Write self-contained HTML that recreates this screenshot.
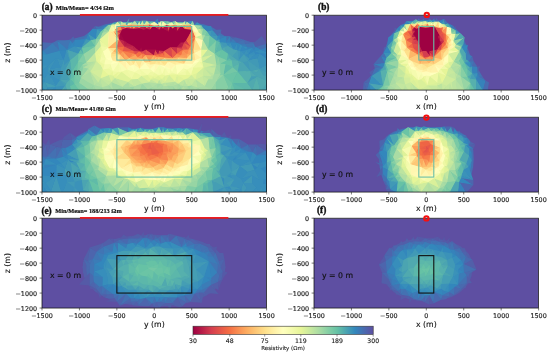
<!DOCTYPE html>
<html><head><meta charset="utf-8"><title>Resistivity sections</title><style>html,body{margin:0;padding:0;background:#fff;overflow:hidden}
svg{display:block}
.tk{font-family:'DejaVu Sans','Liberation Sans',sans-serif;font-size:6.4px;fill:#1a1a1a;stroke:#1a1a1a;stroke-width:0.15px}
.al{font-family:'DejaVu Sans','Liberation Sans',sans-serif;font-size:7.8px;fill:#111;stroke:#111;stroke-width:0.12px}
.an{font-family:'DejaVu Sans','Liberation Sans',sans-serif;font-size:7.8px;fill:#111;stroke:#111;stroke-width:0.15px}
.ct{font-family:'DejaVu Sans','Liberation Sans',sans-serif;font-size:6.2px;fill:#1a1a1a;stroke:#1a1a1a;stroke-width:0.12px}
.cl{font-family:'DejaVu Sans','Liberation Sans',sans-serif;font-size:5.5px;fill:#222;stroke:#222;stroke-width:0.1px}
.ti{font-family:'Liberation Serif',serif;font-weight:bold;fill:#111}
.tb{font-size:9.3px;stroke:#111;stroke-width:0.4px}
.ts{font-size:6.5px;stroke:#111;stroke-width:0.2px}
</style></head>
<body><svg width="550" height="355" viewBox="0 0 550 355">
<defs><clipPath id="cpa"><rect x="42" y="15.2" width="224.6" height="74.87"/></clipPath><clipPath id="cpb"><rect x="314" y="15.2" width="224.6" height="74.87"/></clipPath><clipPath id="cpc"><rect x="42" y="117.2" width="224.6" height="74.87"/></clipPath><clipPath id="cpd"><rect x="314" y="117.2" width="224.6" height="74.87"/></clipPath><clipPath id="cpe"><rect x="42" y="218.2" width="224.6" height="89.84"/></clipPath><clipPath id="cpf"><rect x="314" y="218.2" width="224.6" height="89.84"/></clipPath><linearGradient id="cbg" x1="0" x2="1" y1="0" y2="0"><stop offset="0.00" stop-color="#9e0142"/><stop offset="0.05" stop-color="#b81e48"/><stop offset="0.10" stop-color="#d43d4f"/><stop offset="0.15" stop-color="#e45549"/><stop offset="0.20" stop-color="#f46d43"/><stop offset="0.25" stop-color="#f98e52"/><stop offset="0.30" stop-color="#fdad60"/><stop offset="0.35" stop-color="#fdc776"/><stop offset="0.40" stop-color="#fee08b"/><stop offset="0.45" stop-color="#fff0a6"/><stop offset="0.50" stop-color="#ffffbe"/><stop offset="0.55" stop-color="#f3faac"/><stop offset="0.60" stop-color="#e6f598"/><stop offset="0.65" stop-color="#c8e99e"/><stop offset="0.70" stop-color="#aadca4"/><stop offset="0.75" stop-color="#86cfa5"/><stop offset="0.80" stop-color="#66c2a5"/><stop offset="0.85" stop-color="#4ba4b1"/><stop offset="0.90" stop-color="#3387bc"/><stop offset="0.95" stop-color="#496aaf"/><stop offset="1.00" stop-color="#5e4fa2"/></linearGradient></defs>
<rect width="550" height="355" fill="#fff"/>
<g clip-path="url(#cpa)">
<rect x="42" y="15.2" width="224.6" height="74.87" fill="#5e4fa2"/>
<path fill="#4471b2" fill-rule="evenodd" d="M142.0 21.7L154.5 21.4 192.0 22.0 198.0 23.5 203.0 24.0 213.5 28.1 224.5 36.0 244.0 40.9 267.5 44.3 267.5 90.7 41.0 90.7 41.0 44.3 64.5 40.9 84.0 36.0 95.0 28.1 106.0 24.0 110.5 23.5 117.0 21.9Z"/>
<path fill="#3387bc" fill-rule="evenodd" d="M151.0 21.7L191.5 22.1 198.0 23.9 205.9 26.7 214.5 31.4 225.0 38.8 244.5 45.3 267.5 49.9 267.5 90.7 41.0 90.7 41.0 49.9 64.0 45.3 83.5 38.8 94.0 31.4 102.7 26.7 109.5 24.2 117.0 22.1Z"/>
<path fill="#459eb4" fill-rule="evenodd" d="M130.5 22.2L154.5 21.8 191.5 22.4 199.0 24.6 207.1 29.2 215.2 36.2 225.5 43.9 243.0 53.1 253.5 58.0 267.5 63.5 267.5 90.7 49.5 90.7 51.2 75.2 57.4 64.7 69.5 52.2 85.5 42.3 101.5 29.2 109.0 24.9 117.0 22.4Z"/>
<path fill="#5cb7aa" fill-rule="evenodd" d="M147.5 22.2L191.5 22.6 199.5 25.2 207.0 30.4 213.1 38.7 222.5 48.1 229.3 53.7 238.8 63.2 246.5 71.7 262.0 87.8 262.3 90.7 66.2 90.7 68.7 69.2 70.0 65.7 74.5 56.7 76.3 54.7 94.0 38.8 102.0 30.0 109.5 25.0 117.0 22.6Z"/>
<path fill="#74c7a5" fill-rule="evenodd" d="M127.0 22.7L154.5 22.3 191.5 22.8 199.0 25.3 206.5 30.9 210.7 40.2 224.0 57.2 229.3 67.7 236.7 90.7 73.4 90.7 73.5 78.7 74.9 67.7 79.5 57.1 95.0 40.1 102.0 31.0 107.6 26.7 109.8 25.2 117.0 22.8Z"/>
<path fill="#8fd2a4" fill-rule="evenodd" d="M142.5 22.7L154.5 22.5 191.5 23.1 197.1 25.2 198.8 26.2 204.8 32.2 207.9 41.2 213.4 49.2 220.0 60.1 223.9 72.2 225.6 84.2 225.7 90.7 81.4 90.7 79.6 83.7 79.4 72.7 79.9 68.7 82.5 60.2 89.5 49.7 96.5 41.1 103.0 32.1 110.0 26.0 117.0 23.1Z"/>
<path fill="#aadca4" fill-rule="evenodd" d="M124.5 23.2L154.5 22.7 191.5 23.3 197.0 25.8 202.4 32.2 204.5 41.1 210.5 50.7 215.2 61.2 217.4 72.2 216.9 82.2 216.0 84.3 211.3 90.7 92.7 90.7 86.5 83.7 85.5 81.7 84.4 72.2 86.7 60.7 91.8 50.7 105.4 31.7 111.5 25.8 116.0 23.7 117.0 23.3Z"/>
<path fill="#c3e79f" fill-rule="evenodd" d="M141.0 23.2L154.5 23.0 191.5 23.6 196.6 26.2 198.9 28.7 201.1 32.7 202.4 41.7 207.8 51.7 211.0 61.7 211.6 72.2 209.6 79.7 205.0 83.6 198.0 84.2 108.0 84.3 97.0 83.5 92.0 79.6 91.5 79.2 89.7 72.2 90.5 61.7 94.0 51.7 105.9 32.7 109.3 28.7 111.9 26.2 117.0 23.6Z"/>
<path fill="#daf09a" fill-rule="evenodd" d="M128.5 23.7L154.5 23.3 191.5 23.9 196.5 26.7 198.7 28.7 200.1 33.2 201.5 42.8 205.6 53.2 207.3 62.7 206.5 70.7 205.5 73.3 203.5 76.1 202.5 76.9 195.5 79.5 174.0 80.7 132.0 80.7 109.0 79.7 107.0 79.3 99.0 76.4 97.0 74.5 95.4 71.7 94.4 61.7 96.5 52.2 104.9 35.7 110.0 28.4 116.5 24.1Z"/>
<path fill="#ebf7a0" fill-rule="evenodd" d="M147.5 23.7L191.5 24.2 198.3 28.7 199.8 37.7 200.0 41.2 200.4 41.7 200.5 43.7 200.9 44.2 201.0 46.7 203.2 53.7 203.7 61.7 201.6 69.2 193.5 75.1 174.0 77.3 154.5 77.7 132.0 77.3 109.5 75.1 100.5 69.2 98.2 61.7 98.9 52.7 105.5 36.6 110.3 28.7 117.0 24.2Z"/>
<path fill="#f5fbaf" fill-rule="evenodd" d="M133.0 24.2L154.5 23.9 190.0 24.4 191.5 24.8 197.4 29.2 197.6 29.7 199.7 38.7 199.8 41.2 200.3 41.7 200.3 43.7 200.8 44.2 200.8 46.7 202.1 52.7 201.5 60.7 201.0 62.2 198.2 66.7 192.1 70.7 177.0 72.8 154.5 73.4 132.0 73.0 115.0 70.8 111.0 69.7 105.0 65.7 103.0 60.7 102.5 53.2 104.5 44.7 107.2 36.7 111.0 29.4 117.0 24.8 118.5 24.4Z"/>
<path fill="#fffebe" fill-rule="evenodd" d="M153.5 24.2L190.0 24.7 191.5 25.5 196.5 29.8 199.6 39.2 200.1 43.7 200.6 44.2 201.2 52.7 199.2 60.2 194.5 64.4 192.5 65.8 190.5 66.4 177.0 68.6 154.5 69.0 131.5 68.6 116.5 66.2 113.0 64.5 108.4 61.2 107.9 60.2 106.2 53.2 106.8 44.7 108.5 37.7 111.8 30.2 116.9 25.7 118.5 24.7Z"/>
<path fill="#fff2aa" fill-rule="evenodd" d="M136.5 24.7L154.5 24.5 189.5 24.9 190.4 25.2 195.8 30.7 198.6 38.2 199.8 45.2 199.7 52.2 197.5 58.5 194.5 60.9 191.0 62.9 176.5 65.4 154.5 65.8 132.0 65.4 123.5 64.2 117.0 62.7 111.2 58.7 108.9 52.2 108.8 45.2 110.0 38.2 112.8 30.7 118.5 25.0Z"/>
<path fill="#fee695" fill-rule="evenodd" d="M119.0 25.2L154.5 24.8 189.6 25.2 194.2 30.2 196.8 37.2 198.0 45.2 197.4 53.2 195.5 57.2 193.0 59.7 190.5 60.8 184.5 62.5 176.5 63.3 154.5 63.8 132.5 63.4 124.0 62.5 118.0 60.8 114.8 59.2 112.8 56.7 111.1 52.7 110.6 45.2 111.7 37.7 113.9 31.2 114.7 29.7Z"/>
<path fill="#fed683" fill-rule="evenodd" d="M143.5 25.2L189.5 25.6 193.3 30.2 195.4 37.2 196.3 44.7 195.5 52.7 192.6 57.7 184.0 60.9 169.5 61.6 154.5 61.8 139.0 61.6 124.5 60.9 116.0 57.7 113.1 52.7 112.3 45.2 113.2 37.2 115.1 30.7 118.9 25.7Z"/>
<path fill="#fdc372" fill-rule="evenodd" d="M120.0 25.7L154.5 25.3 189.0 25.7 192.7 30.2 194.9 37.7 195.3 46.2 194.0 52.2 192.5 54.9 191.0 56.5 184.0 59.4 169.5 60.3 154.0 60.4 135.5 60.2 125.0 59.4 123.0 59.0 117.5 56.5 116.3 55.2 114.6 52.2 113.4 46.7 113.7 37.7 115.7 30.7 119.0 26.2Z"/>
<path fill="#fdad60" fill-rule="evenodd" d="M142.0 25.7L189.0 26.1 192.3 30.2 194.3 37.7 194.4 46.7 191.6 53.7 190.0 55.0 185.0 57.8 173.0 58.9 154.5 59.1 135.5 58.9 125.0 58.0 123.0 57.5 117.5 54.2 116.0 51.7 114.2 46.7 114.3 37.7 116.3 30.2 119.5 26.2Z"/>
<path fill="#f99355" fill-rule="evenodd" d="M121.0 26.2L154.5 25.8 188.5 26.3 191.9 30.7 193.5 37.7 193.1 46.7 190.0 52.6 188.5 53.7 184.5 56.0 177.5 57.0 162.0 57.7 146.5 57.7 135.5 57.4 124.0 55.9 118.5 52.5 115.4 46.2 115.1 37.7 116.7 30.7 120.0 26.3Z"/>
<path fill="#f67a49" fill-rule="evenodd" d="M148.0 26.2L188.0 26.5 191.3 31.2 192.4 37.7 191.5 46.2 188.5 50.7 186.5 52.4 183.6 53.7 177.5 55.3 173.0 55.7 162.0 56.3 147.0 56.3 132.0 55.4 125.0 53.7 122.0 52.3 120.5 51.1 116.9 45.7 116.2 37.7 117.4 30.7 120.2 26.7Z"/>
<path fill="#ee6445" fill-rule="evenodd" d="M130.0 26.7L154.5 26.4 188.0 27.0 190.5 30.7 190.7 31.7 191.4 37.7 190.2 45.2 185.5 50.5 176.5 53.8 162.0 54.9 150.5 54.9 131.5 53.6 122.7 50.2 118.4 45.2 117.2 37.7 117.9 31.2 120.5 27.1Z"/>
<path fill="#e1504b" fill-rule="evenodd" d="M122.0 27.2L154.5 26.7 186.6 27.2 187.7 27.7 190.1 31.2 190.8 37.7 188.5 44.8 184.5 48.8 181.5 50.3 176.5 52.1 171.5 52.9 158.0 53.9 147.0 53.8 136.5 52.9 132.0 52.1 125.9 49.7 124.0 48.7 119.7 44.2 117.8 37.7 118.4 31.7 120.9 27.7Z"/>
<path fill="#d43d4f" fill-rule="evenodd" d="M144.5 27.2L154.5 27.0 186.5 27.6 189.7 31.7 190.2 37.7 187.5 43.6 181.0 48.8 171.5 51.7 158.5 52.9 150.5 53.0 136.9 51.7 127.5 48.7 120.8 43.2 118.5 37.2 118.9 31.7 121.8 27.7Z"/>
<path fill="#be254a" fill-rule="evenodd" d="M138.5 27.7L154.5 27.4 186.0 28.0 189.2 31.7 189.4 37.2 186.5 42.4 180.4 47.2 171.5 50.5 154.5 52.4 137.5 50.6 128.5 47.4 123.0 43.2 121.9 42.2 119.3 37.7 119.2 36.2 119.4 31.7 122.5 28.0Z"/>
<path fill="#9e0142" fill-rule="evenodd" d="M136.0 28.2L154.5 27.8 185.5 28.4 186.1 28.7 188.6 31.7 188.7 36.2 185.0 41.5 179.5 45.9 177.0 47.5 171.0 49.4 167.0 50.5 154.5 51.8 141.5 50.4 132.0 47.6 129.6 46.2 123.8 41.7 119.9 36.2 120.0 31.7 122.5 28.7Z"/>
<path fill="#378ebb" d="M56.9 93.0L51.9 93.0 55.7 86.5ZM51.9 93.0L49.0 91.0 55.7 86.5ZM49.0 91.0L45.9 90.8 47.6 87.4ZM40.8 85.9L45.9 90.8 41.3 92.5ZM259.6 53.6L260.9 49.7 268.7 53.4ZM259.6 53.6L254.1 51.0 260.9 49.7ZM56.5 58.2L48.6 65.2 46.7 54.2ZM48.6 65.2L41.5 61.0 46.7 54.2ZM59.5 50.7L56.5 58.2 46.7 54.2ZM59.5 50.7L63.8 60.7 56.5 58.2ZM255.5 54.2L259.6 53.6 257.4 58.2ZM41.5 61.0L40.1 57.9 46.7 54.2ZM40.1 57.9L40.8 54.0 46.7 54.2ZM61.5 67.7L50.3 69.1 56.5 58.2ZM48.6 65.2L38.7 65.3 41.5 61.0ZM100.9 31.4L96.6 29.1 104.8 28.3ZM44.5 78.2L44.7 82.1 40.9 82.1ZM39.8 71.9L48.2 73.1 44.5 78.2ZM48.2 73.1L60.2 80.1 55.7 86.5ZM48.2 73.1L39.8 71.9 48.6 65.2ZM248.1 60.9L249.2 58.8 257.4 58.2ZM249.2 58.8L255.5 54.2 257.4 58.2ZM84.6 39.3L86.1 39.0 81.8 47.5ZM190.5 24.4L186.9 21.7 192.8 20.8ZM230.3 42.4L227.9 46.0 226.2 42.6ZM219.5 39.4L216.1 40.6 217.7 36.1ZM247.1 47.0L246.4 49.7 242.4 46.1ZM248.7 54.2L246.4 49.7 252.2 47.7ZM255.5 54.2L248.7 54.2 254.1 51.0ZM237.6 50.5L240.5 44.2 242.4 46.1ZM237.1 43.1L237.6 50.5 233.6 49.4ZM243.8 54.4L248.7 54.2 249.2 58.8ZM240.3 51.2L237.6 50.5 242.4 46.1ZM243.8 54.4L240.3 51.2 246.4 49.7Z"/>
<path fill="#3b92b9" d="M61.5 90.4L56.9 93.0 55.7 86.5ZM49.0 91.0L47.6 87.4 55.7 86.5ZM65.3 85.6L61.5 90.4 55.7 86.5ZM259.6 53.6L266.7 58.4 257.4 58.2ZM63.8 60.7L66.0 50.6 70.0 60.3ZM63.8 60.7L61.5 67.7 56.5 58.2ZM40.9 82.1L44.7 82.1 40.8 85.9ZM266.7 58.4L267.0 65.2 257.4 58.2ZM267.0 65.2L259.5 69.1 257.4 58.2ZM78.3 53.8L67.4 49.8 74.1 46.2ZM80.5 49.8L78.3 53.8 74.1 46.2ZM50.3 69.1L48.6 65.2 56.5 58.2ZM64.2 65.6L63.8 60.7 70.0 60.3ZM60.2 80.1L50.3 69.1 61.5 67.7ZM39.8 71.9L38.7 65.3 48.6 65.2ZM39.8 71.9L44.5 78.2 39.6 78.3ZM60.2 80.1L48.2 73.1 50.3 69.1ZM44.7 82.1L48.2 73.1 55.7 86.5ZM44.5 78.2L48.2 73.1 44.7 82.1ZM209.9 35.8L212.5 29.9 217.7 36.1ZM194.2 25.3L196.9 22.0 201.8 25.6ZM227.9 46.0L230.3 42.4 233.6 49.4ZM249.2 58.8L248.7 54.2 255.5 54.2ZM248.7 54.2L243.8 54.4 246.4 49.7ZM240.3 51.2L243.8 54.4 238.6 60.7Z"/>
<path fill="#50a9af" d="M259.5 92.7L257.1 76.5 268.9 81.7ZM270.4 86.3L263.2 92.6 268.9 81.7ZM269.4 90.8L263.2 92.6 270.4 86.3ZM61.5 90.4L65.3 85.6 63.5 93.5ZM251.2 76.5L252.7 73.1 257.1 76.5ZM252.7 73.1L251.2 76.5 250.4 71.1ZM259.5 69.1L256.9 72.4 250.4 71.1ZM83.4 53.9L80.5 49.8 81.8 47.5ZM64.6 71.2L71.9 71.5 70.1 79.8ZM150.6 21.4L150.0 24.3 146.8 20.8ZM143.7 25.3L142.8 20.6 146.8 20.8ZM71.9 71.5L65.8 68.6 70.0 60.3ZM252.6 90.9L247.2 83.2 257.1 76.5ZM127.3 25.2L125.3 24.4 129.5 18.0ZM232.4 56.6L231.7 60.6 229.6 58.8ZM227.9 53.7L232.4 56.6 229.6 58.8ZM224.0 46.7L227.9 53.7 221.9 49.8ZM238.6 60.7L231.7 60.6 232.4 56.6ZM238.6 60.7L242.6 62.1 238.7 64.3Z"/>
<path fill="#4ba4b1" d="M257.1 76.5L263.4 75.4 268.9 81.7ZM263.2 92.6L259.5 92.7 268.9 81.7ZM263.4 75.4L267.8 78.7 268.9 81.7ZM65.3 85.6L69.0 93.0 63.5 93.5ZM268.2 75.6L267.8 78.7 263.4 75.4ZM256.9 72.4L263.4 75.4 257.1 76.5ZM256.9 72.4L259.5 69.1 263.4 75.4ZM252.7 73.1L256.9 72.4 257.1 76.5ZM256.9 72.4L252.7 73.1 250.4 71.1ZM67.4 49.8L78.3 53.8 70.0 60.3ZM66.1 83.7L60.2 80.1 70.1 79.8ZM137.5 24.9L134.9 20.8 139.5 21.1ZM142.8 20.6L140.1 24.9 139.5 21.1ZM64.6 71.2L65.8 68.6 71.9 71.5ZM237.7 71.8L242.6 62.1 250.4 71.1ZM238.7 64.3L242.6 62.1 237.7 71.8ZM227.9 53.7L224.0 46.7 227.9 46.0ZM232.4 56.6L227.9 53.7 233.6 49.4ZM227.9 53.7L227.9 46.0 233.6 49.4ZM216.1 40.6L219.5 39.4 219.9 42.2ZM237.6 50.5L232.4 56.6 233.6 49.4Z"/>
<path fill="#56b0ad" d="M70.1 86.1L66.1 83.7 70.1 79.8ZM65.3 85.6L66.1 83.7 70.1 86.1ZM69.0 93.0L65.3 85.6 71.1 90.3ZM65.3 85.6L70.1 86.1 71.1 90.3ZM251.2 76.5L237.7 71.8 250.4 71.1ZM237.7 71.8L251.2 76.5 247.2 83.2ZM252.6 90.9L257.1 76.5 259.5 92.7ZM186.9 21.7L185.0 24.9 184.7 21.1ZM232.7 67.2L231.7 60.6 238.7 64.3ZM227.9 53.7L229.6 58.8 226.8 60.2ZM231.7 60.6L238.6 60.7 238.7 64.3Z"/>
<path fill="#4199b6" d="M45.9 90.8L40.8 85.9 47.6 87.4ZM40.8 85.9L44.7 82.1 47.6 87.4ZM259.5 69.1L267.0 65.2 266.8 72.6ZM66.0 50.6L67.4 49.8 70.0 60.3ZM81.8 47.5L80.5 49.8 74.1 46.2ZM259.5 69.1L248.1 60.9 257.4 58.2ZM63.8 60.7L64.2 65.6 61.5 67.7ZM96.0 39.2L96.6 29.1 100.9 31.4ZM90.7 40.3L88.1 33.4 96.0 39.2ZM60.2 80.1L65.3 85.6 55.7 86.5ZM44.5 78.2L40.9 82.1 39.6 78.3ZM64.6 71.2L60.2 80.1 61.5 67.7ZM50.3 69.1L48.2 73.1 48.6 65.2ZM65.8 68.6L64.2 65.6 70.0 60.3ZM64.2 65.6L65.8 68.6 61.5 67.7ZM65.8 68.6L64.6 71.2 61.5 67.7ZM212.5 29.9L209.9 35.8 207.1 31.7ZM86.1 39.0L90.7 40.3 81.8 47.5ZM242.6 62.1L248.1 60.9 250.4 71.1ZM227.9 46.0L224.0 46.7 226.2 42.6ZM224.0 46.7L219.9 42.2 226.2 42.6ZM216.1 40.6L209.9 35.8 217.7 36.1ZM243.8 54.4L249.2 58.8 248.1 60.9ZM237.6 50.5L240.3 51.2 238.6 60.7Z"/>
<path fill="#3b7cb7" d="M46.7 54.2L42.9 50.9 52.6 43.0ZM42.9 50.9L40.3 51.5 38.7 46.2ZM59.5 50.7L46.7 54.2 52.6 43.0ZM255.4 46.9L252.2 47.7 253.5 43.2ZM252.2 47.7L255.4 46.9 254.1 51.0ZM237.1 43.1L230.3 42.4 232.8 38.7ZM245.2 43.9L247.1 47.0 242.4 46.1ZM219.5 39.4L220.0 35.5 226.4 35.9ZM240.5 44.2L245.2 43.9 242.4 46.1Z"/>
<path fill="#496aaf" d="M42.9 50.9L40.1 42.1 52.6 43.0ZM245.2 43.9L243.4 39.5 253.5 43.2ZM212.5 29.9L221.5 29.4 217.7 36.1ZM237.1 43.1L232.8 38.7 234.9 37.3ZM237.1 43.1L234.9 37.3 243.4 39.5Z"/>
<path fill="#4471b2" d="M40.1 42.1L42.9 50.9 38.7 46.2ZM268.0 46.6L260.9 49.7 266.8 43.7ZM57.2 40.3L59.5 50.7 52.6 43.0ZM260.9 49.7L255.4 46.9 266.8 43.7ZM74.8 40.0L72.4 43.2 69.9 40.3ZM84.8 36.8L84.6 39.3 74.8 40.0ZM111.7 24.5L111.1 23.0 113.0 22.7ZM221.5 29.4L220.0 35.5 217.7 36.1ZM230.3 42.4L229.8 36.1 232.8 38.7ZM226.4 35.9L229.8 36.1 226.2 42.6ZM240.5 44.2L237.1 43.1 243.4 39.5ZM245.2 43.9L240.5 44.2 243.4 39.5Z"/>
<path fill="#97d5a4" d="M94.2 85.3L92.3 91.1 87.5 88.8ZM144.3 93.0L147.8 89.1 148.2 93.8ZM108.9 31.5L102.5 32.4 104.8 28.3ZM216.5 92.7L210.9 89.6 215.5 82.3ZM95.4 46.2L95.0 53.0 83.4 53.9ZM95.0 53.0L86.2 62.4 83.4 53.9ZM88.4 68.6L80.9 78.1 83.0 67.5ZM82.2 65.1L88.1 64.9 83.0 67.5ZM161.5 26.4L160.6 20.9 162.6 21.1ZM219.9 75.3L223.3 75.1 215.5 82.3ZM108.1 25.0L111.7 24.5 108.9 31.5ZM219.8 63.8L215.6 67.2 216.5 64.9ZM220.5 73.1L215.6 67.2 219.8 63.8Z"/>
<path fill="#9cd7a4" d="M96.4 90.4L92.3 91.1 94.2 85.3ZM80.9 78.1L94.2 85.3 87.5 88.8ZM122.3 87.1L127.6 91.0 123.7 90.9ZM79.0 82.7L80.9 78.1 87.5 88.8ZM197.6 87.4L205.3 92.9 199.9 94.4ZM133.1 90.2L129.5 87.1 134.5 86.5ZM144.3 93.0L138.9 92.4 141.9 83.6ZM147.8 89.1L144.3 93.0 141.9 83.6ZM210.9 89.6L209.1 93.1 205.3 92.9ZM165.2 90.0L169.0 88.7 166.5 93.1ZM180.7 93.8L181.3 89.6 183.4 94.5ZM154.9 94.1L156.7 89.0 159.0 92.9ZM147.8 89.1L151.7 94.2 148.2 93.8ZM151.7 94.2L147.8 89.1 152.5 87.2ZM203.6 28.6L201.9 35.0 201.3 28.5ZM197.6 92.8L195.3 90.7 197.6 87.4ZM180.7 93.8L176.6 90.4 181.3 89.6ZM176.6 90.4L173.0 92.8 172.9 86.3ZM181.3 89.6L176.6 90.4 180.9 86.5ZM120.6 90.4L113.1 90.2 122.3 87.1ZM102.2 87.3L99.4 91.0 96.4 90.4ZM102.2 87.3L103.1 90.2 99.4 91.0ZM189.1 91.1L187.5 85.9 191.3 85.4ZM181.3 89.6L185.9 90.9 183.4 94.5ZM215.6 67.2L220.5 73.1 213.9 74.7Z"/>
<path fill="#86cfa5" d="M92.3 91.1L86.6 93.1 87.5 88.8ZM86.6 93.1L79.9 91.0 87.5 88.8ZM82.2 65.1L83.0 67.5 77.4 71.5ZM80.9 78.1L78.8 75.4 83.0 67.5ZM228.4 87.0L216.5 92.7 215.5 82.3ZM223.3 75.1L228.4 87.0 215.5 82.3ZM221.3 94.5L228.4 87.0 224.5 94.3ZM205.0 35.6L201.9 35.0 207.1 31.7ZM214.5 53.7L218.3 56.7 216.5 64.9ZM205.0 35.6L209.9 35.8 202.9 40.1ZM209.9 35.8L208.0 49.4 202.9 40.1Z"/>
<path fill="#66c2a5" d="M70.1 86.1L74.6 83.8 71.1 90.3ZM71.9 71.5L78.1 61.9 77.4 71.5ZM74.6 83.8L79.9 91.0 71.1 90.3ZM74.5 75.8L71.6 80.3 70.1 79.8ZM71.6 80.3L74.5 75.8 74.6 83.8ZM232.0 82.9L237.7 71.8 247.2 83.2ZM203.6 28.6L201.3 28.5 201.8 25.6ZM218.3 56.7L227.9 53.7 226.8 60.2ZM221.9 49.8L227.9 53.7 218.3 56.7ZM225.5 64.0L219.8 63.8 226.8 60.2ZM231.7 60.6L225.5 64.0 226.8 60.2ZM225.5 64.0L231.7 60.6 232.7 67.2Z"/>
<path fill="#459eb4" d="M266.8 72.6L268.2 75.6 263.4 75.4ZM259.5 69.1L266.8 72.6 263.4 75.4ZM47.6 87.4L44.7 82.1 55.7 86.5ZM247.2 83.2L251.2 76.5 257.1 76.5ZM248.1 60.9L259.5 69.1 250.4 71.1ZM65.3 85.6L60.2 80.1 66.1 83.7ZM60.2 80.1L64.6 71.2 70.1 79.8ZM113.0 22.7L117.6 21.8 114.8 24.6ZM219.9 42.2L224.0 46.7 221.9 49.8ZM237.6 50.5L238.6 60.7 232.4 56.6ZM242.6 62.1L243.8 54.4 248.1 60.9ZM238.6 60.7L243.8 54.4 242.6 62.1Z"/>
<path fill="#b5e1a2" d="M98.2 82.2L94.2 85.3 90.4 71.6ZM134.5 86.5L129.5 87.1 128.2 81.9ZM208.2 79.2L211.7 76.3 212.7 79.5ZM175.1 81.8L178.4 83.7 172.9 86.3ZM165.0 82.8L175.1 81.8 167.3 86.1ZM88.4 68.6L88.1 64.9 96.5 61.3ZM201.9 61.9L214.5 53.7 216.5 64.9ZM165.0 82.8L162.9 86.2 161.3 83.7ZM102.2 87.3L98.2 82.2 100.6 78.2ZM184.2 79.5L187.5 85.9 183.2 86.0ZM216.5 64.9L215.6 67.2 203.5 67.4Z"/>
<path fill="#c8e99e" d="M100.6 78.2L98.2 82.2 90.4 71.6ZM131.4 79.2L134.5 86.5 128.2 81.9ZM195.5 79.5L202.7 75.7 205.0 86.3ZM211.7 76.3L202.7 75.7 203.5 67.4ZM195.5 79.5L191.3 85.4 187.7 78.3ZM176.7 25.4L173.9 25.0 174.9 20.8ZM108.9 75.0L111.4 82.0 100.6 78.2ZM187.5 85.9L184.2 79.5 187.7 78.3Z"/>
<path fill="#c3e79f" d="M134.5 86.5L137.8 79.0 141.9 83.6ZM131.4 79.2L137.8 79.0 134.5 86.5ZM122.3 87.1L115.0 78.1 128.2 81.9ZM202.7 75.7L208.2 79.2 205.0 86.3ZM150.9 79.3L157.5 83.5 149.1 82.2ZM86.2 62.4L95.0 53.0 96.5 61.3ZM120.9 21.2L125.3 24.4 120.6 25.6ZM185.0 24.9L186.9 21.7 190.5 24.4ZM111.4 82.0L108.7 85.3 100.6 78.2ZM191.3 85.4L187.5 85.9 187.7 78.3ZM215.6 67.2L213.9 74.7 203.5 67.4Z"/>
<path fill="#aadca4" d="M136.9 90.4L134.5 86.5 141.9 83.6ZM94.2 85.3L80.9 78.1 90.4 71.6ZM205.3 92.9L197.6 87.4 205.0 86.3ZM136.9 90.4L133.1 90.2 134.5 86.5ZM129.5 87.1L122.3 87.1 128.2 81.9ZM138.9 92.4L136.9 90.4 141.9 83.6ZM147.8 89.1L149.1 82.2 152.5 87.2ZM149.1 82.2L147.8 89.1 141.9 83.6ZM210.9 89.6L205.3 92.9 205.0 86.3ZM169.0 88.7L165.2 90.0 167.3 86.1ZM157.5 83.5L156.7 89.0 152.5 87.2ZM99.6 39.6L102.5 32.4 108.9 31.5ZM201.9 35.0L205.0 35.6 202.9 40.1ZM195.3 90.7L191.3 85.4 197.6 87.4ZM178.4 83.7L176.6 90.4 172.9 86.3ZM162.9 86.2L156.7 89.0 161.3 83.7ZM162.4 92.4L162.9 86.2 165.2 90.0ZM165.2 90.0L162.9 86.2 167.3 86.1ZM108.7 85.3L103.1 90.2 102.2 87.3ZM187.5 85.9L185.9 90.9 183.2 86.0ZM108.7 85.3L108.9 90.7 103.1 90.2Z"/>
<path fill="#5cb7aa" d="M78.3 53.8L78.1 61.9 70.0 60.3ZM78.1 61.9L71.9 71.5 70.0 60.3ZM71.6 80.3L70.1 86.1 70.1 79.8ZM71.6 80.3L74.6 83.8 70.1 86.1ZM232.0 82.9L247.2 83.2 244.0 88.7ZM247.1 93.7L242.7 92.7 244.0 88.7ZM247.2 83.2L249.1 90.4 244.0 88.7ZM252.6 90.9L249.1 90.4 247.2 83.2ZM214.5 53.7L219.9 42.2 221.9 49.8ZM232.7 67.2L238.7 64.3 237.7 71.8ZM131.3 24.4L131.8 22.2 134.9 20.8ZM111.7 24.5L113.0 22.7 114.8 24.6Z"/>
<path fill="#3682ba" d="M260.9 49.7L268.0 46.6 268.7 53.4ZM59.5 50.7L57.2 40.3 66.0 50.6ZM57.2 40.3L67.4 49.8 66.0 50.6ZM72.4 43.2L67.4 49.8 69.9 40.3ZM72.4 43.2L74.8 40.0 74.1 46.2ZM211.1 25.9L212.5 29.9 207.1 31.7ZM154.3 21.7L157.7 18.5 158.4 24.9ZM203.6 28.6L211.1 25.9 207.1 31.7ZM203.6 28.6L201.8 25.6 211.1 25.9ZM86.1 39.0L84.6 39.3 84.8 36.8ZM246.4 49.7L247.1 47.0 252.2 47.7ZM229.8 36.1L230.3 42.4 226.2 42.6Z"/>
<path fill="#3387bc" d="M266.7 58.4L259.6 53.6 268.7 53.4ZM40.8 54.0L42.9 50.9 46.7 54.2ZM40.8 54.0L40.3 51.5 42.9 50.9ZM63.8 60.7L59.5 50.7 66.0 50.6ZM254.1 51.0L255.4 46.9 260.9 49.7ZM259.6 53.6L255.5 54.2 254.1 51.0ZM74.8 40.0L81.8 47.5 74.1 46.2ZM67.4 49.8L72.4 43.2 74.1 46.2ZM74.8 40.0L84.6 39.3 81.8 47.5ZM90.7 40.3L86.1 39.0 88.1 33.4ZM111.1 23.0L111.7 24.5 108.1 25.0ZM219.5 39.4L226.4 35.9 226.2 42.6ZM219.9 42.2L219.5 39.4 226.2 42.6ZM230.3 42.4L237.1 43.1 233.6 49.4ZM248.7 54.2L252.2 47.7 254.1 51.0ZM88.1 33.4L92.8 28.6 96.0 39.2ZM92.8 28.6L96.6 29.1 96.0 39.2ZM220.0 35.5L219.5 39.4 217.7 36.1ZM240.5 44.2L237.6 50.5 237.1 43.1ZM246.4 49.7L240.3 51.2 242.4 46.1Z"/>
<path fill="#9e0142" d="M158.1 42.7L160.5 47.1 156.9 46.7ZM141.2 47.3L139.3 51.3 133.5 46.1ZM160.5 47.1L159.3 50.4 156.9 46.7ZM159.3 50.4L160.5 47.1 164.0 51.1ZM138.5 43.1L141.2 47.3 133.5 46.1ZM131.0 36.1L129.5 42.3 127.1 38.6ZM131.0 36.1L134.0 36.2 129.5 42.3ZM127.3 43.1L129.5 42.3 133.5 46.1ZM129.5 42.3L127.3 43.1 127.1 38.6ZM127.3 43.1L124.5 40.8 127.1 38.6ZM124.5 40.8L124.8 32.9 127.1 38.6ZM124.5 40.8L120.5 32.9 124.8 32.9ZM156.7 40.7L153.1 38.9 156.5 36.3ZM160.7 35.3L156.7 40.7 156.5 36.3ZM156.7 40.7L160.7 35.3 158.1 42.7ZM156.7 40.7L155.5 42.9 153.1 38.9ZM155.5 42.9L158.1 42.7 156.9 46.7ZM155.5 42.9L156.7 40.7 158.1 42.7ZM155.5 42.9L148.0 46.7 153.1 38.9ZM120.5 32.9L122.0 29.4 124.8 32.9ZM176.8 31.5L178.7 36.5 171.5 36.0ZM154.0 31.4L158.6 32.0 156.5 36.3ZM158.6 32.0L160.7 35.3 156.5 36.3ZM158.6 32.0L154.0 31.4 156.5 27.8ZM172.7 28.6L176.8 31.5 171.5 36.0ZM163.0 44.5L160.5 47.1 158.1 42.7ZM160.5 47.1L163.0 44.5 164.0 51.1ZM163.0 44.5L170.7 46.9 164.0 51.1ZM170.7 46.9L163.0 44.5 166.7 43.0ZM146.0 49.5L142.4 51.5 141.2 47.3ZM129.5 42.3L135.6 42.2 133.5 46.1ZM135.6 42.2L138.5 43.1 133.5 46.1ZM134.0 36.2L135.6 42.2 129.5 42.3ZM145.8 47.7L146.0 49.5 141.2 47.3ZM145.8 47.7L148.0 46.7 146.0 49.5ZM122.0 29.4L126.0 28.0 124.8 32.9ZM182.5 33.2L176.8 31.5 184.6 29.1ZM182.5 33.2L178.7 36.5 176.8 31.5ZM178.7 36.5L172.5 39.7 171.5 36.0ZM159.3 29.8L158.6 32.0 156.5 27.8ZM163.0 44.5L163.4 35.6 166.7 43.0ZM160.7 35.3L163.4 35.6 158.1 42.7ZM163.4 35.6L163.0 44.5 158.1 42.7ZM159.3 50.4L155.1 49.5 156.9 46.7ZM148.0 46.7L155.1 49.5 146.0 49.5ZM155.1 49.5L155.5 42.9 156.9 46.7ZM155.1 49.5L148.0 46.7 155.5 42.9ZM149.9 29.6L149.3 33.7 147.0 28.6ZM149.3 33.7L144.7 32.5 147.0 28.6ZM149.3 33.7L149.9 29.6 154.0 31.4ZM149.3 33.7L146.7 36.3 144.7 32.5ZM148.0 46.7L146.7 36.3 153.1 38.9ZM144.7 32.5L144.0 29.8 147.0 28.6ZM144.0 29.8L141.6 33.4 138.8 28.3ZM141.6 33.4L144.0 29.8 144.7 32.5ZM126.0 28.0L128.9 32.8 124.8 32.9ZM128.9 32.8L126.0 28.0 131.2 28.6ZM124.8 32.9L128.9 32.8 127.1 38.6ZM128.9 32.8L131.0 36.1 127.1 38.6ZM128.9 32.8L131.2 28.6 133.6 28.7ZM134.0 36.2L128.9 32.8 133.6 28.7ZM131.0 36.1L128.9 32.8 134.0 36.2ZM154.0 31.4L153.4 25.6 156.5 27.8ZM149.9 29.6L153.4 25.6 154.0 31.4ZM192.3 29.4L182.5 33.2 184.6 29.1ZM182.5 33.2L186.0 40.6 178.7 36.5ZM186.0 40.6L183.9 42.5 178.7 36.5ZM192.3 29.4L186.0 40.6 182.5 33.2ZM172.5 39.7L178.7 40.7 176.8 47.3ZM178.7 40.7L172.5 39.7 178.7 36.5ZM183.9 42.5L178.7 40.7 178.7 36.5ZM170.7 46.9L170.5 43.2 176.8 47.3ZM170.5 43.2L172.5 39.7 176.8 47.3ZM170.5 43.2L170.7 46.9 166.7 43.0ZM163.4 35.6L169.0 38.8 166.7 43.0ZM169.0 38.8L163.4 35.6 167.5 35.8ZM169.0 38.8L170.5 43.2 166.7 43.0ZM170.5 43.2L169.0 38.8 172.5 39.7ZM169.0 38.8L167.5 35.8 171.5 36.0ZM172.5 39.7L169.0 38.8 171.5 36.0ZM168.7 31.7L169.9 25.4 172.7 28.6ZM168.7 31.7L172.7 28.6 171.5 36.0ZM167.5 35.8L168.7 31.7 171.5 36.0ZM146.7 36.3L151.1 36.3 153.1 38.9ZM151.1 36.3L146.7 36.3 149.3 33.7ZM153.1 38.9L151.1 36.3 156.5 36.3ZM151.1 36.3L154.0 31.4 156.5 36.3ZM151.1 36.3L149.3 33.7 154.0 31.4ZM138.2 35.2L135.6 42.2 134.0 36.2ZM141.6 33.4L138.2 35.2 138.8 28.3ZM138.2 35.2L134.0 36.2 133.6 28.7ZM138.8 28.3L138.2 35.2 133.6 28.7ZM180.5 42.5L178.7 40.7 183.9 42.5ZM178.7 40.7L180.5 42.5 176.8 47.3ZM162.6 33.0L163.4 35.6 160.7 35.3ZM163.4 35.6L162.6 33.0 167.5 35.8ZM162.6 33.0L168.7 31.7 167.5 35.8ZM158.6 32.0L162.6 33.0 160.7 35.3ZM159.3 29.8L162.6 33.0 158.6 32.0ZM135.6 42.2L141.4 39.2 138.5 43.1ZM138.2 35.2L141.4 39.2 135.6 42.2ZM141.4 39.2L146.7 36.3 148.0 46.7ZM145.8 47.7L141.4 39.2 148.0 46.7ZM138.5 43.1L141.4 39.2 141.2 47.3ZM141.4 39.2L145.8 47.7 141.2 47.3ZM162.6 28.5L162.6 33.0 159.3 29.8ZM162.6 33.0L162.6 28.5 168.7 31.7ZM142.0 37.2L138.2 35.2 141.6 33.4ZM142.0 37.2L141.4 39.2 138.2 35.2ZM141.4 39.2L142.0 37.2 146.7 36.3ZM146.7 36.3L142.0 37.2 144.7 32.5ZM142.0 37.2L141.6 33.4 144.7 32.5Z"/>
<path fill="#de4c4b" d="M133.5 51.1L139.3 51.3 135.7 54.6ZM131.2 28.6L131.3 24.4 133.6 28.7ZM183.9 42.5L188.4 49.7 181.9 47.5ZM169.9 25.4L168.7 31.7 166.9 24.8ZM158.1 54.5L153.9 55.3 155.1 49.5Z"/>
<path fill="#be254a" d="M139.3 51.3L133.5 51.1 133.5 46.1ZM118.9 39.2L124.5 40.8 124.1 46.4ZM144.0 29.8L138.8 28.3 143.7 25.3Z"/>
<path fill="#c32a4b" d="M133.5 51.1L124.1 46.4 133.5 46.1ZM120.5 32.9L118.9 39.2 118.1 35.1Z"/>
<path fill="#e45549" d="M124.1 46.4L133.5 51.1 122.7 51.2ZM188.4 49.7L182.7 49.7 181.9 47.5ZM116.3 47.9L118.9 39.2 124.1 46.4ZM131.2 28.6L126.0 28.0 127.3 25.2Z"/>
<path fill="#ea5e47" d="M132.7 53.2L133.5 51.1 135.7 54.6ZM172.6 58.3L170.7 46.9 177.0 53.8ZM183.9 42.5L190.4 46.4 188.4 49.7ZM142.4 51.5L145.5 55.0 142.2 53.7ZM164.7 57.7L162.3 53.3 164.0 51.1Z"/>
<path fill="#f06744" d="M133.5 51.1L132.7 53.2 122.7 51.2ZM115.8 31.3L120.5 32.9 118.1 35.1ZM186.0 40.6L192.3 29.4 195.3 36.9Z"/>
<path fill="#f8fcb4" d="M127.2 69.5L121.7 71.7 119.1 61.9ZM192.6 64.0L193.0 67.4 191.4 67.5ZM192.6 64.0L199.0 61.4 193.0 67.4ZM169.2 74.7L165.0 67.7 170.5 69.6ZM162.1 74.6L159.6 64.7 165.0 67.7Z"/>
<path fill="#dff299" d="M121.7 71.7L131.4 79.2 128.2 81.9ZM149.1 82.2L141.3 75.7 147.7 75.0ZM115.0 78.1L121.7 71.7 128.2 81.9ZM191.2 74.9L197.1 73.0 195.5 79.5ZM169.2 74.7L165.0 82.8 164.9 75.5ZM150.9 79.3L149.1 82.2 147.7 75.0ZM150.9 79.3L153.2 75.9 154.3 78.6ZM177.0 74.6L184.2 79.5 178.4 83.7ZM158.6 75.2L159.2 80.1 154.3 78.6ZM162.2 79.3L159.2 80.1 158.6 75.2Z"/>
<path fill="#eef8a4" d="M131.4 79.2L121.7 71.7 127.2 69.5ZM172.1 72.2L177.0 74.6 169.2 74.7ZM113.0 71.6L118.7 72.1 113.0 75.7ZM111.7 24.5L113.3 31.4 108.9 31.5ZM150.3 71.4L153.2 75.9 147.7 75.0ZM185.9 74.9L185.3 70.8 187.1 69.5ZM150.3 71.4L154.3 72.6 153.2 75.9Z"/>
<path fill="#fff2aa" d="M125.5 60.6L127.2 69.5 119.1 61.9ZM133.6 64.4L135.5 60.6 139.6 68.9ZM195.0 38.8L195.3 36.9 202.9 40.1ZM195.5 32.4L198.4 32.3 195.3 36.9ZM184.0 63.7L187.0 58.2 192.6 64.0ZM142.0 58.8L145.2 62.2 139.6 68.9Z"/>
<path fill="#4175b4" d="M67.4 49.8L57.2 40.3 69.9 40.3ZM96.6 29.1L95.0 26.1 104.8 28.3ZM86.1 39.0L84.8 36.8 88.1 33.4ZM252.2 47.7L247.1 47.0 253.5 43.2ZM247.1 47.0L245.2 43.9 253.5 43.2Z"/>
<path fill="#6bc4a5" d="M78.3 53.8L83.4 53.9 78.1 61.9ZM74.5 75.8L71.9 71.5 77.4 71.5ZM95.4 46.2L83.4 53.9 81.8 47.5ZM223.3 75.1L237.7 71.8 232.0 82.9ZM117.6 21.8L120.9 21.2 120.6 25.6ZM150.6 21.4L154.3 21.7 150.0 24.3ZM234.6 90.5L230.2 90.3 232.0 82.9ZM214.5 53.7L221.9 49.8 218.3 56.7ZM209.9 35.8L216.1 40.6 208.0 49.4Z"/>
<path fill="#60bba8" d="M80.5 49.8L83.4 53.9 78.3 53.8ZM71.9 71.5L74.5 75.8 70.1 79.8ZM242.7 92.7L237.6 93.6 244.0 88.7ZM249.1 90.4L247.1 93.7 244.0 88.7ZM237.6 93.6L234.6 90.5 244.0 88.7ZM234.6 90.5L232.0 82.9 244.0 88.7ZM90.7 40.3L95.4 46.2 81.8 47.5ZM162.6 21.1L166.4 21.1 166.9 24.8ZM229.6 58.8L231.7 60.6 226.8 60.2ZM216.1 40.6L219.9 42.2 214.5 53.7ZM225.5 64.0L232.7 67.2 223.3 75.1Z"/>
<path fill="#79c9a5" d="M78.1 61.9L82.2 65.1 77.4 71.5ZM79.0 82.7L79.9 91.0 74.6 83.8ZM79.0 82.7L74.5 75.8 80.9 78.1ZM86.2 62.4L82.2 65.1 78.1 61.9ZM74.5 75.8L78.8 75.4 80.9 78.1ZM230.2 90.3L228.4 87.0 232.0 82.9ZM228.4 87.0L230.2 90.3 224.5 94.3ZM173.9 25.0L171.6 22.2 174.9 20.8Z"/>
<path fill="#525fa9" d="M255.4 46.9L261.7 36.0 266.8 43.7ZM261.7 36.0L255.4 46.9 253.5 43.2ZM196.9 22.0L194.2 25.3 192.8 20.8ZM232.8 38.7L229.8 36.1 234.9 37.3Z"/>
<path fill="#4d65ad" d="M73.3 36.3L74.8 40.0 69.9 40.3ZM96.6 29.1L92.8 28.6 95.0 26.1Z"/>
<path fill="#d3ed9c" d="M140.1 24.9L137.5 24.9 139.5 21.1ZM150.0 24.3L143.7 25.3 146.8 20.8ZM142.8 20.6L143.7 25.3 140.1 24.9ZM197.1 73.0L202.7 75.7 195.5 79.5ZM165.0 82.8L169.2 74.7 175.1 81.8ZM157.5 83.5L150.9 79.3 154.3 78.6ZM103.0 69.6L100.6 78.2 90.4 71.6ZM114.8 24.6L117.6 21.8 120.6 25.6ZM195.3 36.9L201.9 35.0 202.9 40.1ZM214.5 53.7L201.9 61.9 201.3 57.7ZM159.2 80.1L157.5 83.5 154.3 78.6ZM115.0 78.1L111.4 82.0 113.0 75.7ZM201.3 28.5L198.4 32.3 197.3 29.5ZM162.2 79.3L165.0 82.8 161.3 83.7Z"/>
<path fill="#f99355" d="M143.7 25.3L150.0 24.3 147.0 28.6ZM142.0 58.8L137.5 57.5 142.2 53.7ZM153.4 25.6L158.4 24.9 156.5 27.8ZM178.5 57.6L172.6 58.3 177.0 53.8ZM145.5 55.0L153.9 55.3 149.2 62.0ZM187.2 54.3L181.1 55.2 182.7 49.7Z"/>
<path fill="#74c7a5" d="M74.5 75.8L79.0 82.7 74.6 83.8ZM102.5 32.4L100.9 31.4 104.8 28.3ZM95.4 46.2L90.7 40.3 96.0 39.2ZM78.8 75.4L74.5 75.8 77.4 71.5ZM228.4 87.0L223.3 75.1 232.0 82.9ZM99.6 39.6L96.0 39.2 100.9 31.4ZM102.5 32.4L99.6 39.6 100.9 31.4ZM223.3 75.1L232.7 67.2 237.7 71.8ZM209.9 35.8L205.0 35.6 207.1 31.7Z"/>
<path fill="#81cda5" d="M79.9 91.0L79.0 82.7 87.5 88.8ZM83.4 53.9L86.2 62.4 78.1 61.9ZM83.0 67.5L78.8 75.4 77.4 71.5ZM219.8 63.8L218.3 56.7 226.8 60.2ZM108.1 25.0L108.9 31.5 104.8 28.3ZM201.9 35.0L203.6 28.6 207.1 31.7ZM166.4 21.1L171.6 22.2 166.9 24.8ZM219.9 75.3L220.5 73.1 223.3 75.1ZM216.1 40.6L214.5 53.7 208.0 49.4ZM220.5 73.1L225.5 64.0 223.3 75.1ZM225.5 64.0L220.5 73.1 219.8 63.8Z"/>
<path fill="#e1504b" d="M176.8 47.3L182.7 49.7 177.0 53.8ZM161.5 26.4L159.3 29.8 158.4 24.9ZM153.9 55.3L145.5 55.0 146.0 49.5Z"/>
<path fill="#d43d4f" d="M182.7 49.7L176.8 47.3 181.9 47.5ZM115.8 31.3L122.0 29.4 120.5 32.9Z"/>
<path fill="#b1dfa3" d="M197.6 87.4L195.5 79.5 205.0 86.3ZM167.3 86.1L175.1 81.8 172.9 86.3ZM211.7 76.3L213.9 74.7 212.7 79.5ZM178.4 83.7L183.2 86.0 180.9 86.5ZM149.1 82.2L157.5 83.5 152.5 87.2ZM80.9 78.1L88.4 68.6 90.4 71.6ZM88.1 64.9L88.4 68.6 83.0 67.5ZM88.1 64.9L86.2 62.4 96.5 61.3ZM98.2 82.2L102.2 87.3 94.2 85.3ZM108.7 85.3L111.4 82.0 113.1 90.2ZM183.2 86.0L185.9 90.9 181.3 89.6Z"/>
<path fill="#cfec9d" d="M191.2 74.9L195.5 79.5 187.7 78.3ZM201.9 61.9L216.5 64.9 203.5 67.4ZM137.8 79.0L141.3 75.7 141.9 83.6ZM141.3 75.7L149.1 82.2 141.9 83.6ZM202.7 75.7L197.1 73.0 203.5 67.4ZM159.2 80.1L162.2 79.3 161.3 83.7ZM96.5 61.3L101.0 65.3 90.4 71.6ZM101.0 65.3L103.0 69.6 90.4 71.6Z"/>
<path fill="#fff8b4" d="M201.2 49.8L201.3 57.7 193.8 53.1ZM201.2 49.8L195.0 38.8 202.9 40.1ZM114.8 29.4L114.8 24.6 120.6 25.6ZM164.6 65.7L168.3 61.2 170.5 69.6ZM125.5 60.6L130.0 65.7 127.2 69.5ZM154.3 72.6L154.9 63.9 159.6 64.7Z"/>
<path fill="#e6f598" d="M201.3 57.7L201.2 49.8 208.0 49.4ZM169.2 74.7L177.0 74.6 175.1 81.8ZM118.7 72.1L115.0 78.1 113.0 75.7ZM95.0 53.0L100.8 56.5 96.5 61.3ZM95.0 53.0L100.9 46.0 100.4 54.2ZM131.8 22.2L131.3 24.4 127.3 25.2ZM111.7 24.5L114.8 24.6 114.8 29.4ZM185.9 74.9L184.2 79.5 177.0 74.6ZM184.2 79.5L185.9 74.9 187.7 78.3ZM185.9 74.9L191.2 74.9 187.7 78.3ZM103.0 69.6L108.9 75.0 100.6 78.2ZM99.8 62.1L101.0 65.3 96.5 61.3Z"/>
<path fill="#bce4a0" d="M208.0 49.4L201.2 49.8 202.9 40.1ZM213.9 74.7L211.7 76.3 203.5 67.4ZM211.7 76.3L208.2 79.2 202.7 75.7ZM88.4 68.6L96.5 61.3 90.4 71.6ZM131.3 24.4L134.9 20.8 137.5 24.9ZM197.6 87.4L191.3 85.4 195.5 79.5ZM214.5 53.7L201.3 57.7 208.0 49.4ZM178.4 83.7L184.2 79.5 183.2 86.0ZM162.9 86.2L165.0 82.8 167.3 86.1ZM157.5 83.5L159.2 80.1 161.3 83.7ZM111.4 82.0L115.0 78.1 122.3 87.1ZM100.9 46.0L95.0 53.0 95.4 46.2ZM99.6 39.6L100.9 46.0 95.4 46.2ZM201.9 35.0L198.4 32.3 201.3 28.5ZM108.7 85.3L102.2 87.3 100.6 78.2Z"/>
<path fill="#fff0a6" d="M201.3 57.7L195.4 60.2 193.8 53.1ZM113.2 51.2L111.3 53.7 107.8 48.0ZM192.6 64.0L187.0 58.2 195.4 60.2ZM176.6 61.9L184.0 63.7 175.7 64.8Z"/>
<path fill="#a4daa4" d="M183.2 86.0L181.3 89.6 180.9 86.5ZM122.3 87.1L129.5 87.1 127.6 91.0ZM129.5 87.1L133.1 90.2 127.6 91.0ZM215.5 82.3L210.9 89.6 212.7 79.5ZM209.1 93.1L210.9 89.6 214.2 93.9ZM208.2 79.2L210.9 89.6 205.0 86.3ZM210.9 89.6L208.2 79.2 212.7 79.5ZM169.0 88.7L167.3 86.1 172.9 86.3ZM156.7 89.0L154.9 94.1 152.5 87.2ZM154.9 94.1L151.7 94.2 152.5 87.2ZM162.4 92.4L165.2 90.0 166.5 93.1ZM156.7 89.0L162.4 92.4 159.0 92.9ZM156.7 89.0L157.5 83.5 161.3 83.7ZM86.2 62.4L88.1 64.9 82.2 65.1ZM197.6 92.8L197.6 87.4 199.9 94.4ZM219.9 75.3L215.5 82.3 212.7 79.5ZM213.9 74.7L219.9 75.3 212.7 79.5ZM173.0 92.8L169.0 88.7 172.9 86.3ZM169.0 88.7L173.0 92.8 166.5 93.1ZM176.6 90.4L178.4 83.7 180.9 86.5ZM162.9 86.2L162.4 92.4 156.7 89.0ZM113.1 90.2L111.4 82.0 122.3 87.1ZM120.6 90.4L122.3 87.1 123.7 90.9ZM102.2 87.3L96.4 90.4 94.2 85.3ZM194.2 25.3L201.8 25.6 197.3 29.5ZM189.1 91.1L191.3 85.4 195.3 90.7ZM220.5 73.1L219.9 75.3 213.9 74.7ZM185.9 90.9L187.5 85.9 189.1 91.1ZM108.9 90.7L108.7 85.3 113.1 90.2Z"/>
<path fill="#f98e52" d="M143.7 25.3L138.8 28.3 140.1 24.9ZM129.4 58.3L132.7 53.2 135.7 54.6ZM122.0 29.4L114.8 29.4 120.6 25.6ZM190.4 46.4L193.5 50.0 188.4 49.7ZM122.0 29.4L115.8 31.3 114.8 29.4ZM181.1 55.2L178.5 57.6 177.0 53.8Z"/>
<path fill="#da464d" d="M137.5 24.9L138.8 28.3 133.6 28.7ZM170.7 46.9L172.6 58.3 164.0 51.1ZM142.4 51.5L142.2 53.7 139.3 51.3ZM176.7 25.4L181.2 25.6 176.8 31.5ZM162.3 53.3L158.1 54.5 159.3 50.4Z"/>
<path fill="#fa9b58" d="M138.8 28.3L137.5 24.9 140.1 24.9ZM125.5 60.6L120.0 54.6 122.7 51.2ZM193.5 50.0L190.4 46.4 195.0 38.8ZM131.3 24.4L131.2 28.6 127.3 25.2ZM190.0 54.8L187.2 54.3 188.4 49.7ZM181.1 55.2L187.2 54.3 187.0 58.2Z"/>
<path fill="#b81e48" d="M124.1 46.4L127.3 43.1 133.5 46.1ZM180.5 42.5L183.9 42.5 181.9 47.5Z"/>
<path fill="#b41947" d="M124.5 40.8L127.3 43.1 124.1 46.4ZM144.0 29.8L143.7 25.3 147.0 28.6ZM176.8 47.3L180.5 42.5 181.9 47.5Z"/>
<path fill="#f46d43" d="M116.3 47.9L124.1 46.4 122.7 51.2ZM142.2 53.7L137.5 57.5 139.3 51.3ZM153.4 25.6L149.9 29.6 150.0 24.3ZM190.4 46.4L186.0 40.6 195.0 38.8ZM162.6 28.5L161.5 26.4 166.9 24.8Z"/>
<path fill="#fdfebb" d="M102.9 51.6L111.3 53.7 105.7 58.8ZM111.3 53.7L102.9 51.6 107.8 48.0ZM111.3 53.7L111.2 57.1 105.7 58.8ZM177.0 74.6L175.7 64.8 183.3 68.2ZM134.9 72.0L130.0 65.7 133.6 64.4ZM194.2 25.3L192.3 29.4 190.5 24.4ZM184.0 63.7L192.6 64.0 191.4 67.5ZM175.7 64.8L184.0 63.7 183.3 68.2ZM145.2 62.2L149.9 69.2 139.6 68.9ZM154.9 63.9L154.3 72.6 149.9 69.2Z"/>
<path fill="#ebf7a0" d="M102.9 51.6L100.8 56.5 100.4 54.2ZM131.4 79.2L134.9 72.0 137.8 79.0ZM134.9 72.0L141.3 75.7 137.8 79.0ZM199.0 61.4L201.9 61.9 203.5 67.4ZM115.0 78.1L118.7 72.1 121.7 71.7ZM100.9 46.0L102.9 51.6 100.4 54.2ZM100.9 46.0L99.6 39.6 107.8 48.0ZM185.9 74.9L187.1 69.5 191.2 74.9ZM108.5 68.5L108.9 75.0 103.0 69.6ZM108.9 75.0L108.5 68.5 113.0 71.6ZM101.0 65.3L104.4 64.4 103.0 69.6ZM104.4 64.4L101.0 65.3 99.8 62.1ZM153.2 75.9L154.3 72.6 158.6 75.2Z"/>
<path fill="#f0f9a7" d="M100.8 56.5L102.9 51.6 105.7 58.8ZM147.7 75.0L141.3 75.7 139.6 68.9ZM134.9 72.0L131.4 79.2 127.2 69.5ZM193.0 67.4L199.0 61.4 203.5 67.4ZM171.6 22.2L169.9 25.4 166.9 24.8ZM162.1 74.6L165.0 67.7 164.9 75.5ZM102.9 51.6L100.9 46.0 107.8 48.0ZM113.0 71.6L108.5 68.5 110.5 64.3ZM154.3 21.7L153.4 25.6 150.0 24.3ZM185.3 70.8L185.9 74.9 177.0 74.6ZM187.1 69.5L185.3 70.8 183.3 68.2ZM104.4 64.4L99.8 62.1 105.7 58.8Z"/>
<path fill="#fafdb7" d="M134.9 72.0L133.6 64.4 139.6 68.9ZM113.0 71.6L110.5 64.3 119.1 61.9ZM165.0 67.7L164.6 65.7 170.5 69.6ZM199.0 61.4L195.4 60.2 201.3 57.7ZM175.7 64.8L172.1 72.2 170.5 69.6ZM130.0 65.7L134.9 72.0 127.2 69.5ZM113.0 61.2L110.5 64.3 105.7 58.8ZM198.4 32.3L195.5 32.4 197.3 29.5ZM192.3 29.4L194.2 25.3 197.3 29.5ZM184.0 63.7L187.1 69.5 183.3 68.2ZM187.1 69.5L184.0 63.7 191.4 67.5ZM110.5 64.3L104.4 64.4 105.7 58.8Z"/>
<path fill="#f3faac" d="M141.3 75.7L134.9 72.0 139.6 68.9ZM99.8 62.1L100.8 56.5 105.7 58.8ZM191.2 74.9L187.1 69.5 191.4 67.5ZM201.9 61.9L199.0 61.4 201.3 57.7ZM165.0 67.7L169.2 74.7 164.9 75.5ZM172.1 72.2L169.2 74.7 170.5 69.6ZM118.7 72.1L113.0 71.6 119.1 61.9ZM160.6 20.9L161.5 26.4 158.4 24.9ZM159.6 64.7L162.1 74.6 158.6 75.2ZM185.3 70.8L177.0 74.6 183.3 68.2ZM104.4 64.4L108.5 68.5 103.0 69.6ZM108.5 68.5L104.4 64.4 110.5 64.3ZM154.3 72.6L150.3 71.4 149.9 69.2Z"/>
<path fill="#fed07e" d="M120.0 54.6L125.5 60.6 119.1 61.9ZM113.2 51.2L120.0 54.6 111.3 53.7Z"/>
<path fill="#f8864f" d="M120.0 54.6L116.3 47.9 122.7 51.2ZM181.2 25.6L185.0 24.9 184.6 29.1ZM190.5 24.4L192.3 29.4 184.6 29.1ZM169.9 25.4L173.9 25.0 172.7 28.6ZM173.9 25.0L176.7 25.4 172.7 28.6ZM188.4 49.7L187.2 54.3 182.7 49.7Z"/>
<path fill="#fee08b" d="M133.6 64.4L129.4 58.3 135.5 60.6ZM120.0 54.6L111.2 57.1 111.3 53.7ZM201.2 49.8L193.5 50.0 195.0 38.8ZM195.4 60.2L190.0 54.8 193.8 53.1ZM160.1 61.1L164.7 57.7 164.6 65.7ZM154.9 63.9L153.8 60.2 156.4 61.1Z"/>
<path fill="#fca85e" d="M135.5 60.6L129.4 58.3 135.7 54.6ZM129.4 58.3L125.5 60.6 122.7 51.2ZM137.5 57.5L135.5 60.6 135.7 54.6ZM185.0 24.9L190.5 24.4 184.6 29.1ZM156.3 56.8L159.2 56.7 156.4 61.1Z"/>
<path fill="#f67f4b" d="M132.7 53.2L129.4 58.3 122.7 51.2ZM186.0 40.6L195.3 36.9 195.0 38.8ZM145.5 55.0L142.0 58.8 142.2 53.7ZM172.6 58.3L164.7 57.7 164.0 51.1ZM156.3 56.8L158.1 54.5 159.2 56.7Z"/>
<path fill="#e8f69b" d="M100.8 56.5L99.8 62.1 96.5 61.3ZM197.1 73.0L193.0 67.4 203.5 67.4ZM193.0 67.4L197.1 73.0 191.2 74.9ZM100.8 56.5L95.0 53.0 100.4 54.2ZM99.6 39.6L108.9 31.5 107.8 48.0ZM181.2 25.6L176.7 25.4 174.9 20.8ZM153.2 75.9L158.6 75.2 154.3 78.6ZM153.2 75.9L150.9 79.3 147.7 75.0ZM162.2 79.3L162.1 74.6 164.9 75.5ZM162.1 74.6L162.2 79.3 158.6 75.2ZM108.9 75.0L113.0 71.6 113.0 75.7Z"/>
<path fill="#c9314c" d="M150.0 24.3L149.9 29.6 147.0 28.6ZM170.7 46.9L176.8 47.3 177.0 53.8ZM158.4 24.9L159.3 29.8 156.5 27.8ZM162.3 53.3L159.3 50.4 164.0 51.1Z"/>
<path fill="#8fd2a4" d="M210.9 89.6L216.5 92.7 214.2 93.9ZM201.8 25.6L201.3 28.5 197.3 29.5ZM218.3 56.7L219.8 63.8 216.5 64.9ZM99.6 39.6L95.4 46.2 96.0 39.2ZM221.3 94.5L216.5 92.7 228.4 87.0ZM194.2 25.3L190.5 24.4 192.8 20.8Z"/>
<path fill="#a20643" d="M176.8 31.5L181.2 25.6 184.6 29.1ZM124.5 40.8L118.9 39.2 120.5 32.9ZM172.7 28.6L176.7 25.4 176.8 31.5Z"/>
<path fill="#fff6b0" d="M168.3 61.2L175.7 64.8 170.5 69.6ZM145.2 62.2L150.0 64.5 149.9 69.2ZM150.0 64.5L154.9 63.9 149.9 69.2Z"/>
<path fill="#f5fbaf" d="M193.0 67.4L191.2 74.9 191.4 67.5ZM177.0 74.6L172.1 72.2 175.7 64.8ZM121.7 71.7L118.7 72.1 119.1 61.9ZM161.5 26.4L162.6 21.1 166.9 24.8ZM149.9 69.2L147.7 75.0 139.6 68.9ZM113.3 31.4L111.7 24.5 114.8 29.4ZM153.4 25.6L154.3 21.7 158.4 24.9ZM198.4 32.3L201.9 35.0 195.3 36.9ZM173.9 25.0L169.9 25.4 171.6 22.2ZM149.9 69.2L150.3 71.4 147.7 75.0ZM154.3 72.6L159.6 64.7 158.6 75.2Z"/>
<path fill="#feea9b" d="M193.5 50.0L201.2 49.8 193.8 53.1ZM108.9 31.5L118.9 39.2 107.8 48.0ZM113.0 61.2L120.0 54.6 119.1 61.9ZM174.9 61.2L175.7 64.8 168.3 61.2ZM154.9 63.9L156.4 61.1 159.6 64.7Z"/>
<path fill="#ffffbe" d="M199.0 61.4L192.6 64.0 195.4 60.2ZM111.2 57.1L113.0 61.2 105.7 58.8ZM110.5 64.3L113.0 61.2 119.1 61.9ZM159.6 64.7L164.6 65.7 165.0 67.7Z"/>
<path fill="#daf09a" d="M177.0 74.6L178.4 83.7 175.1 81.8ZM185.0 24.9L181.2 25.6 184.7 21.1ZM165.0 82.8L162.2 79.3 164.9 75.5ZM111.4 82.0L108.9 75.0 113.0 75.7Z"/>
<path fill="#f57245" d="M139.3 51.3L137.5 57.5 135.7 54.6ZM164.7 57.7L159.2 56.7 162.3 53.3ZM182.7 49.7L181.1 55.2 177.0 53.8ZM158.1 54.5L156.3 56.8 153.9 55.3Z"/>
<path fill="#a90d45" d="M142.4 51.5L139.3 51.3 141.2 47.3ZM155.1 49.5L153.9 55.3 146.0 49.5ZM161.5 26.4L162.6 28.5 159.3 29.8ZM158.1 54.5L155.1 49.5 159.3 50.4Z"/>
<path fill="#fdb365" d="M118.9 39.2L116.3 47.9 107.8 48.0ZM120.0 54.6L113.2 51.2 116.3 47.9ZM137.5 57.5L142.0 58.8 135.5 60.6ZM145.5 55.0L145.2 62.2 142.0 58.8Z"/>
<path fill="#f67a49" d="M118.9 39.2L113.3 31.4 118.1 35.1Z"/>
<path fill="#fee695" d="M113.3 31.4L118.9 39.2 108.9 31.5ZM129.4 58.3L130.0 65.7 125.5 60.6ZM113.0 61.2L111.2 57.1 120.0 54.6ZM115.8 31.3L113.3 31.4 114.8 29.4ZM135.5 60.6L142.0 58.8 139.6 68.9ZM192.3 29.4L195.5 32.4 195.3 36.9Z"/>
<path fill="#fee28f" d="M116.3 47.9L113.2 51.2 107.8 48.0ZM159.6 64.7L156.4 61.1 160.1 61.1ZM164.6 65.7L164.7 57.7 168.3 61.2ZM153.8 60.2L150.0 64.5 149.2 62.0ZM154.9 63.9L150.0 64.5 153.8 60.2Z"/>
<path fill="#feec9f" d="M130.0 65.7L129.4 58.3 133.6 64.4ZM159.6 64.7L160.1 61.1 164.6 65.7ZM174.9 61.2L176.6 61.9 175.7 64.8ZM150.0 64.5L145.2 62.2 149.2 62.0Z"/>
<path fill="#fdb768" d="M113.3 31.4L115.8 31.3 118.1 35.1ZM126.0 28.0L125.3 24.4 127.3 25.2ZM190.0 54.8L193.5 50.0 193.8 53.1ZM153.9 55.3L153.8 60.2 149.2 62.0Z"/>
<path fill="#fba05b" d="M131.3 24.4L137.5 24.9 133.6 28.7ZM193.5 50.0L190.0 54.8 188.4 49.7ZM156.3 56.8L153.8 60.2 153.9 55.3ZM178.5 57.6L181.1 55.2 187.0 58.2Z"/>
<path fill="#d8434e" d="M126.0 28.0L122.0 29.4 120.6 25.6ZM145.5 55.0L142.4 51.5 146.0 49.5Z"/>
<path fill="#fecc7b" d="M172.6 58.3L174.9 61.2 168.3 61.2ZM184.0 63.7L178.5 57.6 187.0 58.2Z"/>
<path fill="#fdad60" d="M125.3 24.4L126.0 28.0 120.6 25.6ZM159.2 56.7L164.7 57.7 160.1 61.1ZM187.2 54.3L190.0 54.8 187.0 58.2Z"/>
<path fill="#fffcba" d="M195.5 32.4L192.3 29.4 197.3 29.5Z"/>
<path fill="#d0384e" d="M183.9 42.5L186.0 40.6 190.4 46.4Z"/>
<path fill="#feda86" d="M187.0 58.2L190.0 54.8 195.4 60.2ZM178.5 57.6L184.0 63.7 176.6 61.9Z"/>
<path fill="#fed683" d="M174.9 61.2L178.5 57.6 176.6 61.9Z"/>
<path fill="#fdbd6d" d="M178.5 57.6L174.9 61.2 172.6 58.3ZM164.7 57.7L172.6 58.3 168.3 61.2Z"/>
<path fill="#fdc776" d="M145.2 62.2L145.5 55.0 149.2 62.0Z"/>
<path fill="#fdc372" d="M156.4 61.1L159.2 56.7 160.1 61.1ZM153.8 60.2L156.3 56.8 156.4 61.1Z"/>
<path fill="#ad1246" d="M168.7 31.7L162.6 28.5 166.9 24.8Z"/>
<path fill="#ee6445" d="M159.2 56.7L158.1 54.5 162.3 53.3Z"/>
</g>
<rect x="116.87" y="26.43" width="74.87" height="33.69" fill="none" stroke="#6cbfa6" stroke-width="1.1"/>
<rect x="42" y="15.2" width="224.6" height="74.87" fill="none" stroke="#111" stroke-width="0.75"/>
<line x1="79.93" y1="14.9" x2="228.37" y2="14.9" stroke="#ee1c23" stroke-width="1.7"/>
<text x="42" y="99.77" text-anchor="middle" class="tk">−1500</text>
<text x="79.43" y="99.77" text-anchor="middle" class="tk">−1000</text>
<text x="116.87" y="99.77" text-anchor="middle" class="tk">−500</text>
<text x="154.3" y="99.77" text-anchor="middle" class="tk">0</text>
<text x="191.73" y="99.77" text-anchor="middle" class="tk">500</text>
<text x="229.17" y="99.77" text-anchor="middle" class="tk">1000</text>
<text x="266.6" y="99.77" text-anchor="middle" class="tk">1500</text>
<text x="37.1" y="17.9" text-anchor="end" class="tk">0</text>
<text x="37.1" y="32.87" text-anchor="end" class="tk">−200</text>
<text x="37.1" y="47.85" text-anchor="end" class="tk">−400</text>
<text x="37.1" y="62.82" text-anchor="end" class="tk">−600</text>
<text x="37.1" y="77.79" text-anchor="end" class="tk">−800</text>
<text x="37.1" y="92.77" text-anchor="end" class="tk">−1000</text>
<path d="M42 90.07v2.4 M79.43 90.07v2.4 M116.87 90.07v2.4 M154.3 90.07v2.4 M191.73 90.07v2.4 M229.17 90.07v2.4 M266.6 90.07v2.4 M42 15.2h-2.4 M42 30.17h-2.4 M42 45.15h-2.4 M42 60.12h-2.4 M42 75.09h-2.4 M42 90.07h-2.4" stroke="#222" stroke-width="0.6" fill="none"/>
<text x="154.3" y="109.27" text-anchor="middle" class="al">y (m)</text>
<text transform="translate(10,52.63) rotate(-90)" text-anchor="middle" class="al">z (m)</text>
<text x="50" y="74.7" class="an">x = 0 m</text>
<text x="41.7" y="9.8" class="ti tb">(a)</text>
<text x="55.8" y="9.5" class="ti ts" textLength="58.1" lengthAdjust="spacingAndGlyphs">Min/Mean= 4/34 Ωm</text>
<g clip-path="url(#cpb)">
<rect x="314" y="15.2" width="224.6" height="74.87" fill="#5e4fa2"/>
<path fill="#4471b2" fill-rule="evenodd" d="M416.5 20.2L437.0 20.2 444.0 21.2 445.0 21.4 453.5 26.3 458.9 31.7 463.4 37.7 471.5 58.2 484.1 79.2 488.5 90.7 364.1 90.7 368.5 79.2 381.1 58.2 389.0 38.2 390.0 36.6 393.7 31.7 399.9 25.7 408.0 21.3Z"/>
<path fill="#3387bc" fill-rule="evenodd" d="M415.0 20.6L436.5 20.5 443.5 21.7 450.5 25.4 457.2 31.2 462.1 37.7 468.7 57.7 480.2 78.7 485.0 90.7 367.6 90.7 372.4 78.7 383.9 57.7 390.8 37.2 395.4 31.2 402.0 25.4 408.9 21.7Z"/>
<path fill="#459eb4" fill-rule="evenodd" d="M424.0 20.7L436.5 20.8 443.3 22.2 450.0 26.0 456.9 32.2 461.0 38.1 466.4 58.2 477.1 80.2 481.2 90.7 371.4 90.7 375.5 80.2 386.2 58.2 391.6 38.2 395.7 32.2 402.5 26.1 409.3 22.2 416.0 20.8Z"/>
<path fill="#5cb7aa" fill-rule="evenodd" d="M416.0 21.2L436.0 21.1 442.0 22.3 448.9 26.2 455.1 31.2 459.8 38.2 462.2 47.2 464.2 58.7 473.7 81.7 476.9 90.7 375.7 90.7 378.9 81.7 388.4 58.7 390.4 47.2 393.3 37.2 397.5 31.2 403.0 26.7 409.5 22.7Z"/>
<path fill="#74c7a5" fill-rule="evenodd" d="M415.5 21.6L436.0 21.4 442.0 22.7 448.0 26.4 454.7 31.7 458.5 37.7 460.7 47.2 461.6 58.2 472.8 90.7 379.8 90.7 391.0 58.2 391.9 47.2 394.1 37.7 397.9 31.7 404.5 26.5 410.5 22.7Z"/>
<path fill="#8fd2a4" fill-rule="evenodd" d="M423.5 21.7L436.0 21.8 441.5 23.2 448.0 27.0 454.3 32.2 457.7 38.2 459.5 47.7 459.2 58.7 461.4 67.7 464.9 77.7 468.5 90.7 384.1 90.7 387.7 77.7 391.2 67.7 393.4 58.7 393.1 47.7 395.3 37.2 399.2 31.2 404.5 27.1 409.0 24.2 411.0 23.2 415.0 22.0Z"/>
<path fill="#aadca4" fill-rule="evenodd" d="M416.5 22.2L437.5 22.3 444.5 25.3 453.2 31.7 456.8 38.2 458.3 47.2 456.7 57.7 457.9 67.7 461.6 78.7 464.1 89.2 464.0 90.7 388.6 90.7 388.5 89.2 391.0 78.7 394.7 67.7 395.9 57.7 394.3 47.2 395.9 37.7 399.4 31.7 404.5 27.7 411.0 23.8 415.0 22.3Z"/>
<path fill="#c3e79f" fill-rule="evenodd" d="M415.0 22.6L437.5 22.6 444.5 25.5 452.9 32.2 455.8 37.7 457.2 47.2 454.8 57.7 454.4 68.7 456.5 80.2 457.0 90.7 395.6 90.7 396.1 80.2 398.2 68.7 397.8 57.7 395.4 47.2 396.8 37.7 399.7 32.2 400.6 31.2 409.0 25.0Z"/>
<path fill="#daf09a" fill-rule="evenodd" d="M414.5 23.1L438.0 23.1 444.4 25.7 452.2 32.2 454.8 37.7 456.1 47.2 450.2 69.2 448.5 79.7 446.5 83.7 437.5 87.0 426.0 88.1 414.5 86.9 406.0 83.7 405.4 82.7 404.0 79.2 402.4 69.2 396.5 47.2 397.6 38.2 400.1 32.7 401.2 31.2 408.5 25.5Z"/>
<path fill="#ebf7a0" fill-rule="evenodd" d="M414.0 23.6L426.5 23.3 439.0 23.7 444.1 25.7 450.8 31.2 451.6 32.2 454.0 37.7 455.1 47.2 451.8 57.7 442.7 75.2 435.0 80.5 426.0 81.9 417.5 80.5 416.0 79.5 409.6 74.7 400.8 57.7 397.5 47.2 398.6 37.7 401.0 32.2 401.8 31.2 408.5 25.7Z"/>
<path fill="#f5fbaf" fill-rule="evenodd" d="M422.0 23.7L438.0 23.8 444.2 26.2 448.6 29.7 451.0 32.2 453.1 37.7 454.0 46.7 450.2 57.7 444.4 67.7 440.7 73.2 437.5 75.8 434.5 77.4 426.5 79.1 418.5 77.6 415.5 76.1 411.9 73.2 408.5 68.1 402.5 57.8 398.6 47.2 399.5 37.7 401.6 32.2 402.4 31.2 408.5 26.1 414.0 23.9Z"/>
<path fill="#fffebe" fill-rule="evenodd" d="M414.5 24.2L438.5 24.2 444.0 26.5 450.1 31.7 452.2 37.7 453.0 47.2 448.8 57.2 443.0 66.3 438.5 71.5 435.5 74.1 426.5 76.4 417.0 74.0 414.0 71.4 409.9 66.7 403.5 56.5 399.6 47.2 400.4 37.7 401.9 33.2 402.9 31.2 408.5 26.6Z"/>
<path fill="#fff2aa" fill-rule="evenodd" d="M414.0 24.6L438.0 24.5 443.5 26.7 446.9 29.2 449.5 32.2 451.2 37.7 451.7 47.2 447.1 56.7 443.0 62.6 441.0 65.2 434.2 71.2 426.5 73.1 418.5 71.2 411.5 65.1 405.5 56.9 403.9 53.7 401.1 46.7 401.4 37.7 402.3 34.2 403.3 31.7 408.5 26.9 412.5 24.9Z"/>
<path fill="#fee695" fill-rule="evenodd" d="M412.5 25.1L437.5 24.9 443.0 27.1 446.0 28.7 448.3 32.2 450.2 37.7 450.1 47.2 446.5 54.2 441.6 60.7 438.6 63.7 434.5 66.9 432.5 67.8 426.5 69.2 420.0 67.5 416.5 65.7 410.2 60.2 405.5 53.4 403.0 46.2 402.6 38.2 402.8 34.7 404.1 32.2 407.9 27.7Z"/>
<path fill="#fed683" fill-rule="evenodd" d="M412.0 25.6L414.0 25.2 437.5 25.2 446.1 29.2 449.2 37.7 448.8 46.7 445.0 53.4 440.8 58.2 439.0 60.0 433.5 64.0 426.5 65.4 418.0 63.1 411.5 58.7 406.9 52.7 404.2 43.7 403.5 34.7 408.4 27.7Z"/>
<path fill="#fdc372" fill-rule="evenodd" d="M412.5 25.6L437.0 25.5 445.6 29.2 448.4 37.7 447.7 46.2 444.0 52.3 440.2 56.7 434.0 62.0 433.0 62.5 426.5 63.7 419.0 61.6 412.7 57.2 408.1 51.7 405.2 43.2 404.5 34.7 408.7 28.2Z"/>
<path fill="#fdad60" fill-rule="evenodd" d="M412.0 26.2L413.0 25.7 436.5 25.7 445.2 29.2 447.6 37.7 447.0 45.2 443.4 50.7 439.0 55.9 433.5 60.6 426.5 62.0 419.5 59.9 413.5 55.3 408.8 50.2 406.0 42.2 405.3 34.7 409.8 27.7Z"/>
<path fill="#f99355" fill-rule="evenodd" d="M412.5 26.2L436.5 26.0 444.7 29.2 446.9 37.7 446.0 45.0 442.5 49.8 438.0 55.0 433.0 59.2 426.5 60.4 420.1 58.2 414.0 53.6 409.5 49.2 407.0 42.2 406.1 34.7 410.4 27.7Z"/>
<path fill="#f67a49" fill-rule="evenodd" d="M413.0 26.2L436.0 26.2 444.0 29.1 444.4 29.7 446.1 37.7 445.3 44.2 437.9 53.2 433.0 57.5 432.0 58.0 426.5 58.7 421.4 56.7 415.5 52.9 410.4 48.7 407.3 40.2 406.7 34.7 406.9 33.7 410.6 28.2Z"/>
<path fill="#ee6445" fill-rule="evenodd" d="M413.0 26.5L435.5 26.4 443.1 29.2 444.0 30.2 445.3 37.7 444.6 43.7 437.0 52.5 432.0 56.5 427.0 57.1 421.0 54.5 416.5 51.8 411.5 48.2 408.0 39.8 407.5 33.7 411.5 27.8Z"/>
<path fill="#e1504b" fill-rule="evenodd" d="M424.5 26.7L435.0 26.7 436.0 27.0 441.5 31.6 443.5 37.7 443.9 41.2 443.7 42.7 441.4 46.7 436.5 52.0 432.0 55.4 426.5 56.0 422.0 53.8 418.5 51.6 413.5 46.2 409.9 37.7 409.7 34.2 413.0 26.9Z"/>
<path fill="#d43d4f" fill-rule="evenodd" d="M413.5 27.0L434.5 26.9 435.6 27.2 439.2 33.2 442.9 41.2 440.8 46.7 436.0 51.6 431.5 54.6 426.5 55.1 422.0 52.7 419.4 50.7 411.9 36.7 411.9 34.7 413.1 27.7Z"/>
<path fill="#be254a" fill-rule="evenodd" d="M427.0 27.2L435.0 27.2 438.4 35.7 442.0 41.7 440.0 46.6 435.9 50.7 431.5 53.7 427.0 54.4 422.6 52.2 420.2 50.2 413.1 35.7 413.5 27.7 414.0 27.3Z"/>
<path fill="#9e0142" fill-rule="evenodd" d="M414.0 27.5L434.0 27.4 434.9 27.7 437.7 35.7 441.5 41.7 439.3 46.2 435.0 50.5 430.5 53.3 426.5 53.7 422.8 51.7 420.6 49.7 413.7 36.2Z"/>
<path fill="#56b0ad" d="M476.3 93.0L470.5 83.3 476.1 79.3ZM470.5 83.3L469.9 78.7 476.1 79.3ZM469.9 67.4L467.5 69.4 464.4 62.5ZM414.1 24.3L412.1 21.9 415.9 19.0ZM380.3 70.8L387.1 72.2 383.3 85.7ZM380.3 70.8L386.1 69.6 387.1 72.2Z"/>
<path fill="#9cd7a4" d="M390.7 92.0L385.9 92.7 387.8 86.9ZM412.1 21.9L414.1 24.3 410.3 24.0ZM403.2 27.1L404.7 24.3 407.3 31.1ZM394.5 72.7L388.0 70.0 398.1 67.0ZM460.8 76.5L457.5 74.3 460.8 74.1ZM457.5 74.3L461.4 65.7 460.8 74.1ZM454.2 47.1L461.6 47.1 459.6 51.2ZM396.3 57.8L391.2 53.2 397.1 54.4Z"/>
<path fill="#eef8a4" d="M429.6 76.1L438.4 72.3 437.5 83.1ZM438.2 21.6L435.1 27.2 434.8 21.6ZM426.0 75.6L427.2 85.6 423.6 76.3ZM451.5 33.7L455.6 34.0 451.3 40.2ZM398.2 41.8L400.7 49.8 396.6 43.1ZM453.3 40.8L455.8 44.5 451.9 44.7ZM410.0 73.9L411.3 69.3 411.9 74.4ZM409.7 66.3L408.6 70.6 405.5 67.0Z"/>
<path fill="#3b92b9" d="M472.3 73.6L477.7 72.9 476.1 79.3ZM460.6 33.3L455.6 34.0 455.5 30.0ZM383.6 52.7L391.2 53.2 386.4 58.0ZM397.0 28.7L399.7 31.1 393.9 33.6Z"/>
<path fill="#66c2a5" d="M476.3 93.0L470.3 90.6 470.5 83.3ZM383.3 85.7L380.5 90.3 377.0 90.4ZM462.6 56.8L461.2 57.3 459.6 51.2ZM467.5 69.4L461.4 65.7 464.4 62.5ZM461.6 47.1L455.8 44.5 463.3 44.5ZM386.1 69.6L388.0 70.0 387.1 72.2Z"/>
<path fill="#459eb4" d="M482.9 90.1L476.3 93.0 476.1 79.3ZM469.9 67.4L471.9 66.2 472.3 73.6ZM469.9 78.7L472.3 73.6 476.1 79.3ZM403.2 27.1L399.7 31.1 400.8 25.0ZM406.2 21.1L412.1 21.9 410.3 24.0Z"/>
<path fill="#3682ba" d="M485.6 80.6L482.9 90.1 476.1 79.3ZM471.9 66.2L477.5 66.7 472.3 73.6ZM477.5 66.7L477.7 72.9 472.3 73.6ZM477.7 72.9L479.0 76.7 476.1 79.3ZM471.9 66.2L469.9 67.4 470.4 62.5ZM388.1 37.5L393.3 39.9 387.1 46.6ZM384.8 63.0L380.7 56.0 386.4 58.0ZM373.4 64.3L384.8 63.0 383.3 67.4ZM444.1 18.7L442.0 24.1 438.2 21.6ZM425.3 21.1L422.0 21.8 423.0 18.7ZM450.9 27.4L447.9 23.6 452.8 25.4ZM461.6 47.1L463.3 44.5 468.0 45.1ZM399.7 31.1L397.0 28.7 400.8 25.0Z"/>
<path fill="#fff0a6" d="M421.7 72.4L422.9 70.2 427.0 71.2ZM451.9 44.7L448.4 44.0 451.3 40.2ZM427.5 67.5L434.1 64.3 430.6 72.8ZM434.1 64.3L441.9 59.6 443.9 65.7ZM412.2 61.3L416.0 67.0 414.3 67.2ZM400.7 49.8L401.3 40.9 406.9 47.4ZM444.0 57.7L444.5 62.6 441.9 59.6Z"/>
<path fill="#b5e1a2" d="M395.6 92.6L395.1 88.8 397.8 94.0ZM464.4 90.4L456.4 90.7 455.6 79.3ZM395.5 82.9L402.8 90.3 395.1 88.8ZM395.1 88.8L402.8 90.3 397.8 94.0ZM451.4 92.1L446.7 93.7 448.7 89.2ZM398.2 41.8L393.3 39.9 397.2 37.5ZM397.5 76.5L403.9 77.4 395.5 82.9ZM461.4 65.7L450.5 66.9 453.8 61.4ZM402.8 90.3L405.9 86.3 404.8 93.1ZM455.8 44.5L461.6 47.1 454.2 47.1Z"/>
<path fill="#bce4a0" d="M395.1 88.8L395.6 92.6 390.7 92.0ZM452.4 89.4L451.4 92.1 448.7 89.2ZM456.4 90.7L455.1 93.7 452.4 89.4ZM451.8 82.3L456.4 90.7 452.4 89.4ZM456.4 90.7L451.8 82.3 455.6 79.3ZM395.5 82.9L403.9 77.4 405.1 84.2ZM446.7 93.7L445.1 90.2 448.7 89.2ZM436.8 85.5L442.0 83.3 442.6 90.7ZM446.1 85.9L445.1 90.2 442.6 90.7ZM410.4 82.1L419.7 90.2 416.0 93.2ZM412.7 93.5L410.7 93.2 410.4 82.1ZM404.4 31.7L399.7 31.1 403.2 27.1ZM454.8 72.5L457.5 74.3 455.6 79.3ZM450.0 83.1L452.4 89.4 448.7 89.2ZM426.6 89.3L429.8 90.6 429.4 93.2ZM405.9 86.3L402.8 90.3 405.1 84.2ZM405.9 86.3L410.7 93.2 404.8 93.1ZM401.2 54.8L396.3 57.8 397.1 54.4ZM398.1 60.8L399.6 64.1 398.1 67.0Z"/>
<path fill="#fffcba" d="M426.0 75.6L421.7 72.4 427.0 71.2ZM430.6 72.8L426.0 75.6 427.0 71.2ZM438.4 72.3L434.1 64.3 440.0 69.1ZM444.0 57.7L448.2 53.8 448.4 62.6ZM451.5 33.7L446.0 34.4 450.9 27.4Z"/>
<path fill="#fdfebb" d="M421.7 72.4L426.0 75.6 423.6 76.3ZM426.0 75.6L430.6 72.8 429.6 76.1ZM453.3 40.8L451.9 44.7 451.3 40.2ZM446.0 34.4L446.8 26.8 450.9 27.4ZM401.3 40.9L397.2 37.5 403.1 34.3ZM444.5 62.6L444.0 57.7 448.4 62.6Z"/>
<path fill="#ffffbe" d="M429.6 76.1L430.6 72.8 438.4 72.3ZM399.7 31.1L404.4 31.7 403.1 34.3ZM411.3 69.3L414.3 67.2 416.3 70.4ZM411.3 69.3L409.7 66.3 414.3 67.2ZM412.2 61.3L409.7 66.3 408.2 63.7Z"/>
<path fill="#74c7a5" d="M470.3 90.6L468.5 90.4 470.5 83.3ZM458.8 60.8L461.2 57.3 464.4 62.5ZM451.5 33.7L450.9 27.4 455.5 30.0ZM461.4 65.7L458.8 60.8 464.4 62.5ZM460.8 76.5L467.3 76.7 470.5 83.3ZM390.9 47.8L393.3 39.9 396.6 43.1Z"/>
<path fill="#86cfa5" d="M468.5 90.4L464.4 90.4 470.5 83.3ZM455.6 34.0L460.6 33.3 453.3 40.8ZM461.4 65.7L464.3 70.9 460.8 74.1ZM464.3 70.9L467.3 76.7 460.8 74.1ZM467.3 76.7L460.8 76.5 460.8 74.1Z"/>
<path fill="#496aaf" d="M485.6 80.6L489.0 82.6 482.9 90.1ZM489.0 82.6L487.3 92.1 482.9 90.1ZM473.7 61.3L477.5 66.7 471.9 66.2ZM479.0 76.7L481.6 76.4 485.6 80.6ZM436.7 17.7L438.2 21.6 434.8 21.6ZM472.3 56.3L473.7 61.3 468.4 60.9ZM368.9 83.2L366.9 90.3 363.7 82.2ZM374.9 67.9L373.4 64.3 383.3 67.4ZM384.8 63.0L373.4 64.3 380.7 56.0Z"/>
<path fill="#3b7cb7" d="M479.0 76.7L485.6 80.6 476.1 79.3ZM450.9 27.4L454.5 27.7 455.5 30.0ZM472.3 56.3L466.0 59.5 465.7 53.2ZM466.0 59.5L472.3 56.3 468.4 60.9ZM370.9 90.4L366.9 90.3 368.9 83.2ZM378.3 70.3L380.3 70.8 371.4 76.0Z"/>
<path fill="#81cda5" d="M385.9 92.7L383.3 85.7 387.8 86.9ZM388.0 70.0L394.5 72.7 387.1 72.2ZM391.2 53.2L393.8 51.2 397.1 54.4ZM398.1 60.8L384.8 63.0 396.3 57.8Z"/>
<path fill="#f5fbaf" d="M416.3 70.4L418.2 80.2 411.9 74.4ZM448.2 53.8L448.7 50.5 459.6 51.2ZM442.0 24.1L439.3 28.0 438.2 21.6ZM411.3 69.3L416.3 70.4 411.9 74.4Z"/>
<path fill="#fafdb7" d="M418.2 80.2L416.3 70.4 421.7 72.4ZM433.0 24.7L430.1 25.4 431.3 22.3ZM401.3 40.9L400.7 49.8 398.2 41.8ZM404.0 50.7L401.2 54.8 400.7 49.8Z"/>
<path fill="#be254a" d="M419.6 53.3L419.4 44.5 422.3 51.1ZM412.6 40.2L415.7 36.9 417.0 39.7Z"/>
<path fill="#feec9f" d="M422.9 70.2L427.5 67.5 427.0 71.2ZM419.4 69.8L419.9 64.2 422.9 70.2ZM419.4 69.8L416.0 67.0 419.9 64.2ZM404.0 50.7L400.7 49.8 406.9 47.4Z"/>
<path fill="#fff2aa" d="M427.5 67.5L430.6 72.8 427.0 71.2ZM430.6 72.8L434.1 64.3 438.4 72.3ZM447.9 47.8L454.2 47.1 448.7 50.5ZM416.0 67.0L419.4 69.8 416.3 70.4Z"/>
<path fill="#4199b6" d="M464.4 62.5L468.4 60.9 470.4 62.5ZM380.3 70.8L383.3 85.7 371.4 76.0ZM442.0 24.1L444.1 18.7 444.8 24.6Z"/>
<path fill="#378ebb" d="M469.9 67.4L464.4 62.5 470.4 62.5ZM383.3 85.7L368.9 83.2 371.4 76.0ZM370.9 90.4L368.9 83.2 377.0 90.4ZM380.3 70.8L378.3 70.3 383.3 67.4Z"/>
<path fill="#8fd2a4" d="M459.6 51.2L461.2 57.3 453.8 61.4ZM383.3 85.7L389.7 85.5 387.8 86.9ZM389.7 85.5L387.1 72.2 393.3 76.6ZM455.6 34.0L451.5 33.7 455.5 30.0ZM455.8 44.5L453.3 40.8 464.7 37.6ZM458.8 60.8L461.4 65.7 453.8 61.4ZM393.8 51.2L390.9 47.8 396.6 43.1Z"/>
<path fill="#50a9af" d="M453.3 40.8L460.6 33.3 464.7 37.6ZM462.6 56.8L459.6 51.2 465.7 53.2ZM466.0 59.5L462.6 56.8 465.7 53.2ZM462.6 56.8L466.0 59.5 464.4 62.5ZM463.3 44.5L455.8 44.5 464.7 37.6ZM469.9 78.7L467.3 76.7 472.3 73.6ZM446.8 26.8L447.9 23.6 450.9 27.4ZM459.6 51.2L461.6 47.1 465.7 53.2ZM390.9 47.8L391.2 53.2 387.1 46.6Z"/>
<path fill="#4d65ad" d="M368.9 83.2L363.7 82.2 371.4 76.0ZM383.6 52.7L383.8 47.5 387.1 46.6ZM366.9 90.3L362.9 90.4 363.7 82.2Z"/>
<path fill="#4ba4b1" d="M368.9 83.2L383.3 85.7 377.0 90.4ZM466.0 59.5L468.4 60.9 464.4 62.5ZM467.5 69.4L469.9 67.4 472.3 73.6ZM431.3 22.3L429.0 21.9 430.1 18.9ZM393.3 39.9L390.9 47.8 387.1 46.6ZM384.8 63.0L386.1 69.6 383.3 67.4ZM386.1 69.6L380.3 70.8 383.3 67.4Z"/>
<path fill="#b1dfa3" d="M455.1 93.7L451.4 92.1 452.4 89.4ZM389.7 85.5L395.5 82.9 395.1 88.8ZM393.3 39.9L398.2 41.8 396.6 43.1ZM397.5 76.5L395.5 82.9 393.3 76.6ZM397.5 76.5L394.5 72.7 398.1 67.0ZM461.4 65.7L454.8 72.5 450.5 66.9ZM457.5 74.3L460.8 76.5 455.6 79.3Z"/>
<path fill="#dff299" d="M414.0 80.2L410.1 77.5 411.9 74.4ZM405.2 73.6L410.0 73.9 410.1 77.5ZM414.0 80.2L410.4 82.1 410.1 77.5ZM427.2 85.6L429.6 76.1 437.5 83.1ZM419.7 90.2L414.0 80.2 418.2 80.2ZM450.5 66.9L448.3 69.1 443.9 65.7ZM430.1 25.4L429.0 21.9 431.3 22.3ZM399.6 64.1L398.1 60.8 408.7 59.2Z"/>
<path fill="#e6f598" d="M418.2 80.2L414.0 80.2 411.9 74.4ZM410.1 77.5L410.0 73.9 411.9 74.4ZM446.1 75.7L442.0 83.3 438.4 72.3ZM427.2 85.6L421.3 79.2 423.6 76.3ZM397.2 37.5L399.7 31.1 403.1 34.3ZM407.3 31.1L404.7 24.3 410.3 24.0ZM408.6 70.6L410.0 73.9 405.2 73.6ZM405.5 67.0L408.6 70.6 405.2 73.6ZM448.3 69.1L446.1 75.7 440.0 69.1Z"/>
<path fill="#f8fcb4" d="M421.3 79.2L421.7 72.4 423.6 76.3ZM443.9 65.7L444.5 62.6 448.4 62.6Z"/>
<path fill="#f3faac" d="M421.3 79.2L418.2 80.2 421.7 72.4ZM427.2 85.6L426.0 75.6 429.6 76.1ZM399.6 64.1L408.7 59.2 408.2 63.7ZM408.6 70.6L411.3 69.3 410.0 73.9ZM398.1 60.8L401.2 54.8 408.7 59.2ZM409.7 66.3L411.3 69.3 408.6 70.6ZM409.7 66.3L405.5 67.0 408.2 63.7Z"/>
<path fill="#c3e79f" d="M402.8 90.3L395.5 82.9 405.1 84.2ZM437.5 90.1L436.8 85.5 442.6 90.7ZM412.7 93.5L410.4 82.1 416.0 93.2ZM397.5 76.5L398.1 67.0 405.2 73.6ZM446.1 75.7L454.8 72.5 455.6 79.3ZM445.1 90.2L446.1 85.9 448.7 89.2ZM454.8 72.5L448.3 69.1 450.5 66.9ZM446.1 85.9L450.0 83.1 448.7 89.2ZM424.0 91.8L426.6 89.3 429.4 93.2ZM419.7 90.2L426.6 89.3 424.0 91.8ZM401.2 54.8L398.1 60.8 396.3 57.8Z"/>
<path fill="#4175b4" d="M473.7 61.3L471.9 66.2 470.4 62.5ZM481.6 76.4L479.0 76.7 477.7 72.9ZM454.5 27.7L450.9 27.4 452.8 25.4ZM444.1 18.7L447.9 23.6 444.8 24.6ZM378.3 70.3L374.9 67.9 383.3 67.4Z"/>
<path fill="#4471b2" d="M468.4 60.9L473.7 61.3 470.4 62.5ZM380.7 56.0L383.6 52.7 386.4 58.0ZM417.9 17.9L422.0 21.8 417.9 21.2ZM374.9 67.9L378.3 70.3 371.4 76.0Z"/>
<path fill="#525fa9" d="M477.5 66.7L480.2 65.9 477.7 72.9ZM454.5 27.7L455.9 25.6 455.5 30.0ZM369.2 72.6L374.9 67.9 371.4 76.0ZM394.7 27.6L397.0 28.7 393.9 33.6Z"/>
<path fill="#79c9a5" d="M380.5 90.3L383.3 85.7 385.9 92.7ZM387.1 72.2L389.7 85.5 383.3 85.7ZM399.7 31.1L397.2 37.5 393.9 33.6ZM388.0 70.0L384.8 63.0 398.1 67.0Z"/>
<path fill="#aadca4" d="M395.5 82.9L389.7 85.5 393.3 76.6ZM389.7 85.5L395.1 88.8 390.7 92.0ZM460.8 76.5L464.4 90.4 455.6 79.3ZM394.5 72.7L397.5 76.5 393.3 76.6ZM461.4 65.7L457.5 74.3 454.8 72.5ZM425.3 21.1L429.0 21.9 427.4 23.6Z"/>
<path fill="#a4daa4" d="M389.7 85.5L390.7 92.0 387.8 86.9ZM417.9 21.2L422.0 21.8 417.6 23.5Z"/>
<path fill="#e8f69b" d="M448.7 50.5L454.2 47.1 459.6 51.2ZM450.5 66.9L443.9 65.7 448.4 62.6ZM422.0 21.8L422.0 25.3 417.6 23.5ZM422.0 25.3L425.3 21.1 427.4 23.6ZM400.7 49.8L401.2 54.8 397.1 54.4ZM405.5 67.0L399.6 64.1 408.2 63.7Z"/>
<path fill="#ebf7a0" d="M448.4 62.6L448.2 53.8 453.8 61.4ZM401.3 40.9L398.2 41.8 397.2 37.5Z"/>
<path fill="#cfec9d" d="M448.2 53.8L459.6 51.2 453.8 61.4ZM451.8 82.3L446.1 75.7 455.6 79.3ZM427.2 85.6L433.0 90.1 429.8 90.6ZM444.8 24.6L446.8 26.8 443.2 26.9ZM393.8 51.2L400.7 49.8 397.1 54.4ZM446.1 75.7L450.0 83.1 442.0 83.3ZM450.0 83.1L446.1 85.9 442.0 83.3ZM450.0 83.1L446.1 75.7 451.8 82.3ZM426.6 89.3L427.2 85.6 429.8 90.6ZM425.3 21.1L422.0 25.3 422.0 21.8Z"/>
<path fill="#9e0142" d="M429.3 51.2L430.0 56.2 426.3 50.9ZM416.5 28.7L420.4 27.0 418.9 30.4ZM421.6 44.6L419.4 44.5 417.0 39.7ZM422.2 37.1L421.6 44.6 417.0 39.7ZM420.4 27.0L422.4 30.7 418.9 30.4ZM422.4 30.7L420.4 27.0 425.2 27.7ZM416.5 28.7L415.1 31.4 414.3 27.6ZM415.1 31.4L416.5 28.7 418.9 30.4ZM418.0 34.0L415.1 31.4 418.9 30.4ZM436.0 47.1L437.5 49.5 429.3 51.2ZM422.3 51.1L423.1 48.2 426.3 50.9ZM419.4 44.5L423.1 48.2 422.3 51.1ZM421.6 44.6L423.1 48.2 419.4 44.5ZM418.9 36.9L422.2 37.1 417.0 39.7ZM421.4 33.6L418.0 34.0 418.9 30.4ZM422.4 30.7L421.4 33.6 418.9 30.4ZM418.9 36.9L421.4 33.6 422.2 37.1ZM421.4 33.6L418.9 36.9 418.0 34.0ZM436.0 47.1L432.6 38.2 439.9 41.3ZM412.9 34.1L415.1 31.4 418.0 34.0ZM432.8 26.8L430.8 34.5 429.4 27.3ZM430.8 34.5L432.8 26.8 435.1 27.2ZM430.8 34.5L432.6 38.2 430.7 37.6ZM439.6 35.3L430.8 34.5 435.1 27.2ZM425.1 30.2L422.4 30.7 425.2 27.7ZM425.1 30.2L425.2 27.7 429.4 27.3ZM430.8 34.5L425.1 30.2 429.4 27.3ZM427.3 44.3L423.1 48.2 421.6 44.6ZM427.3 44.3L421.6 44.6 422.2 37.1ZM427.0 36.6L427.3 44.3 422.2 37.1ZM427.3 44.3L429.3 51.2 426.3 50.9ZM423.1 48.2L427.3 44.3 426.3 50.9ZM438.7 46.9L436.0 47.1 439.9 41.3ZM418.9 36.9L415.7 36.9 418.0 34.0ZM415.7 36.9L412.9 34.1 418.0 34.0ZM415.7 36.9L418.9 36.9 417.0 39.7ZM437.8 37.1L430.8 34.5 439.6 35.3ZM430.8 34.5L437.8 37.1 432.6 38.2ZM432.6 38.2L437.8 37.1 439.9 41.3ZM428.5 35.3L425.1 30.2 430.8 34.5ZM427.0 36.6L428.5 35.3 430.7 37.6ZM428.5 35.3L430.8 34.5 430.7 37.6ZM423.5 34.7L427.0 36.6 422.2 37.1ZM421.4 33.6L423.5 34.7 422.2 37.1ZM423.5 34.7L428.5 35.3 427.0 36.6ZM428.5 35.3L423.5 34.7 425.1 30.2ZM423.5 34.7L421.4 33.6 422.4 30.7ZM425.1 30.2L423.5 34.7 422.4 30.7ZM428.8 43.9L432.6 38.2 436.0 47.1ZM428.8 43.9L436.0 47.1 429.3 51.2ZM427.3 44.3L428.8 43.9 429.3 51.2ZM432.6 38.2L428.8 43.9 430.7 37.6ZM428.8 43.9L427.0 36.6 430.7 37.6ZM428.8 43.9L427.3 44.3 427.0 36.6Z"/>
<path fill="#daf09a" d="M403.9 77.4L405.2 73.6 410.1 77.5ZM450.5 66.9L448.4 62.6 453.8 61.4ZM438.4 72.3L442.0 83.3 437.5 83.1ZM436.8 85.5L427.2 85.6 437.5 83.1ZM419.7 90.2L410.4 82.1 414.0 80.2ZM421.3 79.2L419.7 90.2 418.2 80.2ZM427.2 85.6L419.7 90.2 421.3 79.2ZM442.0 24.1L444.8 24.6 443.2 26.9Z"/>
<path fill="#fee08b" d="M434.1 64.3L427.5 67.5 428.8 63.2ZM404.0 50.7L410.2 49.9 408.7 59.2Z"/>
<path fill="#fed07e" d="M434.1 64.3L428.8 63.2 431.6 61.0ZM433.7 57.2L441.9 59.6 434.1 64.3ZM427.4 23.6L430.1 25.4 429.4 27.3Z"/>
<path fill="#fff6b0" d="M434.1 64.3L443.9 65.7 440.0 69.1ZM454.2 47.1L447.9 47.8 451.9 44.7ZM421.7 72.4L419.4 69.8 422.9 70.2ZM416.3 70.4L419.4 69.8 421.7 72.4ZM435.1 27.2L433.0 24.7 434.8 21.6ZM448.9 37.0L451.5 33.7 451.3 40.2ZM408.7 59.2L412.2 61.3 408.2 63.7Z"/>
<path fill="#5cb7aa" d="M461.2 57.3L462.6 56.8 464.4 62.5ZM467.3 76.7L467.5 69.4 472.3 73.6ZM447.9 23.6L446.8 26.8 444.8 24.6Z"/>
<path fill="#97d5a4" d="M461.2 57.3L458.8 60.8 453.8 61.4ZM464.4 90.4L460.8 76.5 470.5 83.3ZM387.1 72.2L394.5 72.7 393.3 76.6ZM384.8 63.0L398.1 60.8 398.1 67.0Z"/>
<path fill="#f0f9a7" d="M455.6 34.0L453.3 40.8 451.3 40.2ZM446.1 75.7L438.4 72.3 440.0 69.1ZM455.8 44.5L454.2 47.1 451.9 44.7ZM443.9 65.7L448.3 69.1 440.0 69.1ZM429.0 21.9L430.1 25.4 427.4 23.6Z"/>
<path fill="#c8e99e" d="M437.5 90.1L433.0 90.1 436.8 85.5ZM403.9 77.4L397.5 76.5 405.2 73.6ZM442.0 83.3L446.1 85.9 442.6 90.7ZM433.0 90.1L427.2 85.6 436.8 85.5ZM433.0 24.7L431.3 22.3 434.8 21.6ZM448.3 69.1L454.8 72.5 446.1 75.7ZM450.0 83.1L451.8 82.3 452.4 89.4ZM410.4 82.1L405.9 86.3 405.1 84.2ZM410.7 93.2L405.9 86.3 410.4 82.1ZM399.6 64.1L405.5 67.0 398.1 67.0Z"/>
<path fill="#d3ed9c" d="M442.0 83.3L436.8 85.5 437.5 83.1ZM403.9 77.4L410.4 82.1 405.1 84.2ZM410.4 82.1L403.9 77.4 410.1 77.5ZM414.1 24.3L417.9 21.2 417.6 23.5ZM398.1 67.0L405.5 67.0 405.2 73.6ZM400.7 49.8L393.8 51.2 396.6 43.1ZM426.6 89.3L419.7 90.2 427.2 85.6Z"/>
<path fill="#3387bc" d="M431.3 22.3L434.2 18.2 434.8 21.6ZM393.3 39.9L388.1 37.5 393.9 33.6ZM404.7 24.3L403.2 27.1 400.8 25.0ZM429.0 21.9L425.3 21.1 430.1 18.9ZM461.6 47.1L468.0 45.1 465.7 53.2ZM391.2 53.2L383.6 52.7 387.1 46.6ZM404.7 24.3L406.2 21.1 410.3 24.0Z"/>
<path fill="#feda86" d="M414.1 24.3L414.3 27.6 410.3 24.0ZM446.7 41.1L448.9 37.0 451.3 40.2ZM448.4 44.0L446.7 41.1 451.3 40.2ZM422.0 25.3L420.4 27.0 417.6 23.5ZM427.5 67.5L421.8 63.8 428.8 63.2Z"/>
<path fill="#fee28f" d="M414.3 27.6L414.1 24.3 417.6 23.5ZM404.4 31.7L407.3 31.1 403.1 34.3ZM443.6 53.0L444.0 57.7 441.9 59.6ZM443.6 53.0L447.9 47.8 448.7 50.5Z"/>
<path fill="#ea5e47" d="M416.5 28.7L414.3 27.6 417.6 23.5ZM423.7 57.8L419.6 53.3 422.3 51.1ZM412.3 43.4L405.8 40.3 412.6 40.2ZM411.9 30.3L412.9 34.1 407.3 31.1Z"/>
<path fill="#fba05b" d="M411.9 30.3L407.3 31.1 410.3 24.0ZM445.9 43.9L447.9 47.8 440.6 50.5Z"/>
<path fill="#ee6445" d="M414.3 27.6L411.9 30.3 410.3 24.0ZM442.0 43.4L444.0 41.2 445.9 43.9ZM446.0 34.4L444.0 41.2 443.2 33.7Z"/>
<path fill="#60bba8" d="M417.9 21.2L414.1 24.3 415.9 19.0ZM396.3 57.8L384.8 63.0 386.4 58.0ZM467.3 76.7L469.9 78.7 470.5 83.3ZM386.1 69.6L384.8 63.0 388.0 70.0Z"/>
<path fill="#f57245" d="M420.4 27.0L416.5 28.7 417.6 23.5ZM407.3 31.1L411.9 36.9 403.1 34.3ZM433.7 57.2L437.5 49.5 440.6 50.5ZM425.1 59.2L423.7 57.8 430.0 56.2ZM444.0 41.2L446.0 34.4 446.7 41.1Z"/>
<path fill="#d43d4f" d="M419.4 44.5L412.3 43.4 417.0 39.7ZM423.7 57.8L422.3 51.1 426.3 50.9ZM430.0 56.2L423.7 57.8 426.3 50.9Z"/>
<path fill="#da464d" d="M412.3 43.4L412.6 40.2 417.0 39.7ZM415.7 36.9L412.6 40.2 411.9 36.9Z"/>
<path fill="#6bc4a5" d="M397.2 37.5L393.3 39.9 393.9 33.6ZM461.4 65.7L467.5 69.4 464.3 70.9ZM467.5 69.4L467.3 76.7 464.3 70.9ZM391.2 53.2L390.9 47.8 393.8 51.2ZM391.2 53.2L396.3 57.8 386.4 58.0Z"/>
<path fill="#fee695" d="M447.9 47.8L448.4 44.0 451.9 44.7ZM416.0 67.0L412.2 61.3 419.9 64.2ZM421.8 63.8L427.5 67.5 422.9 70.2ZM446.0 34.4L451.5 33.7 448.9 37.0ZM405.8 40.3L401.3 40.9 403.1 34.3ZM444.0 57.7L443.6 53.0 448.2 53.8ZM448.2 53.8L443.6 53.0 448.7 50.5Z"/>
<path fill="#fdc372" d="M447.9 47.8L445.9 43.9 448.4 44.0ZM422.0 25.3L427.4 23.6 425.2 27.7ZM423.7 57.8L421.8 63.8 419.9 64.2Z"/>
<path fill="#e75948" d="M443.2 33.7L439.6 35.3 442.0 31.5ZM420.4 27.0L422.0 25.3 425.2 27.7Z"/>
<path fill="#fdb768" d="M445.9 43.9L446.7 41.1 448.4 44.0ZM410.2 49.9L417.6 54.2 408.7 59.2Z"/>
<path fill="#fed683" d="M438.2 21.6L439.3 28.0 435.1 27.2ZM401.3 40.9L405.8 40.3 406.9 47.4ZM410.2 49.9L404.0 50.7 406.9 47.4Z"/>
<path fill="#f06744" d="M439.3 28.0L443.2 26.9 442.0 31.5ZM430.1 25.4L432.8 26.8 429.4 27.3ZM446.0 34.4L443.2 33.7 442.0 31.5ZM412.3 43.4L413.3 48.0 406.9 47.4ZM417.6 54.2L413.3 48.0 419.6 53.3Z"/>
<path fill="#e1504b" d="M439.6 35.3L439.3 28.0 442.0 31.5ZM412.9 34.1L411.9 36.9 407.3 31.1ZM413.3 48.0L412.3 43.4 419.4 44.5ZM444.0 41.2L439.6 35.3 443.2 33.7ZM437.5 49.5L438.7 46.9 440.6 50.5Z"/>
<path fill="#de4c4b" d="M439.3 28.0L439.6 35.3 435.1 27.2ZM433.7 57.2L430.0 56.2 429.3 51.2ZM419.6 53.3L413.3 48.0 419.4 44.5Z"/>
<path fill="#f67a49" d="M425.2 27.7L427.4 23.6 429.4 27.3ZM413.3 48.0L417.6 54.2 410.2 49.9Z"/>
<path fill="#fdbd6d" d="M443.2 26.9L446.8 26.8 442.0 31.5ZM433.7 57.2L434.1 64.3 431.6 61.0ZM421.8 63.8L425.1 59.2 428.8 63.2ZM432.8 26.8L430.1 25.4 433.0 24.7Z"/>
<path fill="#ad1246" d="M415.1 31.4L411.9 30.3 414.3 27.6ZM442.0 43.4L438.7 46.9 439.9 41.3Z"/>
<path fill="#f67f4b" d="M411.9 36.9L405.8 40.3 403.1 34.3ZM432.8 26.8L433.0 24.7 435.1 27.2ZM444.0 41.2L446.7 41.1 445.9 43.9ZM423.7 57.8L417.6 54.2 419.6 53.3Z"/>
<path fill="#e45549" d="M412.6 40.2L405.8 40.3 411.9 36.9Z"/>
<path fill="#f8864f" d="M405.8 40.3L412.3 43.4 406.9 47.4ZM430.0 56.2L433.7 57.2 431.6 61.0Z"/>
<path fill="#fff8b4" d="M404.4 31.7L403.2 27.1 407.3 31.1ZM414.3 67.2L416.0 67.0 416.3 70.4ZM401.2 54.8L404.0 50.7 408.7 59.2ZM441.9 59.6L444.5 62.6 443.9 65.7ZM409.7 66.3L412.2 61.3 414.3 67.2Z"/>
<path fill="#f46d43" d="M442.0 43.4L445.9 43.9 440.6 50.5Z"/>
<path fill="#c9314c" d="M437.5 49.5L433.7 57.2 429.3 51.2ZM415.1 31.4L412.9 34.1 411.9 30.3Z"/>
<path fill="#fdb365" d="M441.9 59.6L433.7 57.2 440.6 50.5ZM425.1 59.2L421.8 63.8 423.7 57.8Z"/>
<path fill="#feea9b" d="M419.9 64.2L421.8 63.8 422.9 70.2ZM439.3 28.0L442.0 24.1 443.2 26.9Z"/>
<path fill="#fdad60" d="M428.8 63.2L425.1 59.2 431.6 61.0ZM446.7 41.1L446.0 34.4 448.9 37.0Z"/>
<path fill="#f99355" d="M425.1 59.2L430.0 56.2 431.6 61.0ZM446.8 26.8L446.0 34.4 442.0 31.5Z"/>
<path fill="#f98e52" d="M413.3 48.0L410.2 49.9 406.9 47.4Z"/>
<path fill="#c32a4b" d="M444.0 41.2L442.0 43.4 439.9 41.3Z"/>
<path fill="#d0384e" d="M439.6 35.3L444.0 41.2 439.9 41.3Z"/>
<path fill="#a20643" d="M436.0 47.1L438.7 46.9 437.5 49.5Z"/>
<path fill="#d8434e" d="M438.7 46.9L442.0 43.4 440.6 50.5Z"/>
<path fill="#fecc7b" d="M443.6 53.0L441.9 59.6 440.6 50.5ZM412.2 61.3L417.6 54.2 419.9 64.2ZM417.6 54.2L412.2 61.3 408.7 59.2Z"/>
<path fill="#fdc776" d="M447.9 47.8L443.6 53.0 440.6 50.5Z"/>
<path fill="#b81e48" d="M412.9 34.1L415.7 36.9 411.9 36.9Z"/>
<path fill="#b41947" d="M437.8 37.1L439.6 35.3 439.9 41.3Z"/>
<path fill="#fca85e" d="M417.6 54.2L423.7 57.8 419.9 64.2Z"/>
</g>
<rect x="418.81" y="26.43" width="14.97" height="33.69" fill="none" stroke="#6cbfa6" stroke-width="1.1"/>
<rect x="314" y="15.2" width="224.6" height="74.87" fill="none" stroke="#111" stroke-width="0.75"/>
<circle cx="426.8" cy="14.9" r="2.15" fill="none" stroke="#f51010" stroke-width="2.1"/>
<text x="314" y="99.77" text-anchor="middle" class="tk">−1500</text>
<text x="351.43" y="99.77" text-anchor="middle" class="tk">−1000</text>
<text x="388.87" y="99.77" text-anchor="middle" class="tk">−500</text>
<text x="426.3" y="99.77" text-anchor="middle" class="tk">0</text>
<text x="463.73" y="99.77" text-anchor="middle" class="tk">500</text>
<text x="501.17" y="99.77" text-anchor="middle" class="tk">1000</text>
<text x="538.6" y="99.77" text-anchor="middle" class="tk">1500</text>
<text x="309.1" y="17.9" text-anchor="end" class="tk">0</text>
<text x="309.1" y="32.87" text-anchor="end" class="tk">−200</text>
<text x="309.1" y="47.85" text-anchor="end" class="tk">−400</text>
<text x="309.1" y="62.82" text-anchor="end" class="tk">−600</text>
<text x="309.1" y="77.79" text-anchor="end" class="tk">−800</text>
<text x="309.1" y="92.77" text-anchor="end" class="tk">−1000</text>
<path d="M314 90.07v2.4 M351.43 90.07v2.4 M388.87 90.07v2.4 M426.3 90.07v2.4 M463.73 90.07v2.4 M501.17 90.07v2.4 M538.6 90.07v2.4 M314 15.2h-2.4 M314 30.17h-2.4 M314 45.15h-2.4 M314 60.12h-2.4 M314 75.09h-2.4 M314 90.07h-2.4" stroke="#222" stroke-width="0.6" fill="none"/>
<text x="426.3" y="109.27" text-anchor="middle" class="al">x (m)</text>
<text transform="translate(281.5,52.63) rotate(-90)" text-anchor="middle" class="al">z (m)</text>
<text x="322" y="74.7" class="an">y = 0 m</text>
<text x="318.1" y="9.8" class="ti tb">(b)</text>
<g clip-path="url(#cpc)">
<rect x="42" y="117.2" width="224.6" height="74.87" fill="#5e4fa2"/>
<path fill="#4471b2" fill-rule="evenodd" d="M98.0 128.7L102.5 128.2 124.5 128.7 154.0 128.7 175.5 128.2 196.5 129.2 207.5 132.5 218.3 134.7 234.5 140.1 250.5 147.2 267.5 150.5 267.5 192.7 41.0 192.7 41.0 151.8 56.0 148.8 66.5 143.1 80.0 134.5 89.0 129.7Z"/>
<path fill="#3387bc" fill-rule="evenodd" d="M160.5 129.2L176.5 129.0 197.0 130.1 207.5 133.9 219.7 137.2 235.5 143.6 250.5 151.4 267.5 155.6 267.5 192.7 41.0 192.7 41.0 160.3 55.5 156.9 59.0 155.2 66.0 150.7 75.2 140.2 85.5 132.9 90.0 131.3 102.0 129.2Z"/>
<path fill="#459eb4" fill-rule="evenodd" d="M121.5 130.2L164.0 129.9 177.0 130.1 190.0 130.9 197.0 131.7 207.0 134.1 209.0 135.0 210.5 135.1 212.0 136.0 214.5 136.6 218.1 138.2 222.8 141.2 226.3 144.7 229.3 149.7 230.8 153.2 233.5 161.2 235.2 168.2 236.7 175.7 237.9 186.7 232.1 192.7 67.5 192.7 65.2 190.2 66.1 181.2 68.2 167.7 73.2 147.7 74.5 144.7 76.9 141.2 81.0 138.1 86.0 135.3 92.5 133.4 102.5 131.4Z"/>
<path fill="#5cb7aa" fill-rule="evenodd" d="M126.5 130.7L164.0 130.5 178.5 130.9 188.4 131.7 196.5 132.8 204.7 134.7 210.2 136.7 215.0 139.4 218.5 142.7 221.0 147.2 221.6 152.2 221.3 160.2 220.0 168.2 217.7 176.2 214.3 184.2 209.2 192.7 90.7 192.7 86.7 186.2 84.2 181.2 82.0 175.7 80.0 168.7 78.6 160.2 78.3 152.7 78.7 148.2 80.1 144.7 82.4 141.7 86.0 138.8 90.0 136.6 95.0 134.8 101.0 133.3 109.5 131.9Z"/>
<path fill="#74c7a5" fill-rule="evenodd" d="M126.0 131.2L162.0 130.9 174.5 131.2 184.5 131.9 192.5 133.0 199.5 134.5 205.5 136.5 210.5 139.4 213.7 142.7 215.2 146.2 215.8 152.7 214.9 162.2 213.3 169.2 210.7 176.2 208.2 181.2 203.3 188.7 200.0 192.7 100.3 192.7 95.3 186.2 91.9 180.7 89.2 175.2 86.7 167.7 85.2 160.7 84.6 152.7 84.8 148.2 85.9 144.2 87.9 141.2 90.2 139.2 93.4 137.2 98.5 135.2 109.7 132.7Z"/>
<path fill="#8fd2a4" fill-rule="evenodd" d="M129.5 131.7L161.5 131.4 180.0 132.2 194.5 134.2 200.0 135.7 204.5 137.5 208.1 139.7 210.7 142.2 212.5 145.2 213.1 147.7 213.2 152.7 212.7 158.2 211.1 164.7 208.7 170.7 206.0 175.7 201.0 182.4 195.0 188.4 189.4 192.7 111.9 192.7 106.0 188.1 101.5 183.7 97.0 178.0 93.7 172.7 90.9 166.2 89.4 161.2 88.3 152.7 88.7 146.7 90.3 143.2 92.5 140.7 96.5 137.9 101.0 136.0 112.0 133.3 120.5 132.3Z"/>
<path fill="#aadca4" fill-rule="evenodd" d="M132.5 132.2L161.0 131.9 177.0 132.6 191.5 134.4 200.9 137.2 204.0 138.7 207.0 140.9 209.4 143.7 210.3 145.7 210.8 149.2 210.7 154.2 210.1 157.7 208.4 163.2 206.5 167.0 203.0 172.2 196.5 178.9 191.0 183.0 187.0 185.5 179.5 189.1 175.0 190.7 167.5 192.7 134.9 192.7 124.0 189.5 116.0 185.7 111.0 182.7 105.5 178.4 100.0 172.6 96.0 166.7 93.4 160.7 92.0 154.2 92.0 147.7 93.5 143.7 96.0 140.8 99.5 138.4 103.5 136.6 109.0 135.0 115.5 133.7Z"/>
<path fill="#c3e79f" fill-rule="evenodd" d="M141.5 132.7L161.5 132.7 177.0 133.4 190.3 135.2 199.5 138.0 203.0 139.9 205.2 141.7 206.9 143.7 208.0 146.2 208.5 150.2 208.3 153.7 207.8 156.7 205.8 162.2 202.3 167.7 198.0 172.3 194.5 175.3 188.5 179.2 181.5 182.5 177.0 184.1 169.5 186.2 161.0 187.5 152.5 188.0 147.0 187.9 138.5 187.0 131.5 185.5 125.5 183.7 118.5 180.9 113.0 177.9 108.5 174.8 104.5 171.2 101.4 167.7 98.5 163.2 96.6 159.2 95.3 153.7 95.3 148.2 96.0 145.2 97.5 142.7 99.6 140.7 102.8 138.7 106.5 137.1 112.0 135.5 124.5 133.6Z"/>
<path fill="#daf09a" fill-rule="evenodd" d="M138.5 133.7L161.0 133.6 176.5 134.3 188.0 135.9 196.5 138.4 202.0 141.4 204.3 143.7 205.4 145.7 206.0 148.2 206.0 152.7 204.6 158.7 202.3 163.2 200.2 166.2 196.0 170.7 193.0 173.1 184.0 178.5 173.0 182.5 160.5 184.8 148.0 185.1 136.0 183.6 124.5 180.3 117.7 177.2 112.0 173.7 107.5 170.0 103.7 165.7 100.8 161.2 98.9 156.2 98.2 150.7 98.6 146.7 100.1 143.7 102.7 141.2 106.0 139.2 110.5 137.4 115.5 136.1 122.5 134.9Z"/>
<path fill="#ebf7a0" fill-rule="evenodd" d="M137.0 134.7L159.5 134.4 173.0 135.0 183.5 136.2 193.5 138.7 199.5 141.7 201.7 143.7 202.7 145.2 203.5 147.7 203.7 150.2 203.2 154.7 202.3 157.7 200.3 161.7 198.2 164.7 195.0 168.1 191.5 171.0 183.0 176.0 172.0 179.9 160.5 182.0 148.5 182.2 137.0 180.9 126.5 177.9 121.0 175.6 115.5 172.5 111.0 169.1 106.7 164.7 103.7 160.2 102.2 156.7 101.3 152.7 101.3 147.7 102.1 145.2 104.1 142.7 107.0 140.6 111.0 138.8 115.5 137.4 121.5 136.2Z"/>
<path fill="#f5fbaf" fill-rule="evenodd" d="M135.5 135.7L152.5 135.3 169.0 135.7 180.0 136.8 189.0 138.7 195.5 141.3 198.2 143.2 200.0 145.2 201.0 147.2 201.3 149.7 200.6 155.2 197.9 161.2 195.2 164.7 192.1 167.7 184.5 172.8 175.0 176.8 164.0 179.4 152.5 180.2 141.0 179.4 131.0 177.2 124.5 174.8 119.0 172.1 114.5 169.1 110.1 165.2 107.0 161.2 104.7 156.7 103.7 152.7 103.7 148.2 104.5 145.7 106.6 143.2 109.6 141.2 112.9 139.7 123.0 137.1Z"/>
<path fill="#fffebe" fill-rule="evenodd" d="M144.0 136.2L162.0 136.2 173.0 136.9 183.0 138.5 190.5 140.7 195.5 143.4 198.3 146.7 198.9 150.2 198.5 153.7 197.6 156.7 195.1 161.2 192.0 164.8 187.5 168.5 182.5 171.5 176.5 174.1 170.0 176.1 163.0 177.4 156.0 178.1 149.0 178.1 141.5 177.4 135.0 176.1 128.5 174.1 122.5 171.6 117.5 168.6 113.0 165.0 109.7 161.2 107.1 156.2 106.1 152.7 105.9 150.2 106.6 146.7 108.0 144.7 109.7 143.2 115.6 140.2 123.0 138.2 132.0 136.9Z"/>
<path fill="#fff2aa" fill-rule="evenodd" d="M141.5 137.2L157.5 137.0 168.5 137.5 178.1 138.7 185.5 140.5 191.4 143.2 194.7 146.2 195.9 149.2 195.3 154.2 193.9 157.7 191.5 161.3 188.0 164.8 183.5 167.9 178.5 170.5 172.5 172.8 166.0 174.4 159.5 175.3 152.5 175.6 145.5 175.2 134.6 173.2 129.5 171.5 124.0 169.1 119.0 165.9 115.3 162.7 111.9 158.2 110.0 153.7 109.7 148.7 110.2 147.2 111.5 145.5 113.7 143.7 116.5 142.1 123.1 139.7 132.0 138.0Z"/>
<path fill="#fee695" fill-rule="evenodd" d="M141.0 138.2L150.5 137.8 163.5 138.0 173.5 139.0 181.5 140.8 187.2 143.2 190.8 146.2 192.3 149.2 191.7 153.7 190.7 156.2 188.8 159.2 184.2 163.7 178.0 167.4 170.5 170.3 162.5 172.0 152.5 172.6 142.5 171.7 135.0 169.9 130.0 168.0 125.6 165.7 119.7 161.2 117.2 158.2 115.8 155.7 114.7 152.7 114.4 149.7 115.6 147.2 117.2 145.2 121.8 142.2 130.0 139.7Z"/>
<path fill="#fed683" fill-rule="evenodd" d="M147.0 138.7L157.5 138.5 166.0 139.0 174.2 140.2 181.4 142.2 185.4 144.2 188.0 146.7 188.7 149.7 187.9 153.7 186.0 157.2 183.8 159.7 180.5 162.4 176.5 164.8 172.5 166.5 167.5 168.0 162.5 169.0 157.0 169.6 151.0 169.6 145.5 169.1 140.0 168.0 135.5 166.6 131.5 164.9 127.5 162.6 124.5 160.2 121.8 157.2 119.7 153.2 119.1 149.2 119.9 146.7 122.5 144.2 126.5 142.2 132.5 140.4 139.0 139.3Z"/>
<path fill="#fdc372" fill-rule="evenodd" d="M150.0 139.2L158.0 139.2 166.0 139.8 172.0 140.9 177.0 142.4 181.6 145.2 184.1 148.2 184.5 150.2 183.5 153.7 182.1 156.2 179.9 158.7 176.9 161.2 173.5 163.3 165.5 166.3 156.0 167.7 151.5 167.8 146.1 167.2 138.0 165.1 134.0 163.3 130.6 161.2 127.6 158.7 125.5 156.2 123.6 152.7 123.0 149.2 124.3 146.7 127.1 144.2 131.0 142.2 136.5 140.6 143.0 139.6Z"/>
<path fill="#fdad60" fill-rule="evenodd" d="M144.5 140.2L151.0 139.8 160.0 139.9 166.7 140.7 172.0 142.0 176.0 143.7 178.5 145.7 179.9 148.7 179.9 151.7 177.9 155.7 174.7 159.2 170.2 162.2 165.4 164.2 159.5 165.6 153.5 166.0 147.5 165.5 142.0 164.3 136.1 161.7 131.5 158.3 128.4 154.2 127.1 150.2 128.0 146.7 129.1 145.2 131.1 143.7 137.0 141.4Z"/>
<path fill="#f99355" fill-rule="evenodd" d="M148.0 140.7L154.0 140.5 160.0 140.9 164.3 141.7 168.7 143.2 172.4 145.2 175.0 147.7 175.2 149.7 174.3 152.7 171.8 156.2 168.9 158.7 165.3 160.7 160.5 162.3 155.5 163.1 150.0 163.0 145.5 162.2 141.3 160.7 137.0 158.2 133.5 154.7 131.7 150.7 131.6 147.7 133.9 145.2 137.4 143.2 142.0 141.6Z"/>
<path fill="#f67a49" fill-rule="evenodd" d="M148.0 141.7L156.0 141.5 162.0 142.9 164.4 144.2 166.1 145.7 167.7 148.2 168.7 150.7 167.2 153.2 165.0 155.4 162.1 157.2 159.0 158.4 155.5 159.1 152.0 159.2 148.5 158.8 144.5 157.6 141.8 156.2 139.3 154.2 137.4 151.7 136.9 149.7 138.3 146.7 140.8 144.2 143.7 142.7Z"/>
<path fill="#ee6445" fill-rule="evenodd" d="M148.0 142.7L157.0 142.7 161.0 144.2 162.5 145.6 163.1 146.7 163.1 148.7 162.5 150.7 161.3 152.2 159.5 153.6 155.0 155.2 150.4 155.2 145.8 153.7 143.7 152.2 142.5 150.8 141.8 149.2 141.7 147.2 142.0 146.2 144.0 144.2Z"/>
<path fill="#e1504b" fill-rule="evenodd" d="M149.5 148.5L153.5 148.3 156.1 148.7 152.5 149.4 149.1 148.7Z"/>
<path fill="#3387bc" d="M45.8 175.8L43.4 168.4 56.7 164.5ZM41.2 175.4L43.4 168.4 45.8 175.8ZM68.0 159.3L63.2 156.8 67.1 154.6ZM38.8 171.9L37.1 166.5 43.4 168.4ZM37.1 166.5L40.3 163.1 43.4 168.4ZM45.5 158.9L55.8 158.8 56.7 164.5ZM104.3 128.6L103.9 132.4 100.7 129.1ZM55.8 158.8L61.2 163.5 56.7 164.5ZM44.2 187.8L49.1 193.7 43.4 194.8ZM260.6 168.4L265.7 166.5 267.6 174.7ZM236.6 144.9L241.0 148.4 234.6 151.9ZM56.2 176.1L45.8 175.8 56.7 164.5ZM232.9 148.3L231.4 138.8 236.6 144.9ZM256.5 155.5L260.0 163.1 251.6 163.7ZM65.7 147.8L75.8 148.7 67.1 154.6ZM245.5 152.5L239.6 152.7 241.0 148.4ZM250.1 160.8L245.5 152.5 247.9 151.4ZM236.1 159.1L231.9 160.9 236.6 155.7ZM252.5 152.2L250.1 160.8 247.9 151.4ZM260.0 163.1L267.5 154.8 268.0 160.7ZM256.5 155.5L267.5 154.8 260.0 163.1ZM257.4 167.5L254.6 170.0 251.6 163.7ZM76.4 162.5L70.7 162.4 68.0 159.3ZM267.9 183.6L263.7 179.1 268.2 180.3ZM263.7 179.1L267.9 183.6 263.0 184.0ZM76.2 139.3L76.4 137.2 80.2 140.8ZM137.2 132.3L136.6 128.8 140.3 127.7ZM155.1 132.8L152.7 129.0 159.0 127.0ZM140.3 127.7L144.8 128.9 144.0 131.8Z"/>
<path fill="#3682ba" d="M43.4 168.4L44.1 164.8 56.7 164.5ZM40.3 163.1L45.5 158.9 44.1 164.8ZM63.2 156.8L61.2 148.3 67.1 154.6ZM245.5 152.5L241.0 148.4 247.9 151.4ZM65.7 147.8L72.1 144.5 75.8 148.7ZM227.3 137.5L218.8 140.4 220.6 137.1ZM128.1 132.2L128.1 127.2 133.2 129.4ZM164.0 132.4L163.0 127.0 167.6 128.4ZM178.1 128.0L175.9 131.2 172.8 129.0ZM186.5 127.9L182.1 132.3 182.6 128.8Z"/>
<path fill="#4471b2" d="M38.6 158.4L38.7 156.6 43.1 156.4ZM38.7 156.6L41.5 152.6 43.1 156.4ZM47.4 156.4L45.5 158.9 43.1 156.4ZM47.4 156.4L56.6 146.5 55.8 158.8ZM238.7 138.8L241.0 148.4 236.6 144.9ZM256.5 155.5L252.5 152.2 256.5 144.5ZM248.2 144.4L252.5 152.2 247.9 151.4ZM76.2 139.3L72.1 144.5 71.9 139.7ZM269.8 151.1L267.5 154.8 265.2 150.7ZM96.5 135.4L88.3 129.0 94.5 125.5Z"/>
<path fill="#378ebb" d="M41.2 175.4L38.8 171.9 43.4 168.4ZM40.3 163.1L44.1 164.8 43.4 168.4ZM44.1 164.8L45.5 158.9 56.7 164.5ZM39.7 180.3L41.2 175.4 45.8 175.8ZM41.0 190.6L43.4 194.8 39.4 195.3ZM61.2 163.5L63.2 156.8 68.0 159.3ZM63.2 156.8L61.2 163.5 55.8 158.8ZM44.2 187.8L38.2 186.5 41.7 183.1ZM44.2 187.8L41.0 190.6 38.2 186.5ZM41.0 190.6L44.2 187.8 43.4 194.8ZM260.0 163.1L265.7 166.5 260.6 168.4ZM224.1 187.1L220.8 176.3 224.5 178.7ZM61.2 163.5L65.0 168.4 56.7 164.5ZM241.0 148.4L239.6 152.7 234.6 151.9ZM232.9 148.3L236.6 144.9 234.6 151.9ZM56.2 194.9L52.4 195.0 51.1 191.1ZM45.7 182.9L44.2 187.8 41.7 183.1ZM45.7 182.9L39.7 180.3 45.8 175.8ZM56.2 176.1L45.7 182.9 45.8 175.8ZM44.2 187.8L45.7 182.9 51.1 191.1ZM250.1 160.8L256.5 155.5 251.6 163.7ZM265.7 166.5L269.6 172.7 267.6 174.7ZM267.4 162.6L260.0 163.1 268.0 160.7ZM267.4 162.6L265.7 166.5 260.0 163.1ZM267.4 162.6L271.3 167.0 265.7 166.5ZM264.7 194.8L260.8 186.1 267.3 188.2ZM269.6 195.5L264.7 194.8 267.3 188.2ZM79.1 159.9L68.0 159.3 67.1 154.6ZM71.7 194.5L66.4 195.4 74.4 187.4ZM56.2 176.1L67.6 181.9 61.7 193.6ZM67.6 181.9L56.2 176.1 65.1 175.0ZM231.9 160.9L236.1 159.1 239.8 166.1ZM236.1 159.1L250.1 160.8 239.8 166.1ZM239.6 152.7L236.1 159.1 236.6 155.7ZM245.5 152.5L236.1 159.1 239.6 152.7ZM231.9 160.9L228.3 156.2 236.6 155.7ZM228.3 156.2L232.9 148.3 234.6 151.9ZM226.7 158.6L228.3 156.2 231.9 160.9ZM226.7 176.0L230.6 175.1 234.1 179.4ZM252.5 152.2L256.5 155.5 250.1 160.8ZM249.6 194.1L256.3 187.5 255.9 195.3ZM252.0 175.6L259.4 179.6 252.1 183.1ZM259.4 179.6L256.3 187.5 252.1 183.1ZM256.3 187.5L259.4 179.6 260.8 186.1ZM259.4 179.6L254.6 170.0 260.6 168.4ZM239.8 166.1L247.7 172.1 235.5 175.2ZM247.7 172.1L241.2 178.8 235.5 175.2ZM219.7 193.6L215.1 194.9 213.2 191.8ZM229.9 186.2L232.1 190.5 224.1 187.1ZM109.5 127.9L107.2 133.1 104.3 128.6ZM72.1 144.5L76.2 139.3 77.8 143.0ZM220.2 144.4L227.3 137.5 232.9 148.3ZM259.2 194.1L256.3 187.5 260.8 186.1ZM260.8 186.1L263.0 184.0 267.3 188.2ZM259.4 179.6L263.0 184.0 260.8 186.1ZM257.4 167.5L260.0 163.1 260.6 168.4ZM254.6 170.0L257.4 167.5 260.6 168.4ZM238.3 192.2L241.4 188.3 242.1 194.6ZM87.7 132.9L88.3 129.0 92.1 136.6ZM263.0 184.0L267.9 183.6 267.3 188.2ZM263.7 179.1L263.0 184.0 259.4 179.6ZM268.2 180.3L263.7 179.1 267.6 174.7ZM263.7 179.1L260.6 168.4 267.6 174.7ZM263.7 179.1L259.4 179.6 260.6 168.4ZM252.0 175.6L243.2 183.1 241.2 178.8ZM76.4 137.2L87.7 132.9 80.2 140.8ZM111.4 133.1L109.5 127.9 112.6 128.9ZM136.6 128.8L134.9 131.0 133.2 129.4ZM178.1 128.0L182.6 128.8 178.2 132.6Z"/>
<path fill="#4175b4" d="M40.3 163.1L38.6 158.4 43.1 156.4ZM61.2 148.3L63.2 156.8 55.8 158.8ZM241.0 148.4L248.2 144.4 247.9 151.4ZM96.5 135.4L94.5 125.5 100.7 129.1ZM162.0 133.1L159.0 127.0 163.0 127.0Z"/>
<path fill="#3b7cb7" d="M45.5 158.9L40.3 163.1 43.1 156.4ZM45.5 158.9L47.4 156.4 55.8 158.8ZM61.2 148.3L65.7 147.8 67.1 154.6ZM265.2 150.7L267.5 154.8 256.5 155.5ZM232.9 148.3L227.3 137.5 231.4 138.8ZM186.5 127.9L193.3 128.9 192.7 132.2Z"/>
<path fill="#74c7a5" d="M196.6 187.3L203.5 183.1 202.2 195.9ZM103.1 195.4L105.0 191.6 108.3 195.0ZM196.2 194.7L196.6 187.3 202.2 195.9ZM84.0 146.6L88.1 150.9 84.9 156.5ZM95.1 140.4L89.5 140.8 92.1 136.6ZM213.6 136.7L215.8 148.2 209.5 149.2ZM211.8 180.2L205.3 171.6 213.1 168.6ZM207.2 180.2L205.3 171.6 211.8 180.2ZM88.4 174.5L85.9 171.0 94.0 170.0ZM119.6 135.8L117.8 127.4 128.1 132.2ZM162.0 133.1L155.1 132.8 159.0 127.0ZM211.8 157.0L215.8 148.2 215.7 156.5Z"/>
<path fill="#4ba4b1" d="M208.7 192.1L213.2 191.8 211.9 195.7ZM220.8 176.3L224.1 187.1 211.8 180.2ZM77.8 143.0L80.2 140.8 82.2 143.4ZM221.0 159.8L226.7 158.6 219.3 171.1ZM89.0 179.7L83.1 189.9 81.7 179.9ZM65.0 168.4L72.5 175.7 65.1 175.0ZM70.7 162.4L79.3 168.3 72.5 175.7ZM224.1 155.5L226.7 158.6 221.0 159.8ZM224.1 155.5L220.0 154.4 220.4 152.5ZM218.5 143.3L218.8 140.4 220.2 144.4Z"/>
<path fill="#5cb7aa" d="M203.5 183.1L208.7 192.1 202.2 195.9ZM216.4 170.5L216.4 166.8 219.3 171.1ZM216.4 166.8L216.4 170.5 213.1 168.6ZM216.4 170.5L220.8 176.3 211.8 180.2ZM79.1 159.9L84.9 156.5 79.7 162.5ZM99.8 191.2L99.5 195.8 94.3 195.0ZM80.2 140.8L89.5 140.8 82.2 143.4ZM134.9 131.0L128.1 132.2 133.2 129.4ZM216.4 166.8L217.2 160.7 221.0 159.8ZM217.2 160.7L215.7 156.5 221.0 159.8ZM85.9 171.0L80.2 170.4 84.8 164.3ZM215.7 156.5L220.0 154.4 221.0 159.8ZM215.8 148.2L218.9 146.8 220.4 152.5ZM218.5 143.3L218.9 146.8 215.8 148.2ZM164.0 132.4L162.0 133.1 163.0 127.0ZM182.1 132.3L186.5 127.9 185.8 135.0Z"/>
<path fill="#60bba8" d="M216.4 170.5L211.8 180.2 213.1 168.6ZM207.6 183.2L207.2 180.2 211.8 180.2ZM207.6 183.2L208.7 192.1 203.5 183.1ZM84.9 156.5L84.8 164.3 79.7 162.5ZM99.8 191.2L103.1 195.4 99.5 195.8ZM84.0 146.6L84.9 156.5 75.8 148.7ZM89.0 179.7L97.2 178.5 98.4 186.1ZM169.5 132.0L164.0 132.4 167.6 128.4ZM215.8 148.2L220.4 152.5 215.7 156.5ZM88.3 144.3L84.0 146.6 82.2 143.4ZM89.5 140.8L88.3 144.3 82.2 143.4ZM85.9 171.0L88.4 174.5 84.8 178.0ZM88.4 174.5L89.0 179.7 84.8 178.0ZM136.6 128.8L137.2 132.3 134.9 131.0ZM214.0 164.0L217.2 160.7 216.4 166.8ZM200.8 136.2L200.5 133.0 208.6 136.9Z"/>
<path fill="#4199b6" d="M213.2 191.8L215.1 194.9 211.9 195.7ZM80.2 193.4L75.1 195.3 74.4 187.4ZM51.1 191.1L56.2 176.1 61.7 193.6ZM231.6 172.3L231.9 160.9 239.8 166.1ZM230.6 175.1L231.6 172.3 235.5 175.2ZM271.3 167.0L269.6 172.7 265.7 166.5ZM107.2 133.1L103.9 132.4 104.3 128.6ZM88.5 191.3L84.6 195.7 83.1 189.9ZM226.7 158.6L231.6 172.3 219.3 171.1ZM226.7 176.0L220.8 176.3 219.3 171.1ZM231.6 172.3L226.7 176.0 219.3 171.1ZM247.7 172.1L239.8 166.1 251.6 163.7ZM254.6 170.0L247.7 172.1 251.6 163.7ZM223.0 193.9L219.7 193.6 224.1 187.1ZM229.8 195.1L223.0 193.9 224.1 187.1ZM229.8 195.1L232.1 190.5 233.9 195.8ZM72.1 144.5L77.8 143.0 75.8 148.7ZM67.6 181.9L74.6 181.8 74.4 187.4ZM74.6 181.8L75.5 177.9 81.7 179.9ZM74.6 181.8L72.5 175.7 75.5 177.9ZM220.4 152.5L220.2 144.4 232.9 148.3ZM218.8 140.4L227.3 137.5 220.2 144.4ZM172.8 129.0L169.5 132.0 167.6 128.4ZM241.4 188.3L247.0 187.9 242.1 194.6ZM229.9 186.2L241.4 188.3 232.1 190.5ZM226.2 183.3L224.1 187.1 224.5 178.7ZM226.2 183.3L229.9 186.2 224.1 187.1ZM226.2 183.3L226.7 176.0 234.1 179.4ZM226.7 176.0L226.2 183.3 224.5 178.7ZM103.9 132.4L96.5 135.4 100.7 129.1ZM70.7 162.4L72.5 175.7 65.0 168.4ZM70.7 162.4L65.0 168.4 68.0 159.3ZM79.3 168.3L70.7 162.4 76.4 162.5ZM228.3 156.2L224.1 155.5 232.9 148.3ZM241.4 188.3L243.2 183.1 247.0 187.9ZM243.2 183.1L252.0 175.6 252.1 183.1ZM175.9 131.2L178.1 128.0 178.2 132.6ZM117.8 127.4L119.6 135.8 112.6 128.9Z"/>
<path fill="#3b92b9" d="M239.8 166.1L250.1 160.8 251.6 163.7ZM52.4 195.0L49.1 193.7 51.1 191.1ZM49.1 193.7L44.2 187.8 51.1 191.1ZM241.2 178.8L234.1 179.4 235.5 175.2ZM75.1 195.3L71.7 194.5 74.4 187.4ZM81.7 179.9L83.1 189.9 74.4 187.4ZM83.1 189.9L80.2 193.4 74.4 187.4ZM65.0 168.4L61.2 163.5 68.0 159.3ZM65.0 168.4L56.2 176.1 56.7 164.5ZM56.2 176.1L65.0 168.4 65.1 175.0ZM239.6 152.7L236.6 155.7 234.6 151.9ZM234.1 179.4L230.6 175.1 235.5 175.2ZM56.2 194.9L51.1 191.1 61.7 193.6ZM39.7 180.3L45.7 182.9 41.7 183.1ZM45.7 182.9L56.2 176.1 51.1 191.1ZM232.1 190.5L238.3 192.2 233.9 195.8ZM83.1 189.9L84.6 195.7 80.2 193.4ZM67.6 181.9L66.4 195.4 61.7 193.6ZM66.4 195.4L67.6 181.9 74.4 187.4ZM236.1 159.1L245.5 152.5 250.1 160.8ZM236.6 155.7L228.3 156.2 234.6 151.9ZM226.7 158.6L231.9 160.9 231.6 172.3ZM230.6 175.1L226.7 176.0 231.6 172.3ZM254.6 170.0L259.4 179.6 252.0 175.6ZM247.7 172.1L254.6 170.0 252.0 175.6ZM247.7 172.1L252.0 175.6 241.2 178.8ZM247.0 187.9L247.3 195.8 242.1 194.6ZM247.0 187.9L249.6 194.1 247.3 195.8ZM256.3 187.5L247.0 187.9 252.1 183.1ZM247.0 187.9L256.3 187.5 249.6 194.1ZM224.1 187.1L219.7 193.6 213.2 191.8ZM232.1 190.5L229.8 195.1 224.1 187.1ZM74.6 181.8L81.7 179.9 74.4 187.4ZM72.5 175.7L67.6 181.9 65.1 175.0ZM72.5 175.7L74.6 181.8 67.6 181.9ZM218.8 140.4L213.6 136.7 220.6 137.1ZM259.2 194.1L260.8 186.1 264.7 194.8ZM256.3 187.5L259.2 194.1 255.9 195.3ZM260.0 163.1L257.4 167.5 251.6 163.7ZM232.1 190.5L241.4 188.3 238.3 192.2ZM241.4 188.3L229.9 186.2 234.1 179.4ZM88.3 129.0L96.5 135.4 92.1 136.6ZM224.1 155.5L220.4 152.5 232.9 148.3ZM226.7 158.6L224.1 155.5 228.3 156.2ZM247.0 187.9L243.2 183.1 252.1 183.1ZM241.2 178.8L243.2 183.1 234.1 179.4ZM243.2 183.1L241.4 188.3 234.1 179.4ZM192.7 132.2L193.3 128.9 197.2 132.4Z"/>
<path fill="#b1dfa3" d="M129.2 195.7L128.8 179.4 135.3 187.0ZM182.1 179.3L187.2 186.0 179.9 186.3ZM135.8 182.8L139.4 188.3 135.3 187.0ZM94.6 154.4L90.1 152.8 94.5 148.5ZM98.3 170.0L107.9 171.0 106.1 176.1ZM160.3 192.1L155.5 190.1 160.4 186.0ZM209.2 167.3L199.7 167.2 200.4 162.3ZM169.5 132.0L175.9 131.2 171.9 135.7ZM207.9 150.6L204.7 148.4 209.5 149.2ZM207.4 158.4L209.2 167.3 200.4 162.3ZM182.1 132.3L179.9 135.0 178.2 132.6ZM211.8 157.0L207.9 150.6 209.5 149.2Z"/>
<path fill="#97d5a4" d="M125.9 196.0L128.8 179.4 129.2 195.7ZM187.2 186.0L191.2 182.4 196.6 187.3ZM91.0 160.7L98.9 166.2 90.3 162.4ZM178.0 189.9L173.5 191.8 170.1 187.3ZM173.5 191.8L179.4 193.4 175.0 195.4ZM202.8 174.8L197.9 180.2 195.5 174.6ZM191.2 182.4L197.9 180.2 196.6 187.3ZM98.3 170.0L94.0 170.0 98.9 166.2ZM207.4 158.4L211.1 160.7 209.2 167.3Z"/>
<path fill="#f67f4b" d="M166.7 154.5L161.7 155.3 163.1 152.1ZM147.9 156.8L144.2 155.0 146.5 152.6ZM139.9 151.9L144.2 155.0 139.7 156.5ZM146.7 160.6L144.2 155.0 147.9 156.8ZM164.0 143.8L166.8 144.5 162.6 146.9ZM170.2 147.1L171.1 152.7 168.2 151.2ZM141.2 144.7L142.3 146.8 137.9 148.6Z"/>
<path fill="#459eb4" d="M231.6 172.3L239.8 166.1 235.5 175.2ZM211.8 180.2L224.1 187.1 213.2 191.8ZM75.8 148.7L77.8 143.0 82.2 143.4ZM75.8 148.7L79.1 159.9 67.1 154.6ZM84.6 195.7L88.5 191.3 87.6 195.8ZM75.5 177.9L81.1 174.3 81.7 179.9ZM79.1 159.9L76.4 162.5 68.0 159.3ZM220.8 176.3L226.7 176.0 224.5 178.7ZM77.8 143.0L76.2 139.3 80.2 140.8ZM229.9 186.2L226.2 183.3 234.1 179.4ZM109.5 127.9L111.4 133.1 107.2 133.1ZM79.3 168.3L80.2 170.4 72.5 175.7ZM80.2 170.4L81.1 174.3 75.5 177.9ZM72.5 175.7L80.2 170.4 75.5 177.9ZM210.0 132.8L213.6 136.7 208.6 136.9ZM146.9 132.3L144.8 128.9 149.9 129.4ZM200.5 133.0L210.0 132.8 208.6 136.9Z"/>
<path fill="#4d65ad" d="M41.5 152.6L47.4 156.4 43.1 156.4ZM56.6 146.5L47.4 156.4 50.0 144.5ZM45.8 144.4L47.4 156.4 41.5 152.6ZM231.4 138.8L238.7 138.8 236.6 144.9ZM238.7 138.8L248.2 144.4 241.0 148.4ZM252.5 152.2L248.2 144.4 256.5 144.5ZM62.4 139.4L65.7 147.8 61.2 148.3ZM72.1 144.5L62.4 139.4 71.9 139.7ZM62.4 139.4L72.1 144.5 65.7 147.8ZM269.8 151.1L265.2 150.7 268.5 147.6ZM213.6 136.7L211.2 128.8 220.6 137.1Z"/>
<path fill="#a4daa4" d="M136.8 192.1L129.2 195.7 135.3 187.0ZM117.7 191.2L128.8 179.4 125.9 196.0ZM139.4 188.3L136.8 192.1 135.3 187.0ZM182.1 179.3L191.2 182.4 187.2 186.0ZM110.2 183.4L118.2 175.2 112.9 186.8ZM139.4 188.3L141.7 192.2 136.8 192.1ZM173.5 191.8L170.4 194.5 170.1 187.3ZM185.0 190.8L181.5 191.1 179.9 186.3ZM187.2 186.0L185.0 190.8 179.9 186.3ZM197.9 180.2L191.3 176.2 195.5 174.6ZM170.4 194.5L163.6 192.2 170.1 187.3ZM90.0 142.8L95.1 140.4 94.5 148.5ZM95.1 140.4L97.3 140.6 94.5 148.5ZM175.9 131.2L178.2 132.6 177.7 135.1ZM201.0 170.3L202.8 174.8 195.5 174.6Z"/>
<path fill="#9cd7a4" d="M117.7 191.2L112.9 186.8 124.6 178.2ZM181.5 191.1L178.0 189.9 179.9 186.3ZM141.7 192.2L139.4 188.3 148.8 187.5ZM110.2 183.4L103.8 183.8 106.1 176.1ZM191.3 176.2L197.9 180.2 191.2 182.4ZM91.0 160.7L90.1 152.8 94.6 154.4ZM150.7 190.2L152.0 194.3 146.8 196.1ZM141.7 192.2L150.7 190.2 146.8 196.1ZM150.7 190.2L155.5 190.1 152.0 194.3ZM97.3 140.6L96.5 135.4 102.8 140.6ZM90.0 147.1L90.0 142.8 94.5 148.5ZM90.1 152.8L90.0 147.1 94.5 148.5ZM155.5 190.1L157.4 194.1 152.0 194.3ZM160.3 192.1L157.4 194.1 155.5 190.1ZM205.3 171.6L199.7 167.2 209.2 167.3ZM201.0 170.3L205.3 171.6 202.8 174.8ZM211.8 157.0L211.1 160.7 207.4 158.4Z"/>
<path fill="#b5e1a2" d="M128.8 179.4L117.7 191.2 124.6 178.2ZM112.9 186.8L118.2 175.2 124.6 178.2ZM182.1 179.3L186.2 175.8 191.2 182.4ZM186.2 175.8L191.3 176.2 191.2 182.4ZM97.4 158.7L100.7 159.3 98.9 166.2ZM107.9 171.0L98.3 170.0 98.9 166.2ZM97.2 156.3L97.4 158.7 94.6 154.4ZM209.5 149.2L204.7 148.4 208.6 136.9ZM153.6 187.7L150.7 190.2 148.8 187.5ZM204.7 148.4L200.4 139.6 208.6 136.9Z"/>
<path fill="#81cda5" d="M179.4 193.4L181.5 191.1 184.9 195.8ZM192.9 193.7L187.2 186.0 196.6 187.3ZM114.0 190.3L117.7 191.2 115.7 195.9ZM105.0 191.6L114.0 190.3 108.3 195.0ZM202.8 174.8L207.2 180.2 203.5 183.1ZM112.9 195.5L114.0 190.3 115.7 195.9ZM114.0 190.3L112.9 195.5 108.3 195.0ZM186.8 194.2L185.0 190.8 192.9 193.7ZM197.9 180.2L202.8 174.8 203.5 183.1ZM196.6 187.3L197.9 180.2 203.5 183.1ZM95.1 140.4L96.5 135.4 97.3 140.6ZM205.3 171.6L209.2 167.3 213.1 168.6ZM211.1 160.7L211.8 157.0 215.7 156.5Z"/>
<path fill="#fee08b" d="M153.0 167.3L155.8 170.4 152.1 172.0ZM170.4 171.8L163.2 167.9 165.9 164.2ZM145.7 167.8L151.2 167.8 152.1 172.0ZM172.8 168.3L174.6 162.6 177.7 164.1ZM134.3 140.3L131.9 143.9 126.6 140.1ZM192.1 156.2L185.9 150.9 191.1 147.8ZM157.9 140.3L160.1 135.1 165.7 141.0ZM182.3 160.3L183.6 162.8 177.7 164.1ZM192.1 156.2L189.7 158.9 185.9 150.9ZM189.7 158.9L182.3 160.3 185.9 150.9Z"/>
<path fill="#fee28f" d="M155.8 170.4L163.2 167.9 162.4 172.5ZM121.5 168.6L130.5 159.1 131.1 163.0ZM165.7 141.0L171.9 135.7 173.8 139.9ZM124.2 152.4L113.9 150.9 120.6 147.1ZM136.7 166.5L133.3 172.4 131.1 163.0ZM179.8 167.1L172.8 168.3 177.7 164.1ZM188.9 142.7L188.2 147.4 182.2 143.8ZM189.7 158.9L183.6 162.8 182.3 160.3Z"/>
<path fill="#fafdb7" d="M156.6 179.9L160.0 174.8 159.8 180.3ZM116.6 171.7L117.8 167.5 121.5 168.6ZM167.7 174.4L172.9 175.5 171.2 179.5ZM104.3 158.8L104.1 155.0 113.2 155.0ZM109.3 168.0L104.3 158.8 114.4 158.4ZM191.7 164.2L193.3 167.6 187.5 164.7ZM172.9 175.5L174.5 171.0 179.9 174.6ZM183.0 171.2L187.5 164.7 187.4 171.2ZM117.2 139.6L119.6 135.8 126.6 140.1ZM180.4 171.1L183.0 171.2 179.9 174.6Z"/>
<path fill="#feec9f" d="M160.0 174.8L155.8 170.4 162.4 172.5ZM155.8 170.4L160.0 174.8 152.1 172.0ZM163.2 167.9L167.7 174.4 162.4 172.5ZM134.3 140.3L126.6 140.1 128.3 137.0ZM113.1 148.8L117.2 139.6 120.6 147.1ZM179.8 167.1L174.5 171.0 172.8 168.3ZM151.6 141.0L149.3 135.1 153.9 137.3ZM179.8 167.1L183.6 162.8 187.5 164.7ZM183.6 162.8L189.7 158.9 187.5 164.7Z"/>
<path fill="#fff6b0" d="M160.0 174.8L156.6 179.9 152.1 172.0ZM121.5 168.6L117.8 167.5 114.4 158.4ZM113.2 155.0L104.1 155.0 110.4 150.9ZM167.7 174.4L163.4 175.4 162.4 172.5ZM188.9 142.7L200.2 145.2 191.1 147.8ZM180.4 171.1L174.5 171.0 179.8 167.1ZM146.0 136.9L137.1 140.2 140.3 135.0ZM198.6 150.9L192.1 156.2 191.1 147.8Z"/>
<path fill="#56b0ad" d="M207.6 183.2L211.8 180.2 213.2 191.8ZM208.7 192.1L207.6 183.2 213.2 191.8ZM216.4 166.8L221.0 159.8 219.3 171.1ZM84.9 156.5L79.1 159.9 75.8 148.7ZM88.5 191.3L92.6 189.6 94.3 195.0ZM81.7 179.9L81.1 174.3 84.8 178.0ZM81.1 174.3L85.9 171.0 84.8 178.0ZM84.0 146.6L75.8 148.7 82.2 143.4ZM88.5 191.3L89.0 179.7 92.6 189.6ZM89.0 179.7L81.7 179.9 84.8 178.0ZM79.3 168.3L76.4 162.5 79.7 162.5ZM84.8 164.3L79.3 168.3 79.7 162.5ZM80.2 170.4L79.3 168.3 84.8 164.3ZM220.0 154.4L224.1 155.5 221.0 159.8ZM220.4 152.5L220.0 154.4 215.7 156.5ZM220.4 152.5L218.9 146.8 220.2 144.4ZM218.5 143.3L215.8 148.2 213.6 136.7Z"/>
<path fill="#6bc4a5" d="M207.2 180.2L207.6 183.2 203.5 183.1ZM84.8 164.3L84.9 156.5 90.3 162.4ZM196.2 194.7L192.9 193.7 196.6 187.3ZM85.9 171.0L84.8 164.3 90.3 162.4ZM99.8 191.2L105.0 191.6 103.1 195.4ZM99.8 191.2L103.8 183.8 105.0 191.6ZM96.5 135.4L95.1 140.4 92.1 136.6ZM89.0 179.7L90.5 175.1 97.2 178.5ZM90.5 175.1L88.4 174.5 94.0 170.0ZM144.8 128.9L146.9 132.3 144.0 131.8ZM217.2 160.7L211.1 160.7 215.7 156.5ZM209.2 167.3L214.0 164.0 213.1 168.6ZM214.0 164.0L216.4 166.8 213.1 168.6ZM214.0 164.0L211.1 160.7 217.2 160.7Z"/>
<path fill="#50a9af" d="M220.8 176.3L216.4 170.5 219.3 171.1ZM87.6 195.8L88.5 191.3 94.3 195.0ZM76.4 162.5L79.1 159.9 79.7 162.5ZM89.0 179.7L88.5 191.3 83.1 189.9ZM89.5 140.8L87.7 132.9 92.1 136.6ZM87.7 132.9L89.5 140.8 80.2 140.8ZM137.2 132.3L140.3 127.7 144.0 131.8ZM149.9 129.4L152.7 129.0 150.9 133.0ZM80.2 170.4L85.9 171.0 81.1 174.3ZM175.9 131.2L169.5 132.0 172.8 129.0ZM218.8 140.4L218.5 143.3 213.6 136.7ZM218.9 146.8L218.5 143.3 220.2 144.4ZM182.6 128.8L182.1 132.3 178.2 132.6ZM186.5 127.9L192.7 132.2 185.8 135.0ZM200.5 133.0L200.8 136.2 197.2 132.4Z"/>
<path fill="#c8e99e" d="M94.5 148.5L99.2 148.5 99.2 151.4ZM100.7 159.3L103.4 163.7 98.9 166.2ZM103.4 163.7L107.9 171.0 98.9 166.2ZM116.6 171.7L118.2 175.2 106.1 176.1ZM107.2 133.1L108.5 141.0 102.8 140.6ZM191.3 176.2L193.9 170.1 195.5 174.6ZM174.2 178.5L182.1 179.3 179.9 186.3ZM153.6 187.7L159.7 182.5 160.4 186.0ZM193.9 170.1L201.0 170.3 195.5 174.6ZM199.7 167.2L201.0 170.3 193.9 170.1ZM149.3 135.1L146.9 132.3 150.9 133.0ZM164.4 135.4L162.0 133.1 164.0 132.4ZM207.9 150.6L206.3 155.1 204.1 152.5Z"/>
<path fill="#ffffbe" d="M106.4 147.6L110.4 150.9 103.4 150.6ZM117.8 167.5L112.7 168.3 114.4 158.4ZM156.6 179.9L152.8 179.8 152.1 172.0ZM198.6 150.9L201.4 155.2 192.1 156.2Z"/>
<path fill="#fff8b4" d="M110.4 150.9L106.4 147.6 113.1 148.8ZM171.9 135.7L165.7 141.0 166.5 134.9ZM163.4 175.4L160.0 174.8 162.4 172.5ZM142.2 174.8L133.3 172.4 139.9 171.4ZM148.1 179.6L144.1 174.8 152.1 172.0ZM142.2 174.8L144.1 174.8 143.9 179.1ZM177.7 135.1L178.7 139.9 173.8 139.9ZM108.5 141.0L117.2 139.6 113.1 148.8ZM174.5 171.0L172.9 175.5 170.4 171.8ZM200.2 145.2L198.6 150.9 191.1 147.8ZM189.7 158.9L191.7 164.2 187.5 164.7ZM189.7 158.9L192.1 156.2 191.7 164.2Z"/>
<path fill="#8fd2a4" d="M98.9 166.2L94.0 170.0 90.3 162.4ZM105.0 191.6L110.2 183.4 112.9 186.8ZM114.0 190.3L105.0 191.6 112.9 186.8ZM179.4 193.4L178.0 189.9 181.5 191.1ZM103.9 132.4L107.2 133.1 102.8 140.6ZM103.8 183.8L101.7 183.3 106.1 176.1ZM170.4 194.5L173.5 191.8 175.0 195.4ZM173.5 191.8L178.0 189.9 179.4 193.4ZM181.5 191.1L185.0 190.8 184.9 195.8ZM98.3 170.0L97.2 178.5 94.0 170.0ZM97.2 178.5L98.3 170.0 106.1 176.1ZM215.8 148.2L211.8 157.0 209.5 149.2Z"/>
<path fill="#fdb365" d="M136.5 160.4L130.5 159.1 130.6 155.7ZM148.9 163.8L145.7 167.8 144.5 162.4ZM139.5 163.1L134.1 162.7 136.5 160.4ZM142.2 166.6L139.5 163.1 144.5 162.4ZM126.8 151.3L128.6 148.7 130.6 155.7ZM173.2 155.5L174.6 162.6 171.3 159.9ZM131.9 143.9L128.6 148.7 124.9 146.6ZM178.1 155.8L174.6 162.6 173.2 155.5ZM146.0 136.9L141.2 144.7 137.1 140.2Z"/>
<path fill="#fdb768" d="M130.5 159.1L124.2 152.4 130.6 155.7ZM134.1 162.7L130.5 159.1 136.5 160.4ZM163.2 167.9L159.8 163.8 165.9 164.2ZM178.7 139.9L178.7 148.4 172.6 143.2ZM124.9 146.6L126.8 151.3 124.2 152.4ZM185.9 150.9L177.8 152.8 178.7 148.4Z"/>
<path fill="#feea9b" d="M130.5 159.1L121.5 168.6 114.4 158.4ZM113.2 155.0L124.2 152.4 114.4 158.4ZM142.2 166.6L141.6 171.8 139.9 171.4ZM133.3 172.4L136.7 166.5 139.9 171.4ZM144.1 174.8L141.6 171.8 145.7 167.8ZM144.1 174.8L145.7 167.8 152.1 172.0ZM117.2 139.6L126.6 140.1 120.6 147.1ZM188.2 147.4L188.9 142.7 191.1 147.8ZM137.1 140.2L134.3 140.3 136.8 137.5ZM160.1 135.1L157.9 140.3 153.9 137.3ZM178.7 139.9L182.9 139.7 182.2 143.8Z"/>
<path fill="#feda86" d="M124.2 152.4L130.5 159.1 114.4 158.4ZM141.6 171.8L142.2 166.6 145.7 167.8ZM185.9 150.9L188.2 147.4 191.1 147.8ZM188.2 147.4L185.9 150.9 182.2 143.8Z"/>
<path fill="#fba05b" d="M139.5 163.1L142.1 159.5 144.5 162.4ZM139.7 156.5L136.5 160.4 130.6 155.7ZM128.6 148.7L137.9 148.6 130.6 155.7ZM166.8 144.5L165.7 141.0 172.6 143.2ZM172.6 143.2L178.7 148.4 173.0 147.8ZM178.7 148.4L177.8 152.8 173.0 147.8ZM177.8 152.8L171.1 152.7 173.0 147.8ZM137.1 140.2L141.2 144.7 136.0 144.7Z"/>
<path fill="#fca85e" d="M142.1 159.5L139.5 163.1 136.5 160.4ZM148.9 163.8L149.8 160.3 153.0 167.3ZM146.7 160.6L148.9 163.8 144.5 162.4ZM171.3 159.9L168.2 160.5 166.7 154.5ZM149.8 160.3L159.8 163.8 153.0 167.3ZM159.8 163.8L160.1 159.3 165.9 164.2ZM131.9 143.9L134.3 140.3 136.0 144.7ZM146.0 136.9L151.6 141.0 150.3 143.0Z"/>
<path fill="#fa9b58" d="M139.7 156.5L142.1 159.5 136.5 160.4ZM148.9 163.8L146.7 160.6 149.8 160.3ZM160.1 159.3L168.2 160.5 165.9 164.2ZM173.2 155.5L171.3 159.9 166.7 154.5ZM171.1 152.7L173.2 155.5 166.7 154.5ZM166.8 144.5L164.0 143.8 165.7 141.0ZM170.2 147.1L166.8 144.5 172.6 143.2ZM128.6 148.7L131.9 143.9 136.0 144.7ZM171.1 152.7L177.8 152.8 173.2 155.5ZM164.0 143.8L157.9 140.3 165.7 141.0Z"/>
<path fill="#496aaf" d="M56.6 146.5L61.2 148.3 55.8 158.8ZM265.2 150.7L256.5 155.5 256.5 144.5ZM76.4 137.2L76.2 139.3 71.9 139.7ZM117.8 127.4L128.1 127.2 128.1 132.2Z"/>
<path fill="#525fa9" d="M58.7 140.5L56.6 146.5 50.0 144.5ZM58.7 140.5L61.2 148.3 56.6 146.5ZM268.5 147.6L265.2 150.7 267.1 144.5ZM41.1 146.9L45.8 144.4 41.5 152.6ZM47.4 156.4L45.8 144.4 50.0 144.5ZM58.7 140.5L62.4 139.4 61.2 148.3ZM70.0 132.8L76.4 137.2 71.9 139.7ZM210.0 132.8L211.2 128.8 213.6 136.7ZM210.0 132.8L200.5 133.0 209.4 129.5Z"/>
<path fill="#fff0a6" d="M125.6 170.4L121.5 168.6 131.1 163.0ZM141.6 171.8L142.2 174.8 139.9 171.4ZM170.4 171.8L167.7 174.4 163.2 167.9ZM113.9 150.9L113.2 155.0 110.4 150.9ZM182.9 139.7L188.9 142.7 182.2 143.8ZM146.0 136.9L149.3 135.1 151.6 141.0Z"/>
<path fill="#e8f69b" d="M143.9 179.1L148.1 179.6 148.8 187.5ZM103.4 150.6L104.1 155.0 99.2 151.4ZM126.0 175.6L128.8 179.4 124.6 178.2ZM118.2 175.2L126.0 175.6 124.6 178.2ZM148.1 179.6L152.8 179.8 148.8 187.5ZM193.3 167.6L193.9 170.1 187.4 171.2ZM204.7 148.4L200.5 149.0 200.2 145.2ZM204.7 148.4L204.1 152.5 200.5 149.0ZM174.2 178.5L179.9 174.6 182.1 179.3ZM137.2 132.3L140.3 135.0 136.8 137.5ZM146.9 132.3L149.3 135.1 146.0 136.9ZM200.4 139.6L204.7 148.4 200.2 145.2Z"/>
<path fill="#d3ed9c" d="M139.4 188.3L143.9 179.1 148.8 187.5ZM159.7 182.5L164.3 182.4 160.4 186.0ZM104.1 155.0L97.2 156.3 99.2 151.4ZM171.2 179.5L174.2 178.5 170.1 187.3ZM111.4 133.1L119.6 135.8 117.2 139.6ZM146.9 132.3L146.0 136.9 144.0 131.8Z"/>
<path fill="#86cfa5" d="M117.7 191.2L114.0 190.3 112.9 186.8ZM117.7 191.2L119.5 194.9 115.7 195.9ZM119.5 194.9L117.7 191.2 125.9 196.0ZM101.7 183.3L97.2 178.5 106.1 176.1ZM105.0 191.6L103.8 183.8 110.2 183.4ZM185.0 190.8L187.2 186.0 192.9 193.7ZM185.0 190.8L186.8 194.2 184.9 195.8ZM90.1 152.8L91.0 160.7 84.9 156.5ZM96.5 135.4L103.9 132.4 102.8 140.6ZM89.5 140.8L95.1 140.4 90.0 142.8ZM202.8 174.8L205.3 171.6 207.2 180.2ZM90.0 147.1L88.3 144.3 90.0 142.8ZM146.9 132.3L149.9 129.4 150.9 133.0ZM211.1 160.7L214.0 164.0 209.2 167.3ZM200.4 139.6L200.8 136.2 208.6 136.9ZM200.8 136.2L200.4 139.6 197.2 132.4Z"/>
<path fill="#f06744" d="M147.9 156.8L148.3 152.6 151.9 154.4ZM159.4 152.9L162.6 146.9 163.1 152.1ZM159.4 152.9L155.0 148.0 162.6 146.9ZM159.4 152.9L157.8 156.7 151.9 154.4ZM148.3 152.6L151.2 148.5 151.9 154.4ZM152.9 143.3L157.4 143.0 155.0 148.0ZM142.3 146.8L147.8 148.9 146.5 152.6Z"/>
<path fill="#f67a49" d="M149.8 160.3L147.9 156.8 151.9 154.4ZM162.6 146.9L168.2 151.2 163.1 152.1ZM157.8 156.7L149.8 160.3 151.9 154.4ZM160.1 159.3L157.8 156.7 161.7 155.3ZM166.8 144.5L168.2 151.2 162.6 146.9ZM142.3 146.8L139.9 151.9 137.9 148.6Z"/>
<path fill="#f57245" d="M148.3 152.6L147.9 156.8 146.5 152.6ZM144.2 155.0L139.9 151.9 146.5 152.6ZM157.8 156.7L159.4 152.9 161.7 155.3ZM151.6 141.0L152.9 143.3 150.3 143.0ZM139.9 151.9L142.3 146.8 146.5 152.6Z"/>
<path fill="#f8864f" d="M168.2 151.2L166.7 154.5 163.1 152.1ZM146.7 160.6L147.9 156.8 149.8 160.3ZM168.2 160.5L161.7 155.3 166.7 154.5ZM168.2 160.5L160.1 159.3 161.7 155.3ZM136.0 144.7L141.2 144.7 137.9 148.6ZM157.9 140.3L152.9 143.3 151.6 141.0Z"/>
<path fill="#f46d43" d="M161.7 155.3L159.4 152.9 163.1 152.1ZM157.4 143.0L164.0 143.8 162.6 146.9ZM152.9 143.3L157.9 140.3 157.4 143.0Z"/>
<path fill="#ea5e47" d="M155.0 148.0L159.4 152.9 151.9 154.4ZM151.2 148.5L155.0 148.0 151.9 154.4ZM151.2 148.5L152.9 143.3 155.0 148.0Z"/>
<path fill="#fdbd6d" d="M172.6 143.2L165.7 141.0 173.8 139.9ZM151.2 167.8L148.9 163.8 153.0 167.3ZM124.2 152.4L126.8 151.3 130.6 155.7ZM128.6 148.7L126.8 151.3 124.9 146.6ZM174.6 162.6L168.2 160.5 171.3 159.9ZM134.3 140.3L137.1 140.2 136.0 144.7Z"/>
<path fill="#aadca4" d="M178.0 189.9L170.1 187.3 179.9 186.3ZM118.2 175.2L110.2 183.4 106.1 176.1ZM97.4 158.7L91.0 160.7 94.6 154.4ZM91.0 160.7L97.4 158.7 98.9 166.2ZM150.7 190.2L141.7 192.2 148.8 187.5ZM163.6 192.2L164.6 186.9 170.1 187.3ZM160.3 192.1L160.4 186.0 164.6 186.9ZM163.6 192.2L160.3 192.1 164.6 186.9ZM153.6 187.7L155.5 190.1 150.7 190.2ZM111.4 133.1L108.5 141.0 107.2 133.1ZM201.0 170.3L199.7 167.2 205.3 171.6Z"/>
<path fill="#fdfebb" d="M160.0 174.8L163.4 175.4 159.8 180.3ZM152.8 179.8L148.1 179.6 152.1 172.0ZM133.3 172.4L126.0 175.6 125.6 170.4ZM167.7 174.4L164.3 182.4 163.4 175.4ZM191.7 164.2L192.1 156.2 200.4 162.3ZM174.5 171.0L180.4 171.1 179.9 174.6ZM179.9 135.0L182.9 139.7 178.7 139.9Z"/>
<path fill="#555aa7" d="M265.2 150.7L260.8 143.8 267.1 144.5ZM260.8 143.8L265.2 150.7 256.5 144.5ZM45.8 144.4L49.2 138.9 50.0 144.5ZM40.8 141.1L45.8 144.4 41.1 146.9ZM63.9 137.1L70.0 132.8 71.9 139.7ZM62.4 139.4L63.9 137.1 71.9 139.7ZM227.3 137.5L231.1 134.9 231.4 138.8ZM224.2 131.8L227.3 137.5 220.6 137.1ZM200.5 133.0L197.2 132.4 202.2 123.3Z"/>
<path fill="#bce4a0" d="M94.6 154.4L94.5 148.5 99.2 151.4ZM128.3 137.0L128.1 132.2 134.9 131.0ZM97.2 156.3L94.6 154.4 99.2 151.4ZM97.4 158.7L97.2 156.3 100.7 159.3ZM164.0 132.4L169.5 132.0 166.5 134.9ZM170.1 187.3L174.2 178.5 179.9 186.3ZM155.5 190.1L153.6 187.7 160.4 186.0ZM206.3 155.1L211.8 157.0 207.4 158.4ZM211.8 157.0L206.3 155.1 207.9 150.6Z"/>
<path fill="#f3faac" d="M101.9 148.0L106.4 147.6 103.4 150.6ZM135.8 182.8L142.2 174.8 143.9 179.1ZM163.4 175.4L164.3 182.4 159.8 180.3ZM117.8 167.5L116.6 171.7 112.7 168.3ZM204.1 152.5L198.6 150.9 200.5 149.0ZM187.0 139.0L182.9 139.7 185.8 135.0Z"/>
<path fill="#dff299" d="M101.9 148.0L103.4 150.6 99.2 151.4ZM99.2 148.5L101.9 148.0 99.2 151.4ZM116.6 171.7L107.9 171.0 112.7 168.3ZM193.9 170.1L191.3 176.2 187.4 171.2ZM107.9 171.0L109.3 168.0 112.7 168.3ZM159.7 182.5L153.6 187.7 156.6 179.9ZM155.1 132.8L153.9 137.3 150.9 133.0ZM207.9 150.6L204.1 152.5 204.7 148.4ZM192.7 132.2L200.4 139.6 188.9 142.7ZM206.3 155.1L201.4 155.2 204.1 152.5Z"/>
<path fill="#ebf7a0" d="M106.4 147.6L101.9 148.0 102.8 140.6ZM133.3 172.4L135.8 182.8 128.8 179.4ZM108.5 141.0L106.4 147.6 102.8 140.6ZM159.7 182.5L156.6 179.9 159.8 180.3ZM187.0 139.0L192.7 132.2 188.9 142.7Z"/>
<path fill="#f8fcb4" d="M110.4 150.9L104.1 155.0 103.4 150.6ZM135.8 182.8L133.3 172.4 142.2 174.8ZM187.5 164.7L193.3 167.6 187.4 171.2ZM122.2 170.2L116.6 171.7 121.5 168.6ZM126.0 175.6L122.2 170.2 125.6 170.4ZM144.1 174.8L148.1 179.6 143.9 179.1ZM171.9 135.7L177.7 135.1 173.8 139.9ZM200.5 149.0L198.6 150.9 200.2 145.2Z"/>
<path fill="#79c9a5" d="M84.9 156.5L91.0 160.7 90.3 162.4ZM98.4 186.1L97.2 178.5 101.7 183.3ZM94.0 170.0L85.9 171.0 90.3 162.4ZM103.8 183.8L98.4 186.1 101.7 183.3ZM103.8 183.8L99.8 191.2 98.4 186.1ZM213.6 136.7L209.5 149.2 208.6 136.9ZM88.1 150.9L90.1 152.8 84.9 156.5ZM84.0 146.6L90.0 147.1 88.1 150.9ZM90.0 147.1L90.1 152.8 88.1 150.9ZM97.2 178.5L90.5 175.1 94.0 170.0ZM88.3 144.3L90.0 147.1 84.0 146.6ZM88.3 144.3L89.5 140.8 90.0 142.8ZM119.6 135.8L111.4 133.1 112.6 128.9ZM152.7 129.0L155.1 132.8 150.9 133.0ZM200.4 139.6L192.7 132.2 197.2 132.4Z"/>
<path fill="#fdc776" d="M130.5 159.1L134.1 162.7 131.1 163.0ZM124.9 146.6L124.2 152.4 120.6 147.1ZM159.8 163.8L155.8 170.4 153.0 167.3ZM142.2 166.6L136.7 166.5 139.5 163.1ZM174.6 162.6L172.8 168.3 168.2 160.5ZM174.6 162.6L178.1 155.8 177.7 164.1ZM157.9 140.3L151.6 141.0 153.9 137.3Z"/>
<path fill="#fdc372" d="M145.7 167.8L142.2 166.6 144.5 162.4ZM148.9 163.8L151.2 167.8 145.7 167.8ZM155.8 170.4L159.8 163.8 163.2 167.9ZM136.7 166.5L134.1 162.7 139.5 163.1ZM185.9 150.9L178.7 148.4 182.2 143.8ZM178.1 155.8L177.8 152.8 185.9 150.9Z"/>
<path fill="#e6f598" d="M128.3 137.0L134.9 131.0 136.8 137.5ZM104.3 158.8L109.3 168.0 103.4 163.7ZM104.1 155.0L104.3 158.8 100.7 159.3ZM199.7 167.2L193.9 170.1 193.3 167.6ZM200.4 162.3L199.7 167.2 193.3 167.6ZM153.6 187.7L152.8 179.8 156.6 179.9ZM146.0 136.9L140.3 135.0 144.0 131.8ZM182.9 139.7L179.9 135.0 185.8 135.0ZM162.0 133.1L164.4 135.4 160.1 135.1ZM201.4 155.2L203.7 158.3 200.4 162.3Z"/>
<path fill="#fed07e" d="M126.6 140.1L124.9 146.6 120.6 147.1ZM178.7 139.9L172.6 143.2 173.8 139.9ZM134.1 162.7L136.7 166.5 131.1 163.0Z"/>
<path fill="#f98e52" d="M128.6 148.7L136.0 144.7 137.9 148.6ZM137.9 148.6L139.9 151.9 130.6 155.7ZM139.7 156.5L144.2 155.0 142.1 159.5ZM144.2 155.0L146.7 160.6 142.1 159.5ZM157.8 156.7L159.8 163.8 149.8 160.3ZM166.8 144.5L170.2 147.1 168.2 151.2ZM171.1 152.7L170.2 147.1 173.0 147.8ZM141.2 144.7L146.0 136.9 150.3 143.0ZM157.9 140.3L164.0 143.8 157.4 143.0Z"/>
<path fill="#f99355" d="M139.9 151.9L139.7 156.5 130.6 155.7ZM142.1 159.5L146.7 160.6 144.5 162.4ZM159.8 163.8L157.8 156.7 160.1 159.3ZM168.2 151.2L171.1 152.7 166.7 154.5ZM170.2 147.1L172.6 143.2 173.0 147.8Z"/>
<path fill="#f5fbaf" d="M126.0 175.6L133.3 172.4 128.8 179.4ZM112.7 168.3L109.3 168.0 114.4 158.4ZM126.6 140.1L119.6 135.8 128.3 137.0ZM192.1 156.2L201.4 155.2 200.4 162.3Z"/>
<path fill="#fff2aa" d="M133.3 172.4L125.6 170.4 131.1 163.0ZM113.9 150.9L110.4 150.9 113.1 148.8ZM134.3 140.3L128.3 137.0 136.8 137.5ZM141.6 171.8L144.1 174.8 142.2 174.8ZM172.8 168.3L174.5 171.0 170.4 171.8ZM140.3 135.0L137.1 140.2 136.8 137.5ZM182.9 139.7L187.0 139.0 188.9 142.7Z"/>
<path fill="#cfec9d" d="M128.8 179.4L135.8 182.8 135.3 187.0ZM139.4 188.3L135.8 182.8 143.9 179.1ZM164.3 182.4L171.2 179.5 170.1 187.3ZM101.9 148.0L97.3 140.6 102.8 140.6ZM97.3 140.6L101.9 148.0 99.2 148.5ZM107.9 171.0L116.6 171.7 106.1 176.1ZM152.8 179.8L153.6 187.7 148.8 187.5ZM119.6 135.8L128.1 132.2 128.3 137.0ZM175.9 131.2L177.7 135.1 171.9 135.7ZM178.2 132.6L179.9 135.0 177.7 135.1ZM162.0 133.1L160.1 135.1 155.1 132.8ZM203.7 158.3L207.4 158.4 200.4 162.3Z"/>
<path fill="#66c2a5" d="M92.6 189.6L99.8 191.2 94.3 195.0ZM98.4 186.1L99.8 191.2 92.6 189.6ZM89.0 179.7L98.4 186.1 92.6 189.6ZM88.4 174.5L90.5 175.1 89.0 179.7Z"/>
<path fill="#fed683" d="M151.2 167.8L153.0 167.3 152.1 172.0Z"/>
<path fill="#ee6445" d="M155.0 148.0L157.4 143.0 162.6 146.9ZM147.8 148.9L148.3 152.6 146.5 152.6ZM147.8 148.9L151.2 148.5 148.3 152.6ZM150.3 143.0L152.9 143.3 151.2 148.5ZM142.3 146.8L150.3 143.0 147.8 148.9ZM142.3 146.8L141.2 144.7 150.3 143.0Z"/>
<path fill="#fecc7b" d="M178.7 148.4L178.7 139.9 182.2 143.8ZM168.2 160.5L172.8 168.3 165.9 164.2ZM131.9 143.9L124.9 146.6 126.6 140.1ZM178.1 155.8L182.3 160.3 177.7 164.1ZM182.3 160.3L178.1 155.8 185.9 150.9Z"/>
<path fill="#daf09a" d="M191.3 176.2L186.2 175.8 187.4 171.2ZM179.9 174.6L186.2 175.8 182.1 179.3ZM169.5 132.0L171.9 135.7 166.5 134.9ZM164.3 182.4L159.7 182.5 159.8 180.3ZM103.4 163.7L109.3 168.0 107.9 171.0ZM104.3 158.8L103.4 163.7 100.7 159.3ZM97.2 156.3L104.1 155.0 100.7 159.3ZM111.4 133.1L117.2 139.6 108.5 141.0ZM164.4 135.4L164.0 132.4 166.5 134.9ZM206.3 155.1L203.7 158.3 201.4 155.2Z"/>
<path fill="#fee695" d="M172.8 168.3L170.4 171.8 165.9 164.2ZM113.9 150.9L113.1 148.8 120.6 147.1ZM113.2 155.0L113.9 150.9 124.2 152.4ZM136.7 166.5L142.2 166.6 139.9 171.4ZM183.6 162.8L179.8 167.1 177.7 164.1Z"/>
<path fill="#f0f9a7" d="M164.3 182.4L167.7 174.4 171.2 179.5ZM116.6 171.7L122.2 170.2 118.2 175.2ZM122.2 170.2L126.0 175.6 118.2 175.2ZM191.7 164.2L200.4 162.3 193.3 167.6ZM172.9 175.5L174.2 178.5 171.2 179.5ZM179.9 174.6L183.0 171.2 186.2 175.8ZM177.7 135.1L179.9 135.0 178.7 139.9ZM153.9 137.3L149.3 135.1 150.9 133.0ZM188.9 142.7L200.4 139.6 200.2 145.2Z"/>
<path fill="#c3e79f" d="M160.4 186.0L164.3 182.4 164.6 186.9ZM164.6 186.9L164.3 182.4 170.1 187.3ZM97.3 140.6L99.2 148.5 94.5 148.5ZM140.3 135.0L137.2 132.3 144.0 131.8ZM134.9 131.0L137.2 132.3 136.8 137.5ZM179.9 135.0L182.1 132.3 185.8 135.0ZM203.7 158.3L206.3 155.1 207.4 158.4ZM192.7 132.2L187.0 139.0 185.8 135.0Z"/>
<path fill="#fffcba" d="M125.6 170.4L122.2 170.2 121.5 168.6ZM106.4 147.6L108.5 141.0 113.1 148.8ZM172.9 175.5L167.7 174.4 170.4 171.8ZM104.3 158.8L113.2 155.0 114.4 158.4ZM183.0 171.2L179.8 167.1 187.5 164.7ZM183.0 171.2L180.4 171.1 179.8 167.1ZM165.7 141.0L164.4 135.4 166.5 134.9ZM160.1 135.1L164.4 135.4 165.7 141.0Z"/>
<path fill="#e75948" d="M147.8 148.9L150.3 143.0 151.2 148.5Z"/>
<path fill="#eef8a4" d="M174.2 178.5L172.9 175.5 179.9 174.6ZM186.2 175.8L183.0 171.2 187.4 171.2ZM155.1 132.8L160.1 135.1 153.9 137.3ZM201.4 155.2L198.6 150.9 204.1 152.5Z"/>
<path fill="#fdad60" d="M177.8 152.8L178.1 155.8 173.2 155.5Z"/>
</g>
<rect x="116.87" y="139.66" width="74.87" height="37.43" fill="none" stroke="#6cbfa6" stroke-width="1.1"/>
<rect x="42" y="117.2" width="224.6" height="74.87" fill="none" stroke="#111" stroke-width="0.75"/>
<line x1="79.93" y1="116.9" x2="228.37" y2="116.9" stroke="#ee1c23" stroke-width="1.7"/>
<text x="42" y="201.77" text-anchor="middle" class="tk">−1500</text>
<text x="79.43" y="201.77" text-anchor="middle" class="tk">−1000</text>
<text x="116.87" y="201.77" text-anchor="middle" class="tk">−500</text>
<text x="154.3" y="201.77" text-anchor="middle" class="tk">0</text>
<text x="191.73" y="201.77" text-anchor="middle" class="tk">500</text>
<text x="229.17" y="201.77" text-anchor="middle" class="tk">1000</text>
<text x="266.6" y="201.77" text-anchor="middle" class="tk">1500</text>
<text x="37.1" y="119.9" text-anchor="end" class="tk">0</text>
<text x="37.1" y="134.87" text-anchor="end" class="tk">−200</text>
<text x="37.1" y="149.85" text-anchor="end" class="tk">−400</text>
<text x="37.1" y="164.82" text-anchor="end" class="tk">−600</text>
<text x="37.1" y="179.79" text-anchor="end" class="tk">−800</text>
<text x="37.1" y="194.77" text-anchor="end" class="tk">−1000</text>
<path d="M42 192.07v2.4 M79.43 192.07v2.4 M116.87 192.07v2.4 M154.3 192.07v2.4 M191.73 192.07v2.4 M229.17 192.07v2.4 M266.6 192.07v2.4 M42 117.2h-2.4 M42 132.17h-2.4 M42 147.15h-2.4 M42 162.12h-2.4 M42 177.09h-2.4 M42 192.07h-2.4" stroke="#222" stroke-width="0.6" fill="none"/>
<text x="154.3" y="211.27" text-anchor="middle" class="al">y (m)</text>
<text transform="translate(10,154.63) rotate(-90)" text-anchor="middle" class="al">z (m)</text>
<text x="50" y="176.7" class="an">x = 0 m</text>
<text x="41.7" y="111.6" class="ti tb">(c)</text>
<text x="55.6" y="111.3" class="ti ts" textLength="60.2" lengthAdjust="spacingAndGlyphs">Min/Mean= 41/80 Ωm</text>
<g clip-path="url(#cpd)">
<rect x="314" y="117.2" width="224.6" height="74.87" fill="#5e4fa2"/>
<path fill="#4471b2" fill-rule="evenodd" d="M415.0 127.2L438.4 127.2 450.5 128.8 456.8 130.7 461.5 132.9 465.5 135.8 468.8 139.2 472.0 145.2 473.3 150.7 473.7 159.2 473.1 167.2 471.4 174.7 468.8 181.7 465.2 188.2 461.9 192.7 390.9 192.7 388.3 189.2 386.0 185.5 382.8 178.7 381.4 174.7 379.7 167.2 379.1 159.2 379.3 153.7 380.1 147.7 381.7 143.2 384.1 139.2 386.9 136.2 389.4 134.2 393.7 131.7 402.5 128.8 408.9 127.7Z"/>
<path fill="#3387bc" fill-rule="evenodd" d="M418.0 127.7L438.0 127.8 445.0 128.6 451.0 129.9 456.5 131.8 461.0 134.3 464.5 137.2 467.8 141.2 469.9 145.7 471.2 151.2 471.5 159.2 471.0 166.7 469.4 173.7 466.7 180.7 463.0 187.2 458.7 192.7 395.0 192.7 390.5 187.0 387.2 181.2 385.5 177.4 384.3 173.7 382.7 166.7 382.1 159.2 382.3 153.7 383.1 148.2 384.8 143.2 386.3 140.7 389.2 137.2 392.9 134.2 397.0 131.9 400.1 130.7 406.0 129.1Z"/>
<path fill="#459eb4" fill-rule="evenodd" d="M420.5 128.2L438.0 128.4 445.0 129.4 451.0 131.0 456.0 133.2 460.0 135.8 463.4 139.2 465.8 142.7 468.0 148.7 468.7 154.2 468.7 162.7 467.6 169.7 465.6 176.2 462.5 182.7 458.8 188.2 454.7 192.7 399.2 192.7 395.1 188.2 391.1 182.2 387.3 173.2 386.1 168.7 385.3 162.7 385.5 151.2 386.5 146.7 388.4 142.2 390.9 138.7 393.5 136.2 396.2 134.2 400.5 131.9 409.0 129.4Z"/>
<path fill="#5cb7aa" fill-rule="evenodd" d="M422.5 128.7L438.0 129.1 444.0 130.1 449.0 131.6 453.0 133.4 457.1 136.2 460.5 139.7 463.2 144.2 465.1 150.7 465.5 158.2 465.1 165.2 463.6 171.7 461.4 177.7 458.1 183.7 454.1 188.7 449.9 192.7 403.8 192.7 397.4 186.2 394.1 181.2 392.0 177.2 389.1 168.2 388.1 158.7 388.3 153.7 389.1 148.2 390.5 144.0 392.0 141.2 396.5 136.2 400.1 133.7 403.5 132.0 412.0 129.6Z"/>
<path fill="#74c7a5" fill-rule="evenodd" d="M425.5 129.2L437.5 129.7 442.8 130.7 448.5 132.7 453.5 135.7 456.6 138.7 459.1 142.2 460.9 146.7 462.2 154.2 462.1 161.2 461.2 167.7 459.7 173.2 456.9 179.2 453.7 184.2 449.6 188.7 444.5 192.7 408.9 192.7 403.7 188.7 399.5 184.0 395.1 176.7 392.9 170.7 391.2 161.7 391.4 151.7 393.1 144.7 396.3 139.2 401.3 134.7 407.3 131.7 416.0 129.7Z"/>
<path fill="#8fd2a4" fill-rule="evenodd" d="M419.5 130.2L426.5 129.9 435.0 130.3 441.0 131.5 445.5 133.1 449.9 135.7 453.7 139.2 456.0 142.4 458.0 147.2 459.1 154.2 459.1 161.2 458.2 167.2 455.8 174.7 452.8 180.2 448.0 186.2 443.5 189.9 438.6 192.7 414.4 192.7 412.0 191.5 406.7 187.7 401.6 182.2 398.2 176.7 395.5 169.9 394.0 161.7 393.9 154.2 395.0 147.2 397.2 142.2 400.7 137.7 406.0 133.9 412.5 131.4Z"/>
<path fill="#aadca4" fill-rule="evenodd" d="M425.5 130.7L432.5 130.9 439.0 132.2 445.0 134.7 448.5 137.2 452.1 141.2 454.3 145.2 455.9 151.7 456.2 157.7 455.5 165.7 453.9 171.2 450.9 177.7 447.5 182.4 443.7 186.2 438.0 189.9 433.0 191.8 426.5 192.7 421.5 192.2 415.0 190.0 409.5 186.5 405.1 182.2 401.3 176.7 398.8 171.2 397.3 165.7 396.5 157.7 396.8 151.7 398.1 146.2 400.3 141.7 403.7 137.7 407.7 134.7 413.0 132.4 418.0 131.2Z"/>
<path fill="#c3e79f" fill-rule="evenodd" d="M421.5 131.7L429.5 131.6 434.5 132.2 439.3 133.7 444.0 136.2 447.4 139.2 450.0 142.8 451.9 147.2 453.0 152.2 453.2 158.7 452.4 165.2 450.6 171.2 447.8 176.7 443.5 182.2 439.1 185.7 434.5 188.1 428.5 189.5 423.0 189.4 418.0 188.2 413.0 185.6 409.0 182.4 405.8 178.7 403.0 174.1 400.5 167.7 399.4 162.7 399.1 156.2 399.6 150.2 400.9 145.7 403.3 141.2 407.0 137.2 410.7 134.7 415.8 132.7Z"/>
<path fill="#daf09a" fill-rule="evenodd" d="M421.0 132.7L426.0 132.4 431.5 132.8 436.5 134.2 440.0 135.9 444.0 139.1 446.5 142.2 448.4 145.7 449.9 151.2 450.2 157.7 449.7 163.2 448.2 168.7 445.8 173.7 442.7 178.2 439.0 181.7 435.0 184.2 429.5 186.0 425.5 186.4 421.0 185.8 416.0 183.8 412.1 181.2 408.2 177.2 405.6 173.2 403.2 167.7 402.0 162.7 401.5 157.7 401.7 151.7 402.9 146.7 405.0 142.4 408.0 138.7 411.5 136.0 416.0 133.8Z"/>
<path fill="#ebf7a0" fill-rule="evenodd" d="M421.0 133.6L425.5 133.3 431.0 133.8 435.0 135.0 438.5 137.0 441.6 139.7 444.2 143.2 445.9 146.7 446.9 150.7 447.3 156.2 446.8 162.2 445.4 167.2 443.3 171.7 439.6 176.7 436.5 179.4 432.0 181.9 427.5 183.0 423.5 183.0 419.5 182.0 415.5 180.0 412.5 177.7 409.8 174.7 407.3 170.7 405.2 165.7 404.1 160.7 403.8 156.2 404.2 150.7 405.3 146.7 407.2 142.7 410.0 139.2 413.5 136.4 416.5 134.9Z"/>
<path fill="#f5fbaf" fill-rule="evenodd" d="M425.5 134.2L429.5 134.5 433.9 135.7 437.0 137.4 440.3 140.2 442.5 143.2 444.3 147.2 445.1 150.7 445.4 155.7 445.1 160.2 443.8 165.7 442.0 169.7 439.3 173.7 436.5 176.5 433.0 178.8 429.0 180.3 425.5 180.7 421.5 180.1 418.0 178.8 414.5 176.4 411.8 173.7 409.0 169.5 407.3 165.7 406.0 160.2 405.7 155.7 406.0 150.7 406.8 147.2 408.6 143.2 410.8 140.2 414.0 137.4 417.0 135.8 421.0 134.6Z"/>
<path fill="#fffebe" fill-rule="evenodd" d="M423.5 135.2L427.5 135.2 431.5 135.9 434.6 137.2 437.5 139.2 440.1 142.2 441.8 145.2 443.1 149.2 443.6 152.7 443.6 156.7 442.9 161.7 441.5 166.0 439.5 169.8 437.0 173.0 434.0 175.6 430.5 177.4 427.0 178.2 424.0 178.2 420.0 177.2 417.0 175.5 413.8 172.7 411.5 169.7 409.5 165.7 408.2 161.7 407.6 157.7 407.5 152.7 408.0 149.2 409.3 145.2 411.0 142.2 413.5 139.3 416.5 137.2 419.5 135.9Z"/>
<path fill="#fff2aa" fill-rule="evenodd" d="M423.0 136.1L427.0 136.0 430.0 136.5 433.0 137.6 435.6 139.2 437.7 141.2 439.7 144.2 441.0 147.2 441.8 151.2 441.9 156.2 441.4 159.7 440.2 163.7 438.5 167.3 436.0 170.6 433.5 172.9 430.5 174.6 427.0 175.5 424.0 175.5 420.9 174.7 418.0 173.2 415.1 170.7 413.0 167.9 411.3 164.7 410.1 161.2 409.3 156.7 409.2 152.7 409.7 148.7 410.7 145.7 412.3 142.7 414.3 140.2 416.9 138.2 420.0 136.8Z"/>
<path fill="#fee695" fill-rule="evenodd" d="M422.5 137.1L425.5 136.9 429.0 137.2 432.0 138.2 434.4 139.7 436.5 141.7 438.2 144.2 439.4 147.2 440.1 150.2 440.3 154.7 439.8 158.2 438.7 162.2 437.2 165.2 435.0 168.1 432.6 170.2 430.0 171.7 427.0 172.5 424.0 172.5 421.5 171.8 419.0 170.6 416.5 168.5 414.5 166.1 412.6 162.7 411.0 156.2 411.2 149.2 412.0 146.2 413.2 143.7 415.0 141.2 417.0 139.5 419.5 138.0Z"/>
<path fill="#fed683" fill-rule="evenodd" d="M422.0 138.2L424.5 137.8 428.0 137.9 431.0 138.8 433.0 139.9 436.4 143.7 438.3 148.7 438.6 151.7 438.5 155.7 437.7 159.2 436.7 161.7 434.9 164.7 432.5 167.1 430.5 168.4 427.5 169.4 424.5 169.6 422.5 169.2 420.5 168.3 418.0 166.6 416.2 164.7 414.6 162.2 412.7 156.7 412.4 153.2 412.6 149.7 414.1 144.7 415.7 142.2 417.5 140.4 420.0 138.8Z"/>
<path fill="#fdc372" fill-rule="evenodd" d="M422.5 138.7L428.0 138.6 432.1 140.2 433.9 141.7 435.4 143.7 436.6 146.2 437.2 148.7 437.4 151.7 437.1 155.2 435.2 160.7 433.5 163.2 431.5 165.1 429.5 166.3 427.0 167.1 424.5 167.1 422.5 166.7 418.5 164.3 415.5 160.2 413.8 154.7 413.7 149.2 415.2 144.2 416.6 142.2 418.5 140.5Z"/>
<path fill="#fdad60" fill-rule="evenodd" d="M423.0 139.2L427.9 139.2 431.6 140.7 434.5 143.7 436.1 148.2 435.9 154.2 434.0 159.2 432.5 161.3 430.5 163.1 428.5 164.2 426.5 164.7 424.5 164.8 422.5 164.3 419.0 162.0 416.3 158.2 414.8 153.2 414.7 148.2 416.3 143.7 419.2 140.7Z"/>
<path fill="#f99355" fill-rule="evenodd" d="M425.0 139.7L429.0 140.2 432.4 142.2 434.4 145.2 435.2 149.2 434.5 154.1 432.5 158.1 429.5 160.9 427.5 161.8 425.5 162.1 422.0 161.2 418.9 158.7 416.7 154.7 415.9 150.2 416.3 146.2 418.2 142.7 421.0 140.6Z"/>
<path fill="#f67a49" fill-rule="evenodd" d="M423.5 140.7L427.5 140.5 430.5 141.6 432.8 143.7 434.2 147.2 434.0 151.2 432.5 154.8 430.0 157.5 426.5 159.0 423.5 158.7 421.0 157.2 418.7 154.2 417.5 150.7 417.5 147.2 418.5 144.2 420.5 142.0Z"/>
<path fill="#ee6445" fill-rule="evenodd" d="M425.5 141.2L429.1 141.7 431.0 142.7 433.0 145.7 433.2 147.7 433.0 150.7 431.5 153.4 429.5 155.2 426.5 156.1 424.0 155.8 422.0 154.7 420.0 152.4 419.0 149.7 419.0 146.6 420.0 144.1 422.0 142.2Z"/>
<path fill="#e1504b" fill-rule="evenodd" d="M425.5 146.2L427.5 146.4 428.4 147.7 428.0 149.9 426.5 151.1 425.0 150.8 423.9 149.2 424.0 147.1 424.5 146.5Z"/>
<path fill="#4d65ad" d="M466.4 192.7L459.1 182.1 473.4 185.1ZM461.0 177.7L473.4 180.2 473.4 185.1ZM458.1 191.3L463.1 195.1 461.4 195.2ZM475.3 144.2L468.4 145.0 470.6 141.8ZM379.4 140.8L386.7 138.4 384.5 142.4ZM379.4 140.8L384.5 142.4 379.7 149.1ZM383.1 180.4L386.1 181.7 385.4 185.6ZM382.8 164.2L375.7 154.9 378.8 151.8ZM451.0 126.5L454.6 128.1 453.1 134.0Z"/>
<path fill="#3387bc" d="M459.1 182.1L461.0 177.7 473.4 185.1ZM469.2 148.4L471.6 152.4 469.1 155.4ZM468.4 145.0L469.2 148.4 465.3 145.3ZM468.4 145.0L463.3 142.7 467.1 137.9ZM408.1 127.0L413.1 127.7 414.9 131.3ZM378.8 151.8L383.0 150.1 387.1 151.7ZM386.7 138.4L391.6 145.8 384.5 142.4ZM386.8 162.5L378.8 151.8 387.1 151.7ZM382.4 167.0L382.8 164.2 386.8 162.5ZM454.6 128.1L457.8 133.5 453.1 134.0Z"/>
<path fill="#81cda5" d="M419.8 194.3L414.7 195.9 412.9 191.3ZM408.5 192.4L411.6 187.3 412.9 191.3ZM434.8 191.8L430.8 196.1 427.6 195.4ZM434.3 195.6L430.8 196.1 434.8 191.8ZM450.2 191.4L447.3 182.1 455.7 181.2ZM436.2 193.1L434.3 195.6 434.8 191.8ZM457.8 176.9L455.7 181.2 449.2 170.0ZM450.2 191.4L445.2 185.2 447.3 182.1ZM461.5 163.3L457.8 170.7 455.4 170.1ZM455.2 152.2L458.2 149.5 459.4 151.3ZM459.4 160.2L461.5 163.3 454.2 162.3ZM446.5 138.0L445.1 131.8 447.1 131.9ZM398.4 172.9L392.2 170.5 399.0 167.8Z"/>
<path fill="#74c7a5" d="M414.7 195.9L411.2 195.9 412.9 191.3ZM411.2 195.9L408.5 192.4 412.9 191.3ZM390.9 162.8L395.8 164.3 392.2 170.5ZM390.8 160.8L393.0 157.1 394.6 159.8ZM458.2 149.5L461.1 148.0 459.4 151.3ZM423.0 130.5L418.3 131.1 421.5 127.6ZM396.5 149.0L391.6 145.8 394.2 145.5ZM391.6 145.8L396.5 149.0 389.6 153.3ZM464.1 151.4L459.4 160.2 459.4 151.3ZM449.3 134.4L453.1 134.0 453.3 139.2ZM395.1 177.3L401.0 177.1 397.9 181.6ZM398.4 172.9L393.8 174.3 392.2 170.5Z"/>
<path fill="#3682ba" d="M458.1 191.3L459.1 182.1 466.4 192.7ZM471.6 152.4L471.9 160.5 469.1 155.4ZM469.2 148.4L468.4 145.0 473.5 148.4ZM445.1 131.8L441.1 126.9 444.8 126.5ZM382.4 167.0L387.9 169.5 382.6 174.0ZM387.9 169.5L387.0 178.5 382.6 174.0ZM386.8 162.5L382.8 164.2 378.8 151.8Z"/>
<path fill="#3b7cb7" d="M458.1 191.3L461.4 195.2 455.2 195.8ZM470.6 141.8L468.4 145.0 467.1 137.9ZM390.3 189.2L387.5 185.3 389.3 181.4ZM387.5 185.3L386.1 181.7 389.3 181.4ZM386.1 181.7L387.0 178.5 389.3 181.4Z"/>
<path fill="#4ba4b1" d="M458.1 191.3L455.7 181.2 459.1 182.1ZM450.2 191.4L455.7 181.2 458.1 191.3ZM463.3 142.7L468.4 145.0 465.3 145.3ZM466.3 163.6L468.7 167.1 463.3 170.0ZM398.7 139.0L394.2 145.5 389.4 134.9ZM397.0 133.7L398.7 139.0 389.4 134.9ZM387.9 169.5L386.8 162.5 390.9 162.8ZM387.0 178.5L387.9 169.5 393.8 174.3Z"/>
<path fill="#d3ed9c" d="M413.8 138.3L410.2 138.0 414.9 131.3ZM411.0 175.1L409.9 178.7 407.2 175.2ZM418.3 131.1L420.4 137.3 414.9 131.3ZM450.6 159.6L448.2 158.6 449.2 153.4ZM448.2 158.6L450.6 159.6 447.0 165.7ZM449.2 170.0L444.3 166.2 447.0 165.7ZM439.3 137.6L438.2 133.8 442.7 135.6ZM439.3 137.6L442.7 135.6 443.6 137.7Z"/>
<path fill="#feec9f" d="M422.2 167.5L425.8 169.5 419.9 178.1ZM410.1 164.3L408.3 155.4 416.8 155.8ZM434.5 145.4L440.8 140.6 440.3 147.9Z"/>
<path fill="#c3e79f" d="M439.6 188.2L433.9 178.2 442.4 181.6ZM454.2 162.3L449.2 170.0 447.0 165.7ZM402.4 159.6L394.6 159.8 403.2 156.6ZM450.6 159.6L449.2 153.4 454.1 157.1ZM412.7 184.1L408.5 183.6 409.9 178.7ZM412.7 184.1L417.0 185.0 414.2 188.2ZM438.2 133.8L433.7 135.0 436.1 131.5ZM447.3 182.1L444.2 173.3 449.2 170.0ZM446.5 138.0L447.0 141.2 443.6 137.7ZM442.7 135.6L446.5 138.0 443.6 137.7ZM448.6 148.9L451.6 145.7 454.8 150.1ZM407.7 140.8L402.5 137.3 410.2 138.0ZM409.9 178.7L405.5 181.7 407.2 175.2Z"/>
<path fill="#9cd7a4" d="M414.2 188.2L419.8 194.3 412.9 191.3ZM411.6 187.3L414.2 188.2 412.9 191.3ZM439.6 188.2L436.2 193.1 434.8 191.8ZM455.4 170.1L457.8 176.9 449.2 170.0ZM439.6 188.2L445.2 185.2 443.5 189.0ZM402.4 159.6L395.8 164.3 394.6 159.8ZM457.1 159.5L454.2 162.3 454.1 157.1ZM458.2 149.5L455.2 152.2 454.8 150.1ZM439.9 130.4L438.2 133.8 436.1 131.5ZM395.8 164.3L401.4 167.0 399.0 167.8ZM402.5 137.3L401.5 131.7 410.2 138.0ZM446.5 138.0L449.3 134.4 453.3 139.2Z"/>
<path fill="#97d5a4" d="M414.2 188.2L421.1 192.7 419.8 194.3ZM455.7 181.2L447.3 182.1 449.2 170.0ZM461.5 163.3L455.4 170.1 454.2 162.3ZM457.1 159.5L455.2 152.2 459.4 151.3ZM402.5 137.3L399.7 142.7 398.7 139.0ZM405.5 181.7L408.5 183.6 408.5 192.4Z"/>
<path fill="#4471b2" d="M471.6 152.4L469.2 148.4 473.5 148.4ZM390.3 189.2L396.6 192.3 390.6 195.4ZM387.0 178.5L383.1 180.4 382.6 174.0ZM383.1 180.4L387.0 178.5 386.1 181.7Z"/>
<path fill="#3b92b9" d="M471.9 160.5L466.3 163.6 469.1 155.4ZM461.6 174.9L463.3 170.0 473.4 180.2ZM450.2 191.4L458.1 191.3 455.2 195.8ZM468.7 167.1L466.3 163.6 471.9 160.5ZM413.1 127.7L416.1 126.3 414.9 131.3ZM397.9 181.6L396.6 192.3 390.3 189.2ZM382.4 167.0L386.8 162.5 387.9 169.5ZM423.7 126.3L428.6 127.7 423.0 130.5Z"/>
<path fill="#378ebb" d="M461.6 174.9L473.4 180.2 461.0 177.7ZM463.3 170.0L468.7 167.1 473.4 180.2ZM463.3 142.7L463.5 137.2 467.1 137.9ZM383.0 150.1L384.5 142.4 387.1 151.7ZM436.5 127.8L441.1 126.9 439.9 130.4ZM394.2 145.5L386.7 138.4 389.4 134.9ZM457.8 133.5L461.0 134.8 457.3 138.0Z"/>
<path fill="#56b0ad" d="M459.6 144.6L463.3 142.7 465.3 145.3ZM464.1 151.4L461.1 148.0 465.3 145.3ZM457.8 176.9L461.0 177.7 459.1 182.1ZM461.5 163.3L466.3 163.6 463.3 170.0ZM441.1 126.9L445.1 131.8 439.9 130.4ZM391.6 145.8L389.6 153.3 387.1 151.7ZM391.6 145.8L386.7 138.4 394.2 145.5ZM395.1 177.3L387.0 178.5 393.8 174.3Z"/>
<path fill="#50a9af" d="M450.2 191.4L447.7 194.6 446.8 192.1ZM450.2 191.4L450.7 195.1 447.7 194.6ZM389.6 153.3L386.8 162.5 387.1 151.7ZM386.8 162.5L390.8 160.8 390.9 162.8ZM459.4 160.2L464.1 151.4 469.1 155.4ZM466.3 163.6L459.4 160.2 469.1 155.4ZM457.8 133.5L457.3 138.0 453.1 134.0ZM395.1 177.3L397.9 181.6 389.3 181.4Z"/>
<path fill="#459eb4" d="M450.7 195.1L450.2 191.4 455.2 195.8ZM457.3 138.0L463.5 137.2 463.3 142.7ZM445.1 131.8L444.8 126.5 447.1 131.9ZM399.0 131.6L401.5 131.7 400.9 134.6ZM387.0 178.5L395.1 177.3 389.3 181.4Z"/>
<path fill="#fff8b4" d="M428.6 137.2L430.5 133.8 430.2 138.5ZM411.0 175.1L422.2 167.5 419.9 178.1ZM436.0 167.7L438.4 166.7 438.9 169.5ZM433.7 135.0L435.5 138.2 430.2 138.5Z"/>
<path fill="#fff0a6" d="M428.6 137.2L422.3 138.2 424.1 133.7ZM420.4 137.3L421.0 135.6 422.3 138.2ZM430.1 171.2L429.4 176.5 425.8 169.5ZM439.7 160.8L439.6 153.0 443.2 153.3ZM432.8 169.6L434.2 173.9 430.1 171.2ZM413.6 141.1L416.9 141.6 411.6 146.0Z"/>
<path fill="#bce4a0" d="M436.1 131.5L433.7 135.0 431.3 131.0ZM428.2 182.1L439.6 188.2 434.8 191.8ZM449.2 153.4L455.2 152.2 454.1 157.1ZM401.4 167.0L395.8 164.3 402.4 159.6ZM447.0 141.2L451.6 145.7 447.3 146.5ZM408.5 183.6L405.5 181.7 409.9 178.7ZM398.4 172.9L401.4 167.0 407.2 175.2Z"/>
<path fill="#cfec9d" d="M433.7 135.0L430.5 133.8 431.3 131.0ZM419.6 184.1L428.2 182.1 421.1 192.7ZM411.6 176.4L412.7 184.1 409.9 178.7Z"/>
<path fill="#f8fcb4" d="M430.5 133.8L433.7 135.0 430.2 138.5ZM429.4 176.5L423.7 180.8 419.9 178.1Z"/>
<path fill="#86cfa5" d="M410.2 138.0L408.1 127.0 414.9 131.3ZM434.4 128.6L436.1 131.5 431.3 131.0ZM443.5 189.0L445.2 185.2 446.8 192.1ZM395.8 164.3L390.9 162.8 394.6 159.8ZM445.1 131.8L442.7 135.6 439.9 130.4ZM459.4 160.2L457.1 159.5 459.4 151.3ZM428.6 127.7L426.2 132.0 423.0 130.5ZM449.3 134.4L446.5 138.0 447.1 131.9ZM398.0 145.0L396.5 149.0 394.2 145.5ZM401.0 177.1L405.5 181.7 397.9 181.6ZM398.4 172.9L401.0 177.1 395.1 177.3Z"/>
<path fill="#f06744" d="M420.1 142.1L426.3 146.2 419.2 145.9ZM434.3 149.3L428.8 149.4 430.7 144.3ZM422.6 152.5L425.1 155.5 421.7 155.4Z"/>
<path fill="#fdfebb" d="M422.3 138.2L421.0 135.6 424.1 133.7ZM439.7 160.8L445.2 155.5 444.0 160.3ZM406.0 159.4L408.3 155.4 410.1 164.3ZM440.6 173.2L434.2 173.9 438.9 169.5ZM442.5 163.1L439.7 160.8 444.0 160.3ZM440.8 140.6L442.9 146.0 440.3 147.9ZM407.7 140.8L413.6 141.1 411.6 146.0ZM444.3 166.2L438.4 166.7 442.5 163.1Z"/>
<path fill="#eef8a4" d="M423.7 180.8L419.6 184.1 419.9 178.1ZM420.4 137.3L413.8 138.3 414.9 131.3ZM449.2 153.4L445.2 155.5 443.2 153.3ZM420.4 137.3L418.3 131.1 421.0 135.6ZM442.5 163.1L444.0 160.3 447.0 165.7ZM445.2 155.5L448.2 158.6 444.0 160.3ZM413.6 141.1L407.7 140.8 410.2 138.0ZM444.3 166.2L442.5 163.1 447.0 165.7Z"/>
<path fill="#fee695" d="M430.1 171.2L425.8 169.5 430.5 167.0ZM411.6 146.0L416.1 152.5 408.3 155.4Z"/>
<path fill="#fed07e" d="M418.9 159.0L410.1 164.3 416.8 155.8ZM425.8 169.5L426.3 166.7 430.5 167.0ZM426.3 166.7L425.8 169.5 422.2 167.5ZM428.5 140.9L428.6 137.2 430.2 138.5ZM439.7 160.8L432.1 163.0 436.7 156.0ZM432.1 163.0L436.0 167.7 430.5 167.0Z"/>
<path fill="#fdc776" d="M410.1 164.3L418.9 159.0 422.2 167.5ZM428.6 137.2L428.5 140.9 422.3 138.2ZM420.1 142.1L420.4 137.3 422.3 138.2ZM434.7 155.3L439.6 153.0 436.7 156.0ZM434.3 149.3L434.5 145.4 440.3 147.9Z"/>
<path fill="#8fd2a4" d="M441.3 192.5L439.6 188.2 443.5 189.0ZM441.3 192.5L436.2 193.1 439.6 188.2ZM408.5 192.4L408.5 183.6 411.6 187.3ZM392.2 170.5L395.8 164.3 399.0 167.8ZM455.7 145.7L458.2 149.5 454.8 150.1ZM457.1 159.5L459.4 160.2 454.2 162.3ZM426.2 132.0L428.6 127.7 431.3 131.0ZM399.7 142.7L398.0 145.0 398.7 139.0Z"/>
<path fill="#79c9a5" d="M441.3 192.5L443.5 189.0 446.8 192.1ZM445.2 185.2L450.2 191.4 446.8 192.1ZM389.6 153.3L396.5 149.0 393.0 157.1ZM455.4 170.1L457.8 170.7 457.8 176.9ZM458.2 149.5L455.7 145.7 459.6 144.6ZM455.7 145.7L457.3 138.0 459.6 144.6ZM457.3 138.0L455.7 145.7 453.3 139.2ZM402.5 137.3L398.7 139.0 400.9 134.6ZM398.7 139.0L398.0 145.0 394.2 145.5Z"/>
<path fill="#c8e99e" d="M417.0 185.0L419.6 184.1 421.1 192.7ZM448.6 148.9L454.8 150.1 449.2 153.4ZM450.6 159.6L454.2 162.3 447.0 165.7ZM396.5 149.0L401.8 149.5 403.2 156.6ZM418.3 131.1L423.0 130.5 421.0 135.6ZM451.6 145.7L448.6 148.9 447.3 146.5ZM423.0 130.5L426.2 132.0 424.1 133.7ZM430.5 133.8L426.2 132.0 431.3 131.0ZM399.7 142.7L407.7 140.8 401.8 149.5Z"/>
<path fill="#b1dfa3" d="M414.2 188.2L417.0 185.0 421.1 192.7ZM454.2 162.3L455.4 170.1 449.2 170.0ZM428.2 182.1L434.8 191.8 427.6 195.4ZM412.7 184.1L414.2 188.2 411.6 187.3ZM451.6 145.7L447.0 141.2 453.3 139.2ZM396.5 149.0L398.0 145.0 401.8 149.5ZM405.5 181.7L401.0 177.1 407.2 175.2ZM401.0 177.1L398.4 172.9 407.2 175.2Z"/>
<path fill="#dff299" d="M419.6 184.1L417.0 185.0 419.9 178.1ZM401.8 149.5L408.3 155.4 403.2 156.6ZM411.0 175.1L411.6 176.4 409.9 178.7ZM406.2 167.2L411.0 175.1 407.2 175.2ZM406.0 159.4L402.4 159.6 403.2 156.6ZM442.9 146.0L447.0 141.2 447.3 146.5ZM421.0 135.6L423.0 130.5 424.1 133.7ZM406.2 167.2L401.4 167.0 402.4 159.6ZM440.8 140.6L447.0 141.2 442.9 146.0ZM444.2 173.3L444.3 166.2 449.2 170.0Z"/>
<path fill="#fff6b0" d="M411.0 175.1L410.1 164.3 422.2 167.5ZM425.8 169.5L429.4 176.5 419.9 178.1ZM436.0 167.7L434.2 173.9 432.8 169.6ZM416.9 141.6L413.6 141.1 413.8 138.3ZM442.5 163.1L438.4 166.7 439.7 160.8Z"/>
<path fill="#aadca4" d="M394.6 159.8L393.0 157.1 403.2 156.6ZM445.2 185.2L439.6 188.2 442.4 181.6ZM408.5 183.6L412.7 184.1 411.6 187.3ZM393.0 157.1L396.5 149.0 403.2 156.6ZM442.7 135.6L438.2 133.8 439.9 130.4ZM445.1 131.8L446.5 138.0 442.7 135.6ZM447.0 141.2L446.5 138.0 453.3 139.2ZM401.4 167.0L398.4 172.9 399.0 167.8Z"/>
<path fill="#60bba8" d="M461.1 148.0L459.6 144.6 465.3 145.3ZM398.7 139.0L397.0 133.7 400.9 134.6ZM457.8 170.7L461.5 163.3 463.3 170.0ZM461.6 174.9L457.8 170.7 463.3 170.0ZM459.6 144.6L457.3 138.0 463.3 142.7ZM461.5 163.3L459.4 160.2 466.3 163.6ZM428.6 127.7L434.4 128.6 431.3 131.0Z"/>
<path fill="#66c2a5" d="M461.1 148.0L464.1 151.4 459.4 151.3ZM455.7 181.2L457.8 176.9 459.1 182.1ZM457.8 176.9L457.8 170.7 461.6 174.9ZM461.1 148.0L458.2 149.5 459.6 144.6ZM416.1 126.3L418.3 131.1 414.9 131.3ZM401.5 131.7L402.5 137.3 400.9 134.6ZM405.5 181.7L396.6 192.3 397.9 181.6ZM453.1 134.0L449.3 134.4 447.1 131.9ZM398.4 172.9L395.1 177.3 393.8 174.3Z"/>
<path fill="#4199b6" d="M464.1 151.4L469.2 148.4 469.1 155.4ZM469.2 148.4L464.1 151.4 465.3 145.3ZM457.3 138.0L461.0 134.8 463.5 137.2ZM384.5 142.4L391.6 145.8 387.1 151.7ZM397.9 181.6L390.3 189.2 389.3 181.4ZM418.3 131.1L416.1 126.3 421.5 127.6ZM451.0 126.5L453.1 134.0 447.1 131.9ZM397.0 133.7L399.0 131.6 400.9 134.6ZM423.7 126.3L423.0 130.5 421.5 127.6Z"/>
<path fill="#5cb7aa" d="M457.8 176.9L461.6 174.9 461.0 177.7ZM434.4 128.6L436.5 127.8 436.1 131.5ZM387.9 169.5L390.9 162.8 392.2 170.5ZM393.8 174.3L387.9 169.5 392.2 170.5ZM390.8 160.8L386.8 162.5 389.6 153.3ZM396.6 192.3L405.5 181.7 403.0 195.0Z"/>
<path fill="#a4daa4" d="M447.3 182.1L445.2 185.2 442.4 181.6ZM455.2 152.2L457.1 159.5 454.1 157.1ZM455.7 145.7L451.6 145.7 453.3 139.2ZM451.6 145.7L455.7 145.7 454.8 150.1Z"/>
<path fill="#496aaf" d="M463.5 137.2L465.9 135.0 467.1 137.9ZM383.0 150.1L378.8 151.8 379.7 149.1ZM386.1 181.7L387.5 185.3 385.4 185.6ZM444.8 126.5L451.0 126.5 447.1 131.9ZM385.8 188.9L387.5 185.3 390.3 189.2ZM382.8 164.2L382.4 167.0 375.4 162.1Z"/>
<path fill="#fdbd6d" d="M434.3 140.6L428.5 140.9 430.2 138.5ZM423.0 158.8L426.3 166.7 422.2 167.5ZM429.1 162.3L432.1 163.0 430.5 167.0Z"/>
<path fill="#f98e52" d="M428.5 140.9L420.1 142.1 422.3 138.2ZM421.7 155.4L423.0 158.8 418.9 159.0Z"/>
<path fill="#ee6445" d="M420.1 142.1L428.5 140.9 426.3 146.2ZM428.5 140.9L430.7 144.3 426.3 146.2ZM426.3 146.2L420.1 148.4 419.2 145.9ZM430.2 154.9L428.0 152.3 430.0 152.9ZM425.1 155.5L428.0 152.3 430.2 154.9ZM422.6 152.5L420.1 148.4 426.6 149.1Z"/>
<path fill="#6bc4a5" d="M436.5 127.8L439.9 130.4 436.1 131.5ZM390.9 162.8L390.8 160.8 394.6 159.8ZM390.8 160.8L389.6 153.3 393.0 157.1ZM453.1 134.0L457.3 138.0 453.3 139.2ZM401.5 131.7L408.1 127.0 410.2 138.0ZM403.0 195.0L405.5 181.7 408.5 192.4Z"/>
<path fill="#4175b4" d="M384.5 142.4L383.0 150.1 379.7 149.1ZM463.5 137.2L461.0 134.8 465.9 135.0ZM457.8 133.5L459.1 130.5 461.0 134.8ZM397.5 128.1L399.0 131.6 397.0 133.7ZM399.0 131.6L397.5 128.1 401.5 131.7Z"/>
<path fill="#fee28f" d="M432.8 169.6L430.1 171.2 430.5 167.0ZM439.6 153.0L439.7 160.8 436.7 156.0ZM439.7 160.8L438.4 166.7 432.1 163.0Z"/>
<path fill="#daf09a" d="M439.6 188.2L428.2 182.1 433.9 178.2ZM417.0 185.0L412.7 184.1 419.9 178.1ZM440.6 173.2L444.2 173.3 442.4 181.6ZM401.4 167.0L406.2 167.2 407.2 175.2ZM447.0 141.2L440.8 140.6 443.6 137.7Z"/>
<path fill="#b5e1a2" d="M421.1 192.7L428.2 182.1 427.6 195.4ZM454.2 162.3L450.6 159.6 454.1 157.1ZM454.8 150.1L455.2 152.2 449.2 153.4ZM444.2 173.3L447.3 182.1 442.4 181.6ZM399.7 142.7L402.5 137.3 407.7 140.8ZM398.0 145.0L399.7 142.7 401.8 149.5Z"/>
<path fill="#e6f598" d="M423.7 180.8L428.2 182.1 419.6 184.1ZM448.6 148.9L449.2 153.4 443.2 153.3ZM448.6 148.9L442.9 146.0 447.3 146.5ZM412.7 184.1L411.6 176.4 419.9 178.1ZM448.2 158.6L445.2 155.5 449.2 153.4ZM440.8 140.6L439.3 137.6 443.6 137.7ZM439.3 137.6L435.5 138.2 438.2 133.8Z"/>
<path fill="#f3faac" d="M429.4 176.5L428.2 182.1 423.7 180.8ZM428.2 182.1L429.4 176.5 433.9 178.2ZM441.3 169.8L440.6 173.2 438.9 169.5ZM442.9 146.0L448.6 148.9 443.2 153.3ZM406.2 167.2L406.0 159.4 410.1 164.3ZM408.3 155.4L406.0 159.4 403.2 156.6ZM426.2 132.0L428.6 137.2 424.1 133.7ZM413.6 141.1L410.2 138.0 413.8 138.3ZM435.5 138.2L439.3 137.6 440.8 140.6Z"/>
<path fill="#fca85e" d="M418.9 159.0L423.0 158.8 422.2 167.5Z"/>
<path fill="#f99355" d="M426.3 166.7L423.0 158.8 426.9 159.6ZM421.7 155.4L418.9 159.0 416.8 155.8Z"/>
<path fill="#fba05b" d="M429.1 162.3L426.3 166.7 426.9 159.6ZM429.1 162.3L430.2 154.9 432.1 163.0ZM416.1 152.5L411.6 146.0 419.2 145.9ZM430.2 154.9L434.7 155.3 432.1 163.0Z"/>
<path fill="#fdc372" d="M426.3 166.7L429.1 162.3 430.5 167.0ZM416.9 141.6L420.4 137.3 420.1 142.1Z"/>
<path fill="#e8f69b" d="M433.9 178.2L440.6 173.2 442.4 181.6ZM444.0 160.3L448.2 158.6 447.0 165.7ZM444.3 166.2L444.2 173.3 441.3 169.8Z"/>
<path fill="#fffcba" d="M445.2 155.5L439.7 160.8 443.2 153.3Z"/>
<path fill="#fff2aa" d="M439.6 153.0L440.3 147.9 443.2 153.3ZM434.2 173.9L429.4 176.5 430.1 171.2ZM420.4 137.3L416.9 141.6 413.8 138.3Z"/>
<path fill="#ffffbe" d="M440.3 147.9L442.9 146.0 443.2 153.3ZM429.4 176.5L434.2 173.9 433.9 178.2ZM434.2 173.9L436.0 167.7 438.9 169.5ZM438.4 166.7L441.3 169.8 438.9 169.5ZM435.5 138.2L440.8 140.6 434.3 140.6Z"/>
<path fill="#f0f9a7" d="M411.6 176.4L411.0 175.1 419.9 178.1ZM428.6 137.2L426.2 132.0 430.5 133.8Z"/>
<path fill="#f5fbaf" d="M411.6 146.0L408.3 155.4 401.8 149.5ZM411.0 175.1L406.2 167.2 410.1 164.3ZM434.2 173.9L440.6 173.2 433.9 178.2Z"/>
<path fill="#ebf7a0" d="M406.0 159.4L406.2 167.2 402.4 159.6ZM407.7 140.8L411.6 146.0 401.8 149.5ZM444.2 173.3L440.6 173.2 441.3 169.8ZM438.2 133.8L435.5 138.2 433.7 135.0Z"/>
<path fill="#f67f4b" d="M430.2 154.9L429.1 162.3 426.9 159.6ZM434.3 149.3L434.7 155.3 430.0 152.9ZM420.1 148.4L416.1 152.5 419.2 145.9ZM418.0 153.6L421.7 155.4 416.8 155.8Z"/>
<path fill="#f8864f" d="M430.7 144.3L428.5 140.9 434.3 140.6ZM416.9 141.6L420.1 142.1 419.2 145.9ZM416.1 152.5L420.1 148.4 418.0 153.6Z"/>
<path fill="#feea9b" d="M436.0 167.7L432.8 169.6 430.5 167.0ZM438.4 166.7L436.0 167.7 432.1 163.0ZM440.8 140.6L434.5 145.4 434.3 140.6ZM435.5 138.2L434.3 140.6 430.2 138.5Z"/>
<path fill="#feda86" d="M439.6 153.0L434.3 149.3 440.3 147.9Z"/>
<path fill="#525fa9" d="M387.5 191.7L390.3 189.2 390.6 195.4ZM468.4 145.0L475.3 144.2 473.5 148.4ZM382.4 167.0L382.6 174.0 376.3 177.2ZM387.5 185.3L385.8 188.9 385.4 185.6ZM387.5 191.7L385.8 188.9 390.3 189.2Z"/>
<path fill="#fa9b58" d="M416.1 152.5L418.0 153.6 416.8 155.8ZM434.5 145.4L430.7 144.3 434.3 140.6Z"/>
<path fill="#fecc7b" d="M408.3 155.4L416.1 152.5 416.8 155.8Z"/>
<path fill="#fdb365" d="M411.6 146.0L416.9 141.6 419.2 145.9ZM432.1 163.0L434.7 155.3 436.7 156.0Z"/>
<path fill="#f67a49" d="M434.7 155.3L430.2 154.9 430.0 152.9ZM425.1 155.5L430.2 154.9 426.9 159.6ZM423.0 158.8L425.1 155.5 426.9 159.6Z"/>
<path fill="#fdb768" d="M434.7 155.3L434.3 149.3 439.6 153.0Z"/>
<path fill="#ea5e47" d="M426.6 149.1L420.1 148.4 426.3 146.2ZM428.0 152.3L428.8 149.4 430.0 152.9ZM422.6 152.5L428.0 152.3 425.1 155.5Z"/>
<path fill="#fafdb7" d="M438.4 166.7L444.3 166.2 441.3 169.8Z"/>
<path fill="#f46d43" d="M434.5 145.4L434.3 149.3 430.7 144.3ZM428.8 149.4L434.3 149.3 430.0 152.9ZM420.1 148.4L422.6 152.5 418.0 153.6ZM422.6 152.5L421.7 155.4 418.0 153.6Z"/>
<path fill="#e1504b" d="M428.8 149.4L426.6 149.1 426.3 146.2Z"/>
<path fill="#e75948" d="M430.7 144.3L428.8 149.4 426.3 146.2ZM428.8 149.4L428.0 152.3 426.6 149.1Z"/>
<path fill="#f57245" d="M421.7 155.4L425.1 155.5 423.0 158.8Z"/>
<path fill="#e45549" d="M428.0 152.3L422.6 152.5 426.6 149.1Z"/>
</g>
<rect x="418.81" y="139.66" width="14.97" height="37.43" fill="none" stroke="#6cbfa6" stroke-width="1.1"/>
<rect x="314" y="117.2" width="224.6" height="74.87" fill="none" stroke="#111" stroke-width="0.75"/>
<circle cx="426.4" cy="117.6" r="2.15" fill="none" stroke="#f51010" stroke-width="2.1"/>
<text x="314" y="201.77" text-anchor="middle" class="tk">−1500</text>
<text x="351.43" y="201.77" text-anchor="middle" class="tk">−1000</text>
<text x="388.87" y="201.77" text-anchor="middle" class="tk">−500</text>
<text x="426.3" y="201.77" text-anchor="middle" class="tk">0</text>
<text x="463.73" y="201.77" text-anchor="middle" class="tk">500</text>
<text x="501.17" y="201.77" text-anchor="middle" class="tk">1000</text>
<text x="538.6" y="201.77" text-anchor="middle" class="tk">1500</text>
<text x="309.1" y="119.9" text-anchor="end" class="tk">0</text>
<text x="309.1" y="134.87" text-anchor="end" class="tk">−200</text>
<text x="309.1" y="149.85" text-anchor="end" class="tk">−400</text>
<text x="309.1" y="164.82" text-anchor="end" class="tk">−600</text>
<text x="309.1" y="179.79" text-anchor="end" class="tk">−800</text>
<text x="309.1" y="194.77" text-anchor="end" class="tk">−1000</text>
<path d="M314 192.07v2.4 M351.43 192.07v2.4 M388.87 192.07v2.4 M426.3 192.07v2.4 M463.73 192.07v2.4 M501.17 192.07v2.4 M538.6 192.07v2.4 M314 117.2h-2.4 M314 132.17h-2.4 M314 147.15h-2.4 M314 162.12h-2.4 M314 177.09h-2.4 M314 192.07h-2.4" stroke="#222" stroke-width="0.6" fill="none"/>
<text x="426.3" y="211.27" text-anchor="middle" class="al">x (m)</text>
<text transform="translate(281.5,154.63) rotate(-90)" text-anchor="middle" class="al">z (m)</text>
<text x="322" y="176.7" class="an">y = 0 m</text>
<text x="315.9" y="111.8" class="ti tb">(d)</text>
<g clip-path="url(#cpe)">
<rect x="42" y="218.2" width="224.6" height="89.84" fill="#5e4fa2"/>
<path fill="#525fa9" fill-rule="evenodd" d="M152.0 234.7L156.0 234.7 156.5 235.1 169.0 235.2 169.5 235.6 174.5 235.7 175.0 236.1 179.0 236.2 179.5 236.6 182.0 236.7 182.5 237.1 185.0 237.2 185.5 237.6 190.0 238.2 190.5 238.6 194.0 239.2 196.0 240.1 197.5 240.2 201.0 241.6 202.0 241.7 211.5 246.2 214.5 248.2 216.0 249.6 216.5 249.7 221.0 254.2 223.5 258.2 223.6 259.2 224.5 260.7 224.5 262.2 225.0 262.7 225.0 271.7 224.6 272.2 224.5 274.2 224.1 274.7 223.5 277.7 220.5 283.2 215.5 288.7 211.0 292.7 208.0 294.3 207.0 295.2 197.5 299.7 196.5 299.8 193.5 301.2 192.0 301.3 190.0 302.2 184.5 303.3 184.0 303.7 182.0 303.8 181.5 304.2 175.5 304.8 175.0 305.2 171.5 305.3 171.0 305.7 161.0 306.2 143.0 306.2 142.5 305.8 137.0 305.7 136.5 305.3 132.5 305.2 132.0 304.8 129.0 304.7 128.5 304.3 126.5 304.2 126.0 303.8 124.0 303.7 123.5 303.3 118.0 302.2 116.0 301.3 114.5 301.2 111.5 299.8 109.0 299.2 106.5 297.8 105.5 297.7 100.0 294.7 95.5 291.7 93.0 289.2 92.5 289.2 88.0 284.2 86.4 281.2 85.5 280.2 85.4 279.2 84.0 276.7 83.4 273.2 83.0 272.7 82.9 268.7 82.5 268.2 82.5 266.2 82.9 265.7 83.0 262.2 83.4 261.7 83.5 260.2 85.5 256.2 86.5 254.7 92.0 249.2 92.5 249.1 95.5 246.7 103.5 242.7 104.5 242.6 106.0 241.7 107.0 241.6 112.0 239.7 117.5 238.6 118.0 238.2 119.5 238.1 120.0 237.7 122.5 237.6 123.0 237.2 125.0 237.1 125.5 236.7 128.5 236.6 129.0 236.2 132.5 236.1 133.0 235.7 138.5 235.6 139.0 235.2 151.5 235.1Z"/>
<path fill="#496aaf" fill-rule="evenodd" d="M143.0 237.2L161.0 237.0 171.5 237.6 181.0 238.8 190.0 240.7 197.0 242.7 202.0 244.6 208.4 247.7 213.4 251.2 216.1 253.7 219.2 257.7 220.9 261.7 221.6 266.7 221.4 271.2 220.2 276.2 218.1 280.7 214.4 285.7 210.6 289.2 204.8 293.2 197.0 297.0 190.0 299.4 181.0 301.6 171.5 303.0 161.0 303.8 147.5 303.8 140.5 303.4 130.0 302.2 120.0 300.0 113.5 298.0 105.8 294.7 99.5 290.9 94.0 286.3 91.4 283.2 88.6 278.7 87.1 274.7 86.3 270.2 86.4 264.2 87.1 261.2 88.7 257.7 92.0 253.4 96.4 249.7 99.5 247.7 106.0 244.5 111.0 242.6 118.0 240.6 126.5 238.9Z"/>
<path fill="#4175b4" fill-rule="evenodd" d="M151.0 239.2L160.5 239.3 171.0 239.9 185.0 242.0 197.0 245.4 203.4 248.2 206.9 250.2 211.5 253.7 213.5 255.8 216.4 260.2 217.5 263.7 217.9 267.7 217.2 273.7 216.0 277.2 213.5 281.7 209.4 286.2 204.0 290.3 197.0 294.0 190.5 296.4 185.0 298.0 175.0 300.0 165.5 301.0 154.0 301.3 142.0 301.0 133.0 300.0 125.0 298.5 117.5 296.5 110.5 293.8 104.0 290.3 98.5 286.2 94.4 281.7 91.6 276.7 90.6 273.7 90.0 269.2 90.1 264.7 91.5 260.2 92.9 257.7 96.0 254.1 98.8 251.7 103.5 248.7 107.5 246.7 114.3 244.2 119.7 242.7 134.0 240.2Z"/>
<path fill="#3682ba" fill-rule="evenodd" d="M143.5 241.7L160.0 241.5 175.5 242.7 189.0 245.6 195.5 247.8 199.6 249.7 204.0 252.3 207.2 254.7 210.5 258.2 212.5 261.7 213.6 265.7 213.7 270.2 212.8 275.2 211.5 278.2 208.5 282.7 205.0 286.1 201.5 288.7 195.5 292.1 189.0 294.6 181.5 296.7 173.5 298.2 164.5 299.1 154.0 299.4 144.0 299.1 135.0 298.2 127.0 296.8 119.4 294.7 112.5 291.9 107.0 288.9 102.0 285.0 99.0 281.7 96.7 278.2 95.3 274.7 94.5 270.2 94.5 266.2 95.2 263.2 96.5 260.2 99.5 256.2 102.9 253.2 106.8 250.7 116.0 246.6 127.5 243.6 135.0 242.5Z"/>
<path fill="#378ebb" fill-rule="evenodd" d="M151.0 243.7L167.8 244.2 178.8 245.7 185.3 247.2 191.5 249.2 199.6 253.2 203.0 255.7 206.0 258.7 208.0 261.8 209.0 264.2 209.5 266.7 209.5 272.1 208.5 276.1 207.0 279.2 204.0 283.1 199.9 286.7 195.0 289.7 189.4 292.2 185.0 293.7 176.7 295.7 170.0 296.7 159.5 297.4 149.0 297.4 138.5 296.7 131.9 295.7 123.6 293.7 116.8 291.2 111.0 288.2 106.3 284.7 103.0 281.2 101.0 278.1 99.5 274.2 99.0 270.9 99.1 266.7 100.0 263.1 101.5 260.2 103.0 258.2 106.2 255.2 109.0 253.2 113.6 250.7 123.3 247.2 136.0 244.7Z"/>
<path fill="#4199b6" fill-rule="evenodd" d="M151.0 246.7L164.5 247.0 176.5 248.7 186.7 251.7 190.5 253.4 194.3 255.7 196.9 257.7 199.7 260.7 201.2 263.2 202.3 266.2 202.7 269.7 202.5 272.7 201.6 275.7 199.8 279.2 196.8 282.7 193.0 285.7 188.0 288.5 184.0 290.2 173.0 293.1 166.5 294.0 158.5 294.5 149.5 294.5 142.0 294.0 135.5 293.1 129.0 291.6 123.3 289.7 118.0 287.2 114.0 284.6 110.4 281.2 107.9 277.7 106.6 274.7 106.0 271.2 106.0 267.7 106.5 265.2 107.6 262.7 109.7 259.7 112.0 257.4 118.5 253.2 128.0 249.7 138.5 247.6Z"/>
<path fill="#4ba4b1" fill-rule="evenodd" d="M150.5 249.7L162.5 249.9 172.5 251.3 181.0 253.7 187.9 257.2 192.5 261.3 194.5 264.2 195.4 266.7 195.7 269.7 195.5 272.7 194.8 275.2 193.5 277.7 191.1 280.7 188.2 283.2 181.0 287.2 176.0 288.9 169.5 290.4 158.5 291.5 144.5 291.1 133.3 289.2 124.5 285.9 120.5 283.5 117.2 280.7 114.8 277.7 113.6 275.2 112.9 272.7 112.6 269.7 113.0 266.7 113.9 264.2 117.3 259.7 122.5 255.9 130.0 252.8 139.0 250.7Z"/>
<path fill="#56b0ad" fill-rule="evenodd" d="M150.5 252.7L160.5 252.9 170.1 254.2 178.0 256.7 182.5 259.2 185.0 261.2 187.0 263.7 188.5 267.5 188.5 272.4 188.0 274.3 186.5 277.3 184.0 280.2 181.5 282.2 175.6 285.2 170.9 286.7 166.1 287.7 157.5 288.4 145.8 288.2 136.9 286.7 132.3 285.2 128.0 283.2 125.0 281.2 122.9 279.2 121.5 277.6 120.0 274.7 119.2 269.7 120.0 265.2 121.5 262.7 122.9 261.2 126.9 258.2 133.9 255.2 140.2 253.7Z"/>
<path fill="#60bba8" fill-rule="evenodd" d="M150.0 257.2L156.0 257.2 163.9 258.2 168.8 259.7 172.5 261.7 175.2 264.2 176.7 267.7 176.4 272.2 174.6 275.7 171.5 278.7 167.9 280.7 163.4 282.2 156.8 283.2 148.8 283.2 142.5 282.3 137.7 280.7 133.5 278.2 130.6 275.2 129.1 271.7 128.9 267.7 130.4 264.2 133.1 261.7 138.0 259.3 144.4 257.7Z"/>
<path fill="#6bc4a5" fill-rule="evenodd" d="M150.0 264.7L158.0 264.8 164.0 265.9 168.5 268.0 169.2 268.7 169.1 270.2 167.5 272.3 163.5 274.4 158.5 275.5 153.0 275.8 147.5 275.6 143.0 274.7 139.0 273.0 136.7 270.7 136.4 268.7 139.5 266.7 144.0 265.4Z"/>
<path fill="#496aaf" d="M83.8 259.0L90.1 263.7 89.7 272.7ZM136.8 301.4L139.8 299.1 138.4 305.8ZM149.5 306.1L145.6 297.8 152.1 303.5ZM220.7 268.1L217.1 272.4 217.9 264.3ZM128.8 238.2L127.3 244.2 119.1 239.4ZM96.6 289.5L102.3 286.1 101.3 295.1ZM118.9 294.4L117.0 301.8 114.4 298.3ZM213.0 256.8L209.6 251.2 215.5 252.7ZM118.1 242.8L114.1 242.7 119.1 239.4ZM101.3 295.1L106.2 289.2 106.5 294.4ZM93.5 275.8L89.6 285.6 89.7 272.7ZM93.9 282.1L89.6 285.6 93.5 275.8ZM99.0 286.4L96.6 289.5 93.9 282.1ZM223.0 271.3L217.1 272.4 220.7 268.1ZM184.6 238.8L181.8 247.4 176.3 235.5ZM223.0 271.3L219.4 275.4 217.1 272.4ZM166.9 235.6L166.3 241.8 161.0 235.4ZM155.2 235.8L157.6 238.2 153.8 239.9ZM161.0 243.7L157.6 238.2 161.0 235.4ZM189.5 240.2L186.0 243.3 184.6 238.8Z"/>
<path fill="#4175b4" d="M90.1 263.7L94.2 271.3 89.7 272.7ZM94.2 271.3L93.5 275.8 89.7 272.7ZM177.3 297.3L172.2 303.0 167.9 297.3ZM103.9 246.6L114.1 242.7 112.5 251.9ZM96.4 251.8L103.9 246.6 104.0 254.6ZM160.6 302.0L156.7 302.3 160.0 297.3ZM211.0 279.9L211.2 278.0 217.9 281.9ZM217.1 272.4L208.9 261.3 217.9 264.3ZM151.0 241.9L147.8 238.2 153.8 239.9ZM96.4 251.8L101.8 260.9 92.9 258.9ZM128.8 238.2L133.1 242.8 127.3 244.2ZM134.2 298.2L139.8 299.1 136.8 301.4ZM117.0 301.8L118.9 294.4 126.1 293.5ZM207.3 246.7L204.3 252.7 201.8 252.4ZM213.0 256.8L207.1 256.0 209.6 251.2ZM197.7 289.6L198.9 292.4 194.8 293.5ZM197.7 289.6L202.5 289.8 198.9 292.4ZM193.5 248.6L199.7 243.6 201.8 252.4ZM118.1 242.8L117.9 252.5 114.1 242.7ZM94.2 264.2L90.1 263.7 92.9 258.9ZM94.2 264.2L94.2 271.3 90.1 263.7ZM133.1 242.8L137.8 238.6 137.1 243.9ZM181.8 247.4L169.7 241.7 176.3 235.5ZM186.0 243.3L181.8 247.4 184.6 238.8ZM157.6 238.2L157.5 242.4 153.8 239.9ZM166.3 241.8L161.0 243.7 161.0 235.4ZM189.5 240.2L186.5 246.8 186.0 243.3Z"/>
<path fill="#4471b2" d="M90.1 263.7L88.0 260.7 92.9 258.9ZM190.4 301.9L184.5 295.2 194.8 293.5ZM172.2 303.0L165.0 302.9 167.9 297.3ZM164.4 297.0L165.0 302.9 160.6 302.0ZM220.7 268.1L217.9 264.3 218.8 261.2ZM177.3 297.3L184.5 295.2 186.3 302.4ZM139.8 299.1L145.6 297.8 138.4 305.8ZM154.6 296.8L156.7 302.3 152.1 303.5ZM199.7 243.6L207.3 246.7 201.8 252.4ZM210.8 285.1L211.0 279.9 217.9 281.9ZM202.5 289.8L210.8 285.1 203.7 292.7ZM198.9 292.4L202.5 289.8 203.7 292.7ZM209.6 251.2L204.3 252.7 207.3 246.7ZM213.0 256.8L215.5 252.7 218.8 261.2ZM217.9 264.3L213.0 256.8 218.8 261.2ZM127.3 244.2L118.1 242.8 119.1 239.4ZM137.8 238.6L143.5 238.1 137.1 243.9ZM128.8 238.2L137.8 238.6 133.1 242.8ZM102.3 286.1L106.2 289.2 101.3 295.1ZM96.6 289.5L99.0 286.4 102.3 286.1ZM130.9 301.8L134.2 298.2 136.8 301.4ZM193.5 248.6L194.6 244.1 199.7 243.6ZM130.9 301.8L130.5 298.3 134.2 298.2ZM126.1 293.5L130.5 298.3 119.9 305.8ZM211.2 278.0L219.4 275.4 217.9 281.9ZM217.1 272.4L219.4 275.4 211.2 278.0ZM166.3 241.8L166.9 235.6 169.7 241.7ZM106.2 289.2L113.0 294.1 106.5 294.4ZM113.0 294.1L118.9 294.4 114.4 298.3ZM186.5 246.8L189.5 240.2 194.6 244.1Z"/>
<path fill="#4d65ad" d="M88.0 260.7L90.1 263.7 83.8 259.0ZM92.9 258.9L88.0 260.7 89.7 247.6ZM184.5 295.2L190.4 301.9 186.3 302.4ZM165.0 302.9L158.9 307.9 160.6 302.0ZM224.4 259.0L220.7 268.1 218.8 261.2ZM198.9 292.4L201.8 302.8 194.8 293.5ZM181.8 306.4L177.3 297.3 186.3 302.4ZM177.3 297.3L173.1 305.3 172.2 303.0ZM147.8 238.2L143.5 238.1 147.9 234.0ZM96.4 251.8L92.9 258.9 89.7 247.6ZM103.9 246.6L96.4 251.8 102.9 243.2ZM145.6 297.8L149.5 306.1 138.4 305.8ZM156.7 302.3L154.2 307.5 152.1 303.5ZM158.9 307.9L156.7 302.3 160.6 302.0ZM147.8 238.2L151.0 233.4 153.8 239.9ZM117.0 301.8L126.1 293.5 119.9 305.8ZM211.3 248.0L209.6 251.2 207.3 246.7ZM209.6 251.2L211.3 248.0 215.5 252.7ZM96.6 289.5L89.6 285.6 93.9 282.1ZM133.2 305.5L130.9 301.8 136.8 301.4ZM199.7 243.6L194.6 244.1 192.3 238.9ZM137.8 238.6L140.9 235.4 143.5 238.1ZM130.5 298.3L130.9 301.8 119.9 305.8ZM219.4 275.4L223.0 271.3 221.6 279.8ZM219.4 275.4L221.6 279.8 217.9 281.9ZM113.0 294.1L105.6 298.0 106.5 294.4ZM105.6 298.0L113.0 294.1 114.4 298.3ZM166.9 235.6L169.4 233.7 169.7 241.7ZM194.6 244.1L189.5 240.2 192.3 238.9Z"/>
<path fill="#525fa9" d="M88.0 260.7L83.8 259.0 89.7 247.6ZM218.6 290.2L210.8 285.1 217.9 281.9ZM109.2 238.6L103.9 246.6 102.9 243.2ZM223.3 252.9L224.4 259.0 218.8 261.2ZM215.5 252.7L223.3 252.9 218.8 261.2ZM201.8 302.8L198.9 292.4 203.7 292.7ZM201.8 302.8L190.4 301.9 194.8 293.5ZM177.3 297.3L181.8 306.4 179.5 307.3ZM173.1 305.3L177.3 297.3 179.5 307.3ZM114.1 242.7L113.5 238.7 119.1 239.4ZM114.1 242.7L103.9 246.6 109.2 238.6ZM96.4 251.8L89.7 247.6 102.9 243.2ZM105.6 298.0L101.3 295.1 106.5 294.4ZM133.2 305.5L136.8 301.4 138.4 305.8ZM156.7 302.3L158.9 307.9 154.2 307.5ZM170.3 309.5L165.0 302.9 172.2 303.0ZM225.7 268.0L220.7 268.1 224.4 259.0ZM210.8 285.1L218.6 294.0 203.7 292.7ZM151.0 233.4L155.2 235.8 153.8 239.9ZM137.8 238.6L128.8 238.2 138.0 233.7ZM209.9 243.9L211.3 248.0 207.3 246.7ZM199.7 243.6L209.9 243.9 207.3 246.7ZM225.7 268.0L223.0 271.3 220.7 268.1ZM140.9 235.4L137.8 238.6 138.0 233.7ZM157.6 238.2L155.2 235.8 161.0 235.4ZM169.7 241.7L169.4 233.7 176.3 235.5Z"/>
<path fill="#4199b6" d="M162.2 295.0L156.9 292.5 159.4 289.4ZM145.3 251.8L145.4 248.6 150.0 248.3ZM204.1 276.6L198.3 281.4 196.2 269.5ZM136.0 246.2L135.5 252.2 130.5 250.9ZM135.5 252.2L136.0 246.2 145.4 248.6ZM153.1 292.5L145.6 297.8 148.9 289.6ZM190.2 277.5L198.3 281.4 194.1 281.9ZM192.5 263.2L208.9 261.3 196.2 269.5ZM118.6 286.7L118.7 280.8 121.6 285.7ZM135.5 289.6L139.7 290.6 138.6 294.0ZM139.7 290.6L142.6 294.5 138.6 294.0ZM189.5 288.9L181.5 286.0 189.9 284.6ZM174.7 289.2L177.4 292.3 169.0 289.9ZM177.4 292.3L174.7 289.2 178.4 289.6ZM181.5 286.0L180.7 294.0 178.4 289.6ZM169.3 252.2L162.0 247.7 172.4 248.5ZM191.2 256.2L196.4 254.6 192.5 263.2ZM185.8 251.8L173.6 255.7 181.8 247.4ZM113.4 269.5L109.0 272.1 106.1 267.8Z"/>
<path fill="#378ebb" d="M162.2 295.0L160.0 297.3 156.9 292.5ZM160.0 297.3L154.6 296.8 156.9 292.5ZM162.2 295.0L164.4 297.0 160.0 297.3ZM127.3 244.2L133.1 242.8 130.5 250.9ZM133.1 242.8L136.0 246.2 130.5 250.9ZM118.9 294.4L121.6 285.7 126.1 293.5ZM145.6 297.8L139.8 299.1 142.6 294.5ZM142.6 294.5L139.8 299.1 138.6 294.0ZM153.1 292.5L154.6 296.8 145.6 297.8ZM201.6 284.8L198.3 281.4 204.1 276.6ZM151.0 241.9L154.2 246.5 150.0 248.3ZM145.4 248.6L151.0 241.9 150.0 248.3ZM126.1 248.2L127.3 244.2 130.5 250.9ZM134.2 298.2L133.4 292.6 138.6 294.0ZM118.6 286.7L121.6 285.7 118.9 294.4ZM177.4 292.3L177.3 297.3 167.9 297.3ZM201.6 284.8L197.7 289.6 198.3 281.4ZM197.7 289.6L189.5 288.9 189.9 284.6ZM118.1 242.8L126.1 248.2 122.1 251.0ZM117.9 252.5L118.1 242.8 122.1 251.0ZM106.6 258.6L106.1 267.8 103.8 263.6ZM180.7 294.0L181.5 286.0 184.5 295.2ZM169.7 241.7L181.8 247.4 172.4 248.5ZM157.5 242.4L159.8 246.4 154.2 246.5ZM162.0 247.7L166.3 241.8 172.4 248.5ZM196.4 254.6L191.2 256.2 193.5 248.6ZM103.8 268.5L102.8 276.9 94.2 271.3ZM102.8 276.9L108.1 284.2 102.3 286.1ZM159.8 246.4L161.0 243.7 162.0 247.7ZM161.0 243.7L166.3 241.8 162.0 247.7ZM186.5 246.8L185.8 251.8 181.8 247.4ZM106.4 271.4L102.8 276.9 103.8 268.5ZM186.5 246.8L189.3 250.3 185.8 251.8ZM106.4 271.4L107.8 277.1 102.8 276.9ZM102.8 276.9L107.8 277.1 108.1 284.2Z"/>
<path fill="#555aa7" d="M221.6 279.8L218.6 290.2 217.9 281.9ZM113.5 238.7L114.1 242.7 109.2 238.6ZM154.2 307.5L149.5 306.1 152.1 303.5ZM151.0 233.4L147.8 238.2 147.9 234.0ZM96.6 289.5L101.3 295.1 99.9 298.2ZM114.4 298.3L117.0 301.8 106.0 301.5ZM215.5 252.7L211.3 248.0 217.2 246.4ZM89.6 285.6L79.0 284.5 89.7 272.7ZM89.6 285.6L96.6 289.5 90.2 288.9ZM223.0 271.3L227.7 272.5 221.6 279.8ZM140.9 235.4L143.9 231.7 143.5 238.1ZM123.7 234.4L128.8 238.2 119.1 239.4ZM189.5 240.2L184.6 238.8 188.9 235.1Z"/>
<path fill="#3387bc" d="M143.5 238.1L145.4 248.6 137.1 243.9ZM208.9 261.3L211.2 278.0 204.1 276.6ZM211.0 279.9L201.6 284.8 204.1 276.6ZM114.1 242.7L117.9 252.5 112.5 251.9ZM106.6 258.6L101.8 260.9 104.0 254.6ZM101.8 260.9L106.6 258.6 103.8 263.6ZM139.8 299.1L134.2 298.2 138.6 294.0ZM189.5 288.9L197.7 289.6 194.8 293.5ZM94.2 264.2L101.8 260.9 103.8 263.6ZM117.9 252.5L108.5 255.1 112.5 251.9ZM108.5 255.1L107.7 252.4 112.5 251.9ZM108.5 255.1L106.6 258.6 104.0 254.6ZM177.4 292.3L180.7 294.0 177.3 297.3ZM103.8 268.5L94.2 264.2 103.8 263.6ZM113.4 284.2L106.2 289.2 108.1 284.2ZM133.4 292.6L130.5 298.3 126.1 293.5ZM166.3 241.8L169.7 241.7 172.4 248.5ZM196.4 254.6L193.5 248.6 201.8 252.4ZM113.0 294.1L113.4 284.2 118.6 286.7ZM157.5 242.4L161.0 243.7 159.8 246.4ZM186.0 243.3L186.5 246.8 181.8 247.4ZM189.3 250.3L186.5 246.8 193.5 248.6Z"/>
<path fill="#3b92b9" d="M145.4 248.6L136.0 246.2 137.1 243.9ZM148.9 289.6L145.6 297.8 142.6 294.5ZM208.9 261.3L204.1 276.6 196.2 269.5ZM164.4 297.0L169.0 289.9 167.9 297.3ZM169.0 289.9L164.4 297.0 162.2 295.0ZM133.4 292.6L135.5 289.6 138.6 294.0ZM154.6 296.8L153.1 292.5 156.9 292.5ZM122.1 251.0L126.1 248.2 130.5 250.9ZM133.4 292.6L128.4 289.8 135.5 289.6ZM128.4 289.8L133.4 292.6 126.1 293.5ZM121.6 285.7L128.4 289.8 126.1 293.5ZM169.0 289.9L177.4 292.3 167.9 297.3ZM198.3 281.4L197.7 289.6 194.1 281.9ZM194.1 281.9L197.7 289.6 189.9 284.6ZM106.6 258.6L108.5 255.1 121.1 260.2ZM108.5 255.1L117.9 252.5 121.1 260.2ZM113.4 269.5L106.1 267.8 106.6 258.6ZM181.5 286.0L189.5 288.9 184.5 295.2ZM180.7 294.0L177.4 292.3 178.4 289.6ZM106.1 267.8L103.8 268.5 103.8 263.6ZM118.6 286.7L113.4 284.2 116.6 281.5ZM112.4 277.6L113.4 284.2 108.1 284.2ZM192.5 263.2L196.4 254.6 208.9 261.3ZM181.8 247.4L173.6 255.7 172.4 248.5ZM106.4 271.4L103.8 268.5 106.1 267.8ZM189.3 250.3L189.6 256.0 185.8 251.8ZM191.2 256.2L189.3 250.3 193.5 248.6ZM189.6 256.0L189.3 250.3 191.2 256.2ZM107.8 277.1L112.4 277.6 108.1 284.2ZM109.0 272.1L106.4 271.4 106.1 267.8ZM107.8 277.1L109.0 272.1 112.4 277.6ZM109.0 272.1L107.8 277.1 106.4 271.4Z"/>
<path fill="#56b0ad" d="M133.6 275.6L129.1 281.8 128.8 273.6ZM152.6 285.2L153.1 292.5 148.9 289.6ZM148.3 285.0L152.6 285.2 148.9 289.6ZM125.8 259.8L123.6 265.2 121.1 260.2ZM125.8 259.8L132.1 260.1 128.6 263.8ZM159.8 256.1L148.5 255.8 150.0 248.3ZM138.0 259.2L132.1 260.1 135.5 252.2ZM181.9 280.1L175.1 283.9 174.6 281.2ZM176.1 277.7L181.9 280.1 174.6 281.2ZM123.6 265.2L123.4 271.3 116.4 269.6ZM122.3 276.9L123.4 271.3 128.8 273.6ZM123.4 271.3L128.6 263.8 128.8 273.6ZM123.4 271.3L123.6 265.2 128.6 263.8ZM132.1 260.1L133.0 262.8 128.6 263.8ZM148.5 255.8L143.0 254.4 145.3 251.8ZM138.4 285.5L142.9 284.3 144.0 289.3ZM144.0 289.3L142.9 284.3 148.3 285.0ZM138.1 281.2L132.0 285.5 129.1 281.8ZM138.1 281.2L142.9 284.3 138.4 285.5ZM181.5 286.0L175.1 283.9 181.9 280.1ZM181.8 277.7L183.9 271.2 184.9 276.1ZM176.5 268.8L183.9 271.2 181.8 277.7ZM183.9 271.2L190.2 277.5 184.9 276.1ZM170.2 279.8L172.1 285.9 167.3 286.1ZM170.2 279.8L176.1 277.7 174.6 281.2ZM166.6 259.4L169.3 252.2 171.1 260.2ZM166.6 259.4L162.5 255.9 169.3 252.2ZM176.7 259.4L174.9 264.0 171.1 260.2ZM182.2 260.9L174.9 264.0 176.7 259.4ZM169.3 252.2L173.6 255.7 171.1 260.2ZM173.6 255.7L176.7 259.4 171.1 260.2ZM161.4 285.7L167.3 286.1 159.4 289.4ZM156.8 286.7L161.4 285.7 159.4 289.4ZM183.5 263.5L183.9 271.2 176.5 268.8Z"/>
<path fill="#3b7cb7" d="M145.6 297.8L154.6 296.8 152.1 303.5ZM165.0 302.9L164.4 297.0 167.9 297.3ZM147.8 238.2L145.4 248.6 143.5 238.1ZM107.7 252.4L103.9 246.6 112.5 251.9ZM103.9 246.6L107.7 252.4 104.0 254.6ZM201.6 284.8L211.0 279.9 210.8 285.1ZM202.5 289.8L201.6 284.8 210.8 285.1ZM101.8 260.9L96.4 251.8 104.0 254.6ZM207.1 256.0L204.3 252.7 209.6 251.2ZM207.1 256.0L213.0 256.8 208.9 261.3ZM208.9 261.3L213.0 256.8 217.9 264.3ZM126.1 248.2L118.1 242.8 127.3 244.2ZM101.8 260.9L94.2 264.2 92.9 258.9ZM102.8 276.9L93.9 282.1 93.5 275.8ZM99.0 286.4L102.8 276.9 102.3 286.1ZM102.8 276.9L99.0 286.4 93.9 282.1ZM157.6 238.2L161.0 243.7 157.5 242.4ZM186.5 246.8L194.6 244.1 193.5 248.6Z"/>
<path fill="#3682ba" d="M164.4 297.0L160.6 302.0 160.0 297.3ZM136.0 246.2L133.1 242.8 137.1 243.9ZM156.7 302.3L154.6 296.8 160.0 297.3ZM211.2 278.0L211.0 279.9 204.1 276.6ZM217.1 272.4L211.2 278.0 208.9 261.3ZM184.5 295.2L189.5 288.9 194.8 293.5ZM154.2 246.5L151.0 241.9 153.8 239.9ZM147.8 238.2L151.0 241.9 145.4 248.6ZM204.3 252.7L207.1 256.0 201.8 252.4ZM197.7 289.6L201.6 284.8 202.5 289.8ZM107.7 252.4L108.5 255.1 104.0 254.6ZM108.1 284.2L106.2 289.2 102.3 286.1ZM177.3 297.3L180.7 294.0 184.5 295.2ZM94.2 264.2L103.8 268.5 94.2 271.3ZM157.5 242.4L154.2 246.5 153.8 239.9ZM134.2 298.2L130.5 298.3 133.4 292.6ZM207.1 256.0L196.4 254.6 201.8 252.4ZM196.4 254.6L207.1 256.0 208.9 261.3ZM102.8 276.9L93.5 275.8 94.2 271.3ZM113.4 284.2L113.0 294.1 106.2 289.2ZM113.0 294.1L118.6 286.7 118.9 294.4Z"/>
<path fill="#459eb4" d="M169.0 289.9L162.2 295.0 159.4 289.4ZM190.2 277.5L194.1 281.9 189.9 284.6ZM198.3 281.4L190.2 277.5 196.2 269.5ZM117.9 252.5L122.1 251.0 121.1 260.2ZM144.0 289.3L148.9 289.6 142.6 294.5ZM125.8 259.8L122.1 251.0 130.5 250.9ZM122.1 251.0L125.8 259.8 121.1 260.2ZM128.4 289.8L132.0 285.5 135.5 289.6ZM118.7 280.8L118.6 286.7 116.6 281.5ZM154.2 246.5L159.8 246.4 159.8 256.1ZM159.8 246.4L162.0 247.7 159.8 256.1ZM113.4 269.5L106.6 258.6 121.1 260.2ZM138.4 285.5L139.7 290.6 135.5 289.6ZM139.7 290.6L144.0 289.3 142.6 294.5ZM128.4 289.8L126.0 285.5 132.0 285.5ZM181.5 286.0L181.9 280.1 189.9 284.6ZM174.7 289.2L175.1 283.9 178.4 289.6ZM191.2 256.2L192.5 263.2 186.1 258.5ZM113.4 284.2L112.4 277.6 116.6 281.5ZM112.4 277.6L113.4 269.5 116.4 269.6ZM112.4 277.6L118.7 280.8 116.6 281.5ZM118.7 280.8L112.4 277.6 122.3 276.9ZM125.6 282.3L126.0 285.5 121.6 285.7ZM189.1 267.0L192.5 263.2 196.2 269.5ZM190.2 277.5L189.1 267.0 196.2 269.5ZM173.6 255.7L169.3 252.2 172.4 248.5ZM189.6 256.0L191.2 256.2 186.1 258.5ZM185.8 251.8L189.6 256.0 186.1 258.5ZM112.4 277.6L109.0 272.1 113.4 269.5Z"/>
<path fill="#4ba4b1" d="M154.2 246.5L159.8 256.1 150.0 248.3ZM156.9 292.5L156.8 286.7 159.4 289.4ZM153.1 292.5L156.8 286.7 156.9 292.5ZM181.9 280.1L190.2 277.5 189.9 284.6ZM135.5 252.2L132.1 260.1 130.5 250.9ZM148.5 255.8L145.3 251.8 150.0 248.3ZM143.0 254.4L145.4 248.6 145.3 251.8ZM143.0 254.4L135.5 252.2 145.4 248.6ZM139.7 290.6L138.4 285.5 144.0 289.3ZM126.0 285.5L128.4 289.8 121.6 285.7ZM175.1 283.9L181.5 286.0 178.4 289.6ZM169.3 252.2L162.5 255.9 162.0 247.7ZM172.1 285.9L174.7 289.2 169.0 289.9ZM122.3 276.9L112.4 277.6 116.4 269.6ZM118.7 280.8L125.6 282.3 121.6 285.7ZM192.5 263.2L189.1 267.0 186.1 258.5ZM182.2 260.9L185.8 251.8 186.1 258.5Z"/>
<path fill="#5cb7aa" d="M134.9 271.9L133.6 275.6 128.8 273.6ZM129.1 281.8L122.3 276.9 128.8 273.6ZM152.6 285.2L148.3 285.0 152.5 280.1ZM155.5 260.8L148.5 255.8 159.8 256.1ZM159.9 260.0L155.5 260.8 159.8 256.1ZM176.1 277.7L176.5 268.8 181.8 277.7ZM141.3 275.4L147.2 276.4 143.7 281.9ZM147.2 276.4L148.3 285.0 143.7 281.9ZM133.0 262.8L135.3 268.6 128.6 263.8ZM133.0 262.8L138.0 259.2 138.5 263.8ZM138.0 259.2L143.0 254.4 142.9 259.7ZM148.3 285.0L142.9 284.3 143.7 281.9ZM138.1 281.2L138.4 285.5 132.0 285.5ZM138.1 281.2L129.1 281.8 133.6 275.6ZM137.4 276.8L138.1 281.2 133.6 275.6ZM138.1 281.2L141.3 275.4 143.7 281.9ZM142.9 284.3L138.1 281.2 143.7 281.9ZM143.0 254.4L145.7 258.8 142.9 259.7ZM145.7 258.8L143.0 254.4 148.5 255.8ZM145.7 258.8L148.5 255.8 151.0 260.3ZM170.6 276.1L176.5 268.8 176.1 277.7ZM162.5 255.9L159.9 260.0 159.8 256.1ZM157.2 282.0L152.6 285.2 152.5 280.1ZM157.2 282.0L156.8 286.7 152.6 285.2ZM170.2 279.8L167.3 286.1 165.2 277.4ZM172.1 285.9L170.2 279.8 174.6 281.2ZM170.2 279.8L170.6 276.1 176.1 277.7ZM167.3 267.1L166.6 259.4 171.1 260.2ZM162.5 255.9L166.6 259.4 159.9 260.0ZM171.1 260.2L174.9 264.0 170.3 267.2ZM157.2 282.0L161.4 285.7 156.8 286.7ZM174.9 264.0L183.5 263.5 176.5 268.8ZM183.5 263.5L174.9 264.0 182.2 260.9Z"/>
<path fill="#50a9af" d="M156.8 286.7L153.1 292.5 152.6 285.2ZM190.2 277.5L181.9 280.1 184.9 276.1ZM181.9 280.1L181.8 277.7 184.9 276.1ZM144.0 289.3L148.3 285.0 148.9 289.6ZM123.6 265.2L116.4 269.6 121.1 260.2ZM123.6 265.2L125.8 259.8 128.6 263.8ZM132.1 260.1L125.8 259.8 130.5 250.9ZM132.0 285.5L138.4 285.5 135.5 289.6ZM176.1 277.7L181.8 277.7 181.9 280.1ZM167.3 286.1L169.0 289.9 159.4 289.4ZM123.4 271.3L122.3 276.9 116.4 269.6ZM143.0 254.4L138.0 259.2 135.5 252.2ZM116.4 269.6L113.4 269.5 121.1 260.2ZM132.0 285.5L126.0 285.5 129.1 281.8ZM162.0 247.7L162.5 255.9 159.8 256.1ZM175.1 283.9L172.1 285.9 174.6 281.2ZM174.7 289.2L172.1 285.9 175.1 283.9ZM167.3 286.1L172.1 285.9 169.0 289.9ZM125.6 282.3L122.3 276.9 129.1 281.8ZM126.0 285.5L125.6 282.3 129.1 281.8ZM125.6 282.3L118.7 280.8 122.3 276.9ZM183.9 271.2L189.1 267.0 190.2 277.5ZM185.8 251.8L182.2 260.9 176.7 259.4ZM173.6 255.7L185.8 251.8 176.7 259.4ZM167.3 286.1L161.4 285.7 165.2 277.4ZM183.5 263.5L189.1 267.0 183.9 271.2ZM189.1 267.0L183.5 263.5 186.1 258.5ZM183.5 263.5L182.2 260.9 186.1 258.5Z"/>
<path fill="#74c7a5" d="M150.1 267.2L153.7 271.6 148.1 268.8ZM150.1 267.2L157.5 268.3 153.7 271.6Z"/>
<path fill="#66c2a5" d="M150.1 267.2L155.5 260.8 158.3 264.3ZM155.5 260.8L150.1 267.2 151.0 260.3ZM159.9 260.0L163.6 265.2 158.3 264.3ZM147.2 276.4L148.4 273.3 152.5 280.1ZM138.9 273.7L137.4 276.8 134.9 271.9ZM135.3 268.6L138.9 273.7 134.9 271.9ZM138.9 273.7L138.5 263.8 148.1 268.8ZM150.1 267.2L147.4 265.0 151.0 260.3ZM147.4 265.0L145.1 262.8 151.0 260.3ZM138.5 263.8L147.4 265.0 148.1 268.8ZM170.6 276.1L167.3 267.1 170.3 267.2ZM159.9 276.2L157.2 282.0 157.7 275.4ZM159.9 276.2L163.2 272.6 165.2 277.4ZM163.2 272.6L159.9 276.2 157.7 275.4ZM167.3 267.1L162.4 267.5 163.6 265.2ZM163.2 272.6L162.4 267.5 167.3 267.1ZM163.6 265.2L162.4 267.5 158.3 264.3ZM162.4 267.5L157.5 268.3 158.3 264.3Z"/>
<path fill="#6bc4a5" d="M153.7 271.6L148.4 273.3 148.1 268.8ZM148.4 273.3L153.7 271.6 152.5 280.1ZM148.4 273.3L141.3 275.4 148.1 268.8ZM147.2 276.4L141.3 275.4 148.4 273.3ZM138.9 273.7L135.3 268.6 138.5 263.8ZM141.3 275.4L138.9 273.7 148.1 268.8ZM147.4 265.0L150.1 267.2 148.1 268.8ZM163.2 272.6L167.3 267.1 170.6 276.1ZM157.5 268.3L163.2 272.6 157.7 275.4ZM157.5 268.3L162.4 267.5 163.2 272.6ZM157.5 268.3L157.7 275.4 153.7 271.6ZM157.5 268.3L150.1 267.2 158.3 264.3Z"/>
<path fill="#60bba8" d="M135.3 268.6L134.9 271.9 128.8 273.6ZM128.6 263.8L135.3 268.6 128.8 273.6ZM148.5 255.8L155.5 260.8 151.0 260.3ZM138.0 259.2L142.9 259.7 138.5 263.8ZM155.5 260.8L159.9 260.0 158.3 264.3ZM134.9 271.9L137.4 276.8 133.6 275.6ZM142.9 259.7L145.1 262.8 138.5 263.8ZM153.7 271.6L157.7 275.4 152.5 280.1ZM148.3 285.0L147.2 276.4 152.5 280.1ZM135.3 268.6L133.0 262.8 138.5 263.8ZM138.0 259.2L133.0 262.8 132.1 260.1ZM137.4 276.8L138.9 273.7 141.3 275.4ZM138.1 281.2L137.4 276.8 141.3 275.4ZM145.1 262.8L147.4 265.0 138.5 263.8ZM145.7 258.8L145.1 262.8 142.9 259.7ZM145.1 262.8L145.7 258.8 151.0 260.3ZM176.5 268.8L170.6 276.1 170.3 267.2ZM157.7 275.4L157.2 282.0 152.5 280.1ZM167.3 267.1L171.1 260.2 170.3 267.2ZM163.2 272.6L170.6 276.1 165.2 277.4ZM170.6 276.1L170.2 279.8 165.2 277.4ZM166.6 259.4L167.3 267.1 163.6 265.2ZM166.6 259.4L163.6 265.2 159.9 260.0ZM174.9 264.0L176.5 268.8 170.3 267.2ZM157.2 282.0L159.9 276.2 165.2 277.4ZM161.4 285.7L157.2 282.0 165.2 277.4Z"/>
</g>
<rect x="116.87" y="255.63" width="74.87" height="37.43" fill="none" stroke="#111" stroke-width="1.1"/>
<rect x="42" y="218.2" width="224.6" height="89.84" fill="none" stroke="#111" stroke-width="0.75"/>
<line x1="79.93" y1="217.9" x2="228.37" y2="217.9" stroke="#ee1c23" stroke-width="1.7"/>
<text x="42" y="317.74" text-anchor="middle" class="tk">−1500</text>
<text x="79.43" y="317.74" text-anchor="middle" class="tk">−1000</text>
<text x="116.87" y="317.74" text-anchor="middle" class="tk">−500</text>
<text x="154.3" y="317.74" text-anchor="middle" class="tk">0</text>
<text x="191.73" y="317.74" text-anchor="middle" class="tk">500</text>
<text x="229.17" y="317.74" text-anchor="middle" class="tk">1000</text>
<text x="266.6" y="317.74" text-anchor="middle" class="tk">1500</text>
<text x="37.1" y="220.9" text-anchor="end" class="tk">0</text>
<text x="37.1" y="235.87" text-anchor="end" class="tk">−200</text>
<text x="37.1" y="250.85" text-anchor="end" class="tk">−400</text>
<text x="37.1" y="265.82" text-anchor="end" class="tk">−600</text>
<text x="37.1" y="280.79" text-anchor="end" class="tk">−800</text>
<text x="37.1" y="295.77" text-anchor="end" class="tk">−1000</text>
<text x="37.1" y="310.74" text-anchor="end" class="tk">−1200</text>
<path d="M42 308.04v2.4 M79.43 308.04v2.4 M116.87 308.04v2.4 M154.3 308.04v2.4 M191.73 308.04v2.4 M229.17 308.04v2.4 M266.6 308.04v2.4 M42 218.2h-2.4 M42 233.17h-2.4 M42 248.15h-2.4 M42 263.12h-2.4 M42 278.09h-2.4 M42 293.07h-2.4 M42 308.04h-2.4" stroke="#222" stroke-width="0.6" fill="none"/>
<text x="154.3" y="327.24" text-anchor="middle" class="al">y (m)</text>
<text transform="translate(10,263.12) rotate(-90)" text-anchor="middle" class="al">z (m)</text>
<text x="50" y="277.7" class="an">x = 0 m</text>
<text x="41.4" y="213.6" class="ti tb">(e)</text>
<text x="55.2" y="213.3" class="ti ts" textLength="66.5" lengthAdjust="spacingAndGlyphs">Min/Mean= 188/213 Ωm</text>
<g clip-path="url(#cpf)">
<rect x="314" y="218.2" width="224.6" height="89.84" fill="#5e4fa2"/>
<path fill="#525fa9" fill-rule="evenodd" d="M419.5 238.7L434.5 238.7 435.0 239.1 439.5 239.2 440.0 239.6 442.5 239.7 443.0 240.1 445.0 240.2 447.5 241.1 449.0 241.2 451.0 242.1 452.0 242.2 453.5 243.1 454.5 243.2 460.5 246.2 464.0 249.1 464.5 249.2 469.0 254.2 471.5 259.2 472.1 263.2 472.5 263.7 472.5 270.7 472.1 271.2 471.5 276.2 469.5 281.2 467.0 285.2 464.5 288.2 460.0 292.2 457.0 294.2 451.0 297.2 447.0 298.3 446.5 298.7 445.0 298.8 443.0 299.7 437.5 300.3 437.0 300.7 432.0 300.8 431.5 301.2 422.5 301.2 422.0 300.8 417.0 300.7 416.5 300.3 411.5 299.7 411.0 299.3 407.5 298.7 407.0 298.3 404.5 297.7 403.0 296.8 402.0 296.7 398.0 294.7 393.5 291.7 389.5 288.2 389.4 287.7 387.5 285.7 387.4 285.2 386.0 283.7 383.5 278.7 383.4 277.7 382.5 275.7 382.4 274.2 382.0 273.7 381.9 270.2 381.5 269.7 381.5 264.7 381.9 264.2 382.0 261.7 382.4 261.2 383.0 258.2 385.5 253.7 387.4 251.7 387.5 251.2 391.5 247.7 394.5 245.7 399.5 243.2 400.5 243.1 402.0 242.2 403.0 242.1 405.0 241.2 408.5 240.6 409.0 240.2 414.0 239.6 414.5 239.2 419.0 239.1Z"/>
<path fill="#496aaf" fill-rule="evenodd" d="M418.5 240.6L427.0 240.3 434.5 240.6 441.0 241.4 446.0 242.4 451.6 244.2 457.0 246.7 461.4 249.7 465.0 253.1 468.0 257.7 469.6 262.2 470.1 267.2 469.7 272.7 468.4 277.7 466.2 282.2 463.5 286.0 460.0 289.5 453.0 294.1 444.5 297.3 435.0 299.1 422.5 299.3 412.5 298.0 404.0 295.4 396.3 291.2 393.0 288.5 390.3 285.7 387.9 282.2 386.1 278.7 384.9 275.2 384.2 270.7 384.0 266.7 384.5 262.2 385.8 258.2 387.2 255.7 389.5 252.7 392.1 250.2 395.0 248.0 399.5 245.5 408.5 242.3Z"/>
<path fill="#4175b4" fill-rule="evenodd" d="M425.0 242.2L437.5 242.8 444.0 244.0 449.7 245.7 454.2 247.7 458.9 250.7 462.2 253.7 465.0 257.6 467.0 262.7 467.5 267.7 467.0 273.2 465.5 278.2 463.5 282.2 460.3 286.2 456.5 289.5 452.0 292.3 444.0 295.5 434.5 297.2 423.0 297.5 413.5 296.3 405.1 293.7 399.4 290.7 393.8 286.2 392.0 284.1 389.5 280.2 388.0 276.7 387.1 273.2 386.8 265.2 387.5 261.4 388.5 258.7 392.0 253.6 397.5 249.1 404.5 245.7 413.8 243.2Z"/>
<path fill="#3682ba" fill-rule="evenodd" d="M420.0 244.7L427.0 244.4 433.5 244.6 439.0 245.3 444.0 246.5 448.9 248.2 453.0 250.2 457.0 253.1 460.0 256.2 462.5 260.2 463.6 263.7 464.1 267.7 463.8 272.7 462.8 276.7 461.0 280.7 458.5 284.2 455.0 287.6 448.5 291.6 441.5 294.0 433.5 295.4 423.0 295.6 415.0 294.6 407.5 292.4 401.0 289.0 395.6 284.2 392.1 278.7 390.7 274.7 390.2 271.7 390.0 267.7 390.4 264.2 391.0 261.7 392.7 258.2 394.5 255.7 397.0 253.2 403.0 249.2 410.5 246.4Z"/>
<path fill="#378ebb" fill-rule="evenodd" d="M424.5 246.7L436.0 247.2 441.0 248.2 445.7 249.7 449.9 251.7 453.0 253.7 456.0 256.5 458.0 259.2 459.5 262.1 460.5 265.9 460.6 271.2 460.0 275.2 458.5 279.2 457.0 281.7 454.4 284.7 450.0 288.2 443.8 291.2 436.0 293.2 427.0 293.8 418.2 293.2 410.3 291.2 404.9 288.7 400.2 285.2 396.5 280.8 394.9 277.7 394.0 274.8 393.5 271.7 393.5 267.2 394.0 264.0 395.0 261.2 397.5 257.2 402.5 252.7 408.4 249.7 415.5 247.7Z"/>
<path fill="#4199b6" fill-rule="evenodd" d="M424.0 250.2L434.0 250.6 442.0 252.5 445.9 254.2 449.0 256.2 451.5 258.5 453.6 261.2 454.9 264.2 455.7 267.7 455.6 272.2 454.9 275.7 453.5 278.8 451.5 281.7 449.0 284.2 446.0 286.3 440.5 288.8 434.0 290.4 426.5 290.8 419.0 290.3 413.0 288.8 408.0 286.6 403.5 283.2 400.3 279.2 398.3 274.2 397.9 268.7 398.7 264.2 401.1 259.7 404.6 256.2 410.0 253.1 416.5 251.1Z"/>
<path fill="#4ba4b1" fill-rule="evenodd" d="M424.0 253.7L432.0 253.9 439.0 255.6 442.0 256.9 444.9 258.7 448.6 262.7 449.8 265.2 450.4 268.2 450.4 271.7 450.0 274.2 449.1 276.7 447.5 279.3 445.3 281.7 442.5 283.7 438.5 285.7 433.5 287.0 426.5 287.6 420.5 287.2 416.0 286.2 411.3 284.2 407.5 281.4 404.8 278.2 403.1 274.2 402.6 269.7 403.3 265.2 405.5 261.3 408.5 258.5 413.0 256.0 418.0 254.4Z"/>
<path fill="#56b0ad" fill-rule="evenodd" d="M424.0 257.2L431.0 257.4 436.2 258.7 440.8 261.2 443.5 264.2 444.5 266.4 445.0 268.7 444.5 273.7 442.5 277.7 438.5 281.2 435.3 282.7 431.4 283.7 426.5 284.1 421.2 283.7 417.3 282.7 414.1 281.2 411.5 279.2 409.4 276.7 408.0 273.4 407.6 269.7 408.0 266.7 409.5 263.6 411.8 261.2 415.1 259.2 419.5 257.8Z"/>
<path fill="#60bba8" fill-rule="evenodd" d="M422.0 261.2L430.0 261.2 434.2 262.7 436.7 264.7 438.0 267.2 438.1 271.2 437.1 274.2 435.0 276.7 432.7 278.2 430.0 279.1 424.5 279.5 422.0 279.2 419.2 278.2 417.5 277.2 415.5 275.2 414.5 273.6 413.8 271.2 413.6 268.7 414.0 266.6 415.0 264.9 416.8 263.2 418.6 262.2Z"/>
<path fill="#6bc4a5" fill-rule="evenodd" d="M423.0 268.6L428.0 268.5 430.0 268.9 430.8 269.7 430.4 270.7 429.0 271.7 424.5 272.0 422.5 271.5 421.2 270.2 421.3 269.2Z"/>
<path fill="#4175b4" d="M392.1 264.6L386.6 272.4 385.8 260.9ZM392.5 256.3L392.1 264.6 385.8 260.9ZM396.9 256.5L392.5 256.3 393.9 251.5ZM391.3 279.0L389.1 279.8 386.6 272.4ZM461.1 260.4L462.3 252.2 465.8 256.8ZM462.3 252.2L461.1 260.4 458.8 252.2ZM454.6 286.8L458.1 284.5 461.4 289.0ZM448.8 292.1L454.6 286.8 454.0 295.0ZM397.9 291.1L391.3 285.0 400.1 283.7ZM406.8 249.6L403.7 244.8 409.6 242.1ZM449.7 249.2L443.5 245.6 448.1 244.1ZM443.5 245.6L433.9 244.6 439.0 241.6ZM433.9 244.6L430.4 243.9 431.5 240.4ZM441.2 299.7L434.8 291.6 442.7 295.2ZM429.4 294.9L434.8 291.6 433.4 303.5ZM401.2 294.7L400.5 288.8 405.3 289.1ZM398.6 245.8L400.5 251.5 393.9 251.5ZM398.6 245.8L403.0 250.1 400.5 251.5ZM414.2 244.1L411.0 249.5 409.6 242.1ZM420.6 241.8L422.8 244.6 418.3 244.4ZM412.6 298.4L418.0 290.9 417.9 299.7Z"/>
<path fill="#525fa9" d="M378.8 264.5L386.6 272.4 382.2 272.9ZM466.7 283.6L466.7 275.2 471.9 282.9ZM429.6 240.1L431.9 238.3 431.5 240.4ZM389.1 279.8L381.5 283.3 382.2 272.9ZM465.8 287.7L461.4 289.0 466.7 283.6ZM438.3 236.8L442.4 241.9 439.0 241.6ZM463.3 264.1L472.3 259.4 476.5 269.4ZM462.3 252.2L459.7 248.1 464.9 248.3ZM466.1 252.2L462.3 252.2 464.9 248.3ZM389.1 279.8L391.3 285.0 381.5 283.3ZM391.3 285.0L391.6 289.2 389.5 291.1ZM391.9 248.7L393.3 245.5 393.9 251.5ZM397.9 291.1L395.3 292.1 391.6 289.2ZM395.3 292.1L397.9 291.1 396.1 294.6ZM397.9 291.1L401.2 294.7 396.1 294.6ZM424.5 302.3L429.4 294.9 429.2 304.4ZM403.7 244.8L406.8 238.0 409.6 242.1ZM413.7 236.7L414.2 241.6 409.6 242.1ZM420.6 241.8L414.2 241.6 417.5 236.5ZM398.6 245.8L401.2 240.8 403.7 244.8Z"/>
<path fill="#4d65ad" d="M386.6 272.4L378.8 264.5 385.8 260.9ZM431.9 238.3L439.0 241.6 431.5 240.4ZM449.6 296.4L448.8 292.1 454.0 295.0ZM389.4 247.8L391.9 248.7 392.5 256.3ZM384.4 255.6L389.4 247.8 392.5 256.3ZM452.1 241.0L459.7 248.1 454.4 249.8ZM462.3 252.2L466.1 252.2 465.8 256.8ZM445.7 299.3L442.7 295.2 449.6 296.4ZM424.6 241.7L424.9 237.9 429.6 240.1ZM420.6 241.8L424.9 237.9 424.6 241.7ZM445.7 299.3L441.2 299.7 442.7 295.2ZM424.5 302.3L421.1 300.4 425.3 295.2ZM393.3 245.5L398.6 245.8 393.9 251.5Z"/>
<path fill="#3682ba" d="M395.7 269.3L386.6 272.4 392.1 264.6ZM386.6 272.4L395.7 269.3 395.2 275.5ZM392.5 256.3L396.9 256.5 392.1 264.6ZM452.4 253.4L454.4 249.8 456.3 255.7ZM454.4 249.8L452.4 253.4 449.7 249.2ZM463.3 264.1L464.1 272.3 457.9 269.2ZM398.2 281.1L391.3 279.0 395.2 275.5ZM391.3 285.0L398.2 281.1 400.1 283.7ZM433.9 244.6L443.5 245.6 440.9 251.6ZM442.7 295.2L444.4 291.0 448.8 292.1ZM441.0 288.6L444.4 291.0 442.7 295.2ZM422.8 244.6L424.6 241.7 425.2 248.5ZM418.3 244.4L422.8 244.6 425.2 248.5ZM418.0 290.9L421.3 291.9 417.9 299.7Z"/>
<path fill="#496aaf" d="M386.6 272.4L389.1 279.8 382.2 272.9ZM461.4 289.0L458.1 284.5 466.7 283.6ZM384.4 255.6L392.5 256.3 385.8 260.9ZM472.3 259.4L463.3 264.1 465.8 256.8ZM452.1 241.0L449.7 249.2 448.1 244.1ZM466.7 275.2L464.1 272.3 476.5 269.4ZM454.6 286.8L461.4 289.0 454.0 295.0ZM391.3 285.0L397.9 291.1 391.6 289.2ZM445.5 242.3L443.5 245.6 442.4 241.9ZM442.4 241.9L443.5 245.6 439.0 241.6ZM430.4 243.9L424.6 241.7 429.6 240.1ZM430.4 243.9L429.6 240.1 431.5 240.4ZM414.2 241.6L414.2 244.1 409.6 242.1ZM434.8 291.6L441.2 299.7 433.4 303.5ZM397.9 291.1L400.5 288.8 401.2 294.7Z"/>
<path fill="#3b7cb7" d="M456.3 255.7L454.4 249.8 458.8 252.2ZM391.3 279.0L386.6 272.4 395.2 275.5ZM400.5 251.5L396.9 256.5 393.9 251.5ZM463.3 264.1L461.1 260.4 465.8 256.8ZM461.1 260.4L456.3 255.7 458.8 252.2ZM415.0 248.4L414.2 244.1 418.3 244.4ZM458.1 284.5L458.6 273.6 466.7 275.2ZM458.6 273.6L464.1 272.3 466.7 275.2ZM398.2 281.1L391.3 285.0 391.3 279.0ZM424.6 241.7L430.4 243.9 425.2 248.5ZM412.0 293.0L409.3 296.2 405.3 289.1ZM400.5 288.8L397.9 291.1 400.1 283.7ZM421.1 300.4L421.3 291.9 425.3 295.2ZM403.0 250.1L403.7 244.8 406.8 249.6ZM411.0 249.5L406.8 249.6 409.6 242.1ZM418.0 290.9L412.6 298.4 412.0 293.0Z"/>
<path fill="#4471b2" d="M458.1 284.5L466.7 275.2 466.7 283.6ZM392.5 256.3L391.9 248.7 393.9 251.5ZM454.4 249.8L459.7 248.1 458.8 252.2ZM459.7 248.1L462.3 252.2 458.8 252.2ZM452.1 241.0L454.4 249.8 449.7 249.2ZM442.7 295.2L448.8 292.1 449.6 296.4ZM464.1 272.3L463.3 264.1 476.5 269.4ZM391.3 279.0L391.3 285.0 389.1 279.8ZM439.0 241.6L433.9 244.6 431.5 240.4ZM429.4 294.9L424.5 302.3 425.3 295.2ZM443.5 245.6L445.5 242.3 448.1 244.1ZM414.2 244.1L414.2 241.6 418.3 244.4ZM414.2 241.6L420.6 241.8 418.3 244.4ZM409.3 296.2L401.2 294.7 405.3 289.1ZM412.6 298.4L409.3 296.2 412.0 293.0ZM421.3 291.9L421.1 300.4 417.9 299.7ZM403.0 250.1L398.6 245.8 403.7 244.8ZM422.8 244.6L420.6 241.8 424.6 241.7Z"/>
<path fill="#555aa7" d="M431.9 238.3L438.3 236.8 439.0 241.6ZM378.8 264.5L384.4 255.6 385.8 260.9ZM429.4 294.9L433.4 303.5 429.2 304.4ZM445.5 242.3L442.4 241.9 444.1 236.5ZM445.5 242.3L450.0 237.4 448.1 244.1ZM424.9 237.9L431.9 238.3 429.6 240.1ZM424.9 237.9L420.6 241.8 417.5 236.5ZM409.3 296.2L412.6 298.4 409.3 303.1ZM401.2 294.7L409.3 296.2 400.4 299.9Z"/>
<path fill="#378ebb" d="M402.1 265.8L395.7 269.3 392.1 264.6ZM396.9 256.5L402.1 265.8 392.1 264.6ZM400.1 283.7L409.1 284.0 405.3 289.1ZM424.7 288.3L429.4 294.9 425.3 295.2ZM452.7 276.5L458.6 273.6 458.1 284.5ZM458.6 273.6L454.2 269.0 457.9 269.2ZM456.3 255.7L455.1 264.8 452.2 257.5ZM461.1 260.4L455.1 264.8 456.3 255.7ZM454.2 269.0L455.1 264.8 457.9 269.2ZM455.1 264.8L463.3 264.1 457.9 269.2ZM398.2 281.1L403.1 280.0 400.1 283.7ZM421.3 291.9L424.7 288.3 425.3 295.2ZM400.5 251.5L403.3 260.2 396.9 256.5ZM407.1 258.0L403.3 260.2 400.5 251.5ZM443.5 245.6L443.1 252.1 440.9 251.6ZM448.8 292.1L444.4 291.0 449.0 283.5ZM403.0 250.1L407.1 258.0 400.5 251.5ZM418.8 253.9L418.3 244.4 425.2 248.5ZM418.8 253.9L415.0 248.4 418.3 244.4ZM432.0 290.9L434.8 291.6 429.4 294.9ZM430.4 243.9L429.0 248.5 425.2 248.5ZM412.3 253.4L411.0 249.5 415.0 248.4ZM411.0 249.5L412.3 253.4 406.8 249.6ZM418.0 290.9L421.0 288.5 421.3 291.9ZM409.1 284.0L418.0 290.9 412.0 293.0Z"/>
<path fill="#3387bc" d="M452.4 253.4L456.3 255.7 452.2 257.5ZM454.6 286.8L448.8 292.1 449.0 283.5ZM458.1 284.5L454.6 286.8 449.0 283.5ZM409.1 284.0L412.0 293.0 405.3 289.1ZM452.4 253.4L443.1 252.1 449.7 249.2ZM464.1 272.3L458.6 273.6 457.9 269.2ZM455.1 264.8L461.1 260.4 463.3 264.1ZM443.1 252.1L443.5 245.6 449.7 249.2ZM434.8 291.6L441.0 288.6 442.7 295.2ZM400.5 288.8L400.1 283.7 405.3 289.1ZM407.1 258.0L403.0 250.1 406.8 249.6ZM432.5 249.6L430.4 243.9 433.9 244.6ZM432.5 249.6L433.9 244.6 440.9 251.6ZM415.0 248.4L411.0 249.5 414.2 244.1ZM432.5 249.6L429.0 248.5 430.4 243.9Z"/>
<path fill="#3b92b9" d="M447.2 260.1L452.4 253.4 452.2 257.5ZM452.7 276.5L458.1 284.5 449.0 283.5ZM443.1 252.1L452.4 253.4 447.2 260.1ZM454.2 269.0L458.6 273.6 452.7 276.5ZM444.4 291.0L441.2 284.0 449.0 283.5ZM441.2 284.0L444.4 291.0 441.0 288.6ZM402.1 265.8L398.6 269.7 395.7 269.3ZM395.7 269.3L398.6 269.7 395.2 275.5ZM398.6 269.7L401.9 272.6 395.2 275.5ZM398.2 281.1L402.4 277.3 403.1 280.0ZM402.4 277.3L398.2 281.1 395.2 275.5ZM437.0 256.6L432.5 249.6 440.9 251.6ZM434.8 291.6L437.2 288.5 441.0 288.6ZM432.0 290.9L437.2 288.5 434.8 291.6ZM421.3 291.9L421.0 288.5 424.7 288.3ZM429.0 248.5L432.5 249.6 430.9 252.4ZM429.0 248.5L426.0 254.0 425.2 248.5ZM412.3 253.4L407.1 258.0 406.8 249.6ZM424.7 288.3L427.5 287.3 429.4 294.9ZM427.5 287.3L432.0 290.9 429.4 294.9Z"/>
<path fill="#4ba4b1" d="M447.2 260.1L447.8 265.5 441.0 265.0ZM408.5 268.9L401.9 272.6 402.1 265.8ZM403.3 260.2L408.5 268.9 402.1 265.8ZM408.5 268.9L403.3 260.2 407.1 258.0ZM452.7 276.5L443.0 274.9 445.0 272.1ZM413.3 276.3L409.1 284.0 403.1 280.0ZM418.8 253.9L426.0 254.0 423.0 256.6ZM441.2 284.0L437.2 288.5 438.9 280.2ZM431.6 256.0L429.7 255.7 430.9 252.4ZM418.8 253.9L419.9 257.1 411.9 256.9ZM419.9 257.1L418.8 253.9 423.0 256.6ZM439.5 260.6L441.6 257.0 447.2 260.1ZM439.5 260.6L437.0 256.6 441.6 257.0ZM421.8 284.2L426.6 284.2 424.7 288.3ZM437.2 288.5L430.3 285.3 438.9 280.2ZM426.6 284.2L430.3 285.3 427.5 287.3Z"/>
<path fill="#4199b6" d="M403.1 280.0L409.1 284.0 400.1 283.7ZM455.1 264.8L454.2 269.0 447.8 265.5ZM455.1 264.8L447.2 260.1 452.2 257.5ZM455.1 264.8L447.8 265.5 447.2 260.1ZM403.3 260.2L402.1 265.8 396.9 256.5ZM441.6 257.0L443.1 252.1 447.2 260.1ZM443.1 252.1L441.6 257.0 440.9 251.6ZM401.9 272.6L402.4 277.3 395.2 275.5ZM441.6 257.0L437.0 256.6 440.9 251.6ZM432.5 249.6L437.0 256.6 430.9 252.4ZM426.0 254.0L418.8 253.9 425.2 248.5ZM437.2 288.5L441.2 284.0 441.0 288.6ZM426.0 254.0L429.0 248.5 430.9 252.4ZM418.8 253.9L412.3 253.4 415.0 248.4ZM412.3 253.4L418.8 253.9 411.9 256.9ZM412.3 253.4L411.9 256.9 407.1 258.0ZM430.3 285.3L437.2 288.5 432.0 290.9ZM427.5 287.3L430.3 285.3 432.0 290.9Z"/>
<path fill="#60bba8" d="M424.5 272.0L420.5 277.5 417.3 276.2ZM424.5 272.0L425.5 276.2 420.5 277.5ZM434.5 275.9L434.6 272.8 439.1 271.1ZM427.3 273.3L430.1 274.9 425.5 276.2ZM429.6 265.0L425.9 269.1 423.6 264.3ZM425.2 261.0L429.6 265.0 423.6 264.3ZM418.2 267.6L413.7 268.1 419.1 263.7ZM429.9 267.6L436.5 267.4 434.6 272.8ZM427.3 273.3L429.9 267.6 430.1 274.9ZM429.9 267.6L433.7 264.1 436.5 267.4ZM421.1 268.2L419.1 263.7 423.6 264.3ZM421.1 268.2L418.2 267.6 419.1 263.7Z"/>
<path fill="#459eb4" d="M454.2 269.0L452.7 276.5 445.0 272.1ZM447.8 265.5L454.2 269.0 445.0 272.1ZM443.0 274.9L452.7 276.5 449.0 283.5ZM441.2 284.0L443.0 274.9 449.0 283.5ZM401.9 272.6L398.6 269.7 402.1 265.8ZM402.4 277.3L413.3 276.3 403.1 280.0ZM402.4 277.3L401.9 272.6 408.5 268.9ZM429.7 255.7L426.0 254.0 430.9 252.4ZM421.0 288.5L421.8 284.2 424.7 288.3ZM437.0 256.6L431.6 256.0 430.9 252.4ZM421.8 284.2L418.0 290.9 409.1 284.0ZM421.0 288.5L418.0 290.9 421.8 284.2ZM426.6 284.2L427.5 287.3 424.7 288.3Z"/>
<path fill="#50a9af" d="M447.8 265.5L443.5 269.0 441.0 265.0ZM443.0 274.9L441.2 284.0 438.9 280.2ZM409.1 284.0L413.3 276.3 417.3 276.2ZM413.3 276.3L402.4 277.3 408.5 268.9ZM421.8 284.2L409.1 284.0 417.3 276.2ZM426.0 254.0L425.2 261.0 423.0 256.6ZM429.7 255.7L425.2 261.0 426.0 254.0ZM434.8 260.5L431.6 256.0 437.0 256.6ZM429.7 255.7L431.6 256.0 431.5 260.5ZM413.7 268.1L408.5 268.9 407.1 258.0ZM411.9 256.9L413.7 268.1 407.1 258.0ZM419.9 257.1L418.9 260.9 411.9 256.9ZM418.9 260.9L413.7 268.1 411.9 256.9ZM439.5 260.6L447.2 260.1 441.0 265.0ZM439.5 260.6L434.8 260.5 437.0 256.6ZM423.5 280.7L426.6 284.2 421.8 284.2ZM430.3 285.3L432.2 279.3 438.9 280.2ZM430.3 285.3L426.6 284.2 430.1 279.5Z"/>
<path fill="#56b0ad" d="M443.5 269.0L447.8 265.5 445.0 272.1ZM439.1 271.1L443.5 269.0 445.0 272.1ZM443.5 269.0L439.4 267.5 441.0 265.0ZM439.4 267.5L443.5 269.0 439.1 271.1ZM443.0 274.9L439.1 271.1 445.0 272.1ZM434.5 275.9L443.0 274.9 438.9 280.2ZM420.5 277.5L421.8 284.2 417.3 276.2ZM425.2 261.0L429.7 255.7 431.5 260.5ZM423.5 280.7L421.8 284.2 420.5 277.5ZM431.6 256.0L434.8 260.5 431.5 260.5ZM426.6 284.2L423.5 280.7 430.1 279.5ZM432.2 279.3L430.3 285.3 430.1 279.5ZM413.9 271.9L413.3 276.3 408.5 268.9ZM413.7 268.1L413.9 271.9 408.5 268.9ZM420.7 259.3L419.9 257.1 423.0 256.6ZM420.7 259.3L418.9 260.9 419.9 257.1ZM425.2 261.0L420.7 259.3 423.0 256.6ZM439.5 260.6L433.7 264.1 434.8 260.5Z"/>
<path fill="#5cb7aa" d="M443.0 274.9L434.5 275.9 439.1 271.1ZM434.5 275.9L430.1 274.9 434.6 272.8ZM425.5 276.2L430.1 274.9 430.1 279.5ZM432.2 279.3L434.5 275.9 438.9 280.2ZM430.1 274.9L432.2 279.3 430.1 279.5ZM432.2 279.3L430.1 274.9 434.5 275.9ZM423.5 280.7L425.5 276.2 430.1 279.5ZM425.5 276.2L423.5 280.7 420.5 277.5ZM413.7 268.1L418.9 260.9 419.1 263.7ZM434.6 272.8L436.5 267.4 439.1 271.1ZM436.5 267.4L439.4 267.5 439.1 271.1ZM439.4 267.5L436.5 267.4 441.0 265.0ZM429.6 265.0L425.2 261.0 431.5 260.5ZM436.5 267.4L439.5 260.6 441.0 265.0ZM413.3 276.3L413.9 271.9 417.3 276.2ZM418.2 267.6L413.9 271.9 413.7 268.1ZM413.9 271.9L418.2 267.6 417.3 276.2ZM420.7 259.3L425.2 261.0 423.6 264.3ZM419.1 263.7L420.7 259.3 423.6 264.3ZM418.9 260.9L420.7 259.3 419.1 263.7ZM434.8 260.5L433.7 264.1 431.5 260.5ZM433.7 264.1L429.6 265.0 431.5 260.5ZM433.7 264.1L439.5 260.6 436.5 267.4ZM433.7 264.1L429.9 267.6 429.6 265.0Z"/>
<path fill="#66c2a5" d="M427.3 273.3L425.5 276.2 424.5 272.0ZM425.9 269.1L427.3 273.3 424.5 272.0ZM429.6 265.0L429.9 267.6 425.9 269.1ZM430.1 274.9L429.9 267.6 434.6 272.8ZM425.9 269.1L421.1 268.2 423.6 264.3ZM421.1 268.2L424.5 272.0 417.3 276.2ZM418.2 267.6L421.1 268.2 417.3 276.2Z"/>
<path fill="#6bc4a5" d="M429.9 267.6L427.3 273.3 425.9 269.1ZM421.1 268.2L425.9 269.1 424.5 272.0Z"/>
</g>
<rect x="418.81" y="255.63" width="14.97" height="37.43" fill="none" stroke="#111" stroke-width="1.1"/>
<rect x="314" y="218.2" width="224.6" height="89.84" fill="none" stroke="#111" stroke-width="0.75"/>
<circle cx="426.4" cy="218.4" r="2.15" fill="none" stroke="#f51010" stroke-width="2.1"/>
<text x="314" y="317.74" text-anchor="middle" class="tk">−1500</text>
<text x="351.43" y="317.74" text-anchor="middle" class="tk">−1000</text>
<text x="388.87" y="317.74" text-anchor="middle" class="tk">−500</text>
<text x="426.3" y="317.74" text-anchor="middle" class="tk">0</text>
<text x="463.73" y="317.74" text-anchor="middle" class="tk">500</text>
<text x="501.17" y="317.74" text-anchor="middle" class="tk">1000</text>
<text x="538.6" y="317.74" text-anchor="middle" class="tk">1500</text>
<text x="309.1" y="220.9" text-anchor="end" class="tk">0</text>
<text x="309.1" y="235.87" text-anchor="end" class="tk">−200</text>
<text x="309.1" y="250.85" text-anchor="end" class="tk">−400</text>
<text x="309.1" y="265.82" text-anchor="end" class="tk">−600</text>
<text x="309.1" y="280.79" text-anchor="end" class="tk">−800</text>
<text x="309.1" y="295.77" text-anchor="end" class="tk">−1000</text>
<text x="309.1" y="310.74" text-anchor="end" class="tk">−1200</text>
<path d="M314 308.04v2.4 M351.43 308.04v2.4 M388.87 308.04v2.4 M426.3 308.04v2.4 M463.73 308.04v2.4 M501.17 308.04v2.4 M538.6 308.04v2.4 M314 218.2h-2.4 M314 233.17h-2.4 M314 248.15h-2.4 M314 263.12h-2.4 M314 278.09h-2.4 M314 293.07h-2.4 M314 308.04h-2.4" stroke="#222" stroke-width="0.6" fill="none"/>
<text x="426.3" y="327.24" text-anchor="middle" class="al">x (m)</text>
<text transform="translate(281.5,263.12) rotate(-90)" text-anchor="middle" class="al">z (m)</text>
<text x="322" y="277.7" class="an">y = 0 m</text>
<text x="317" y="213.1" class="ti tb">(f)</text>
<rect x="193.0" y="326.2" width="180.2" height="8.2" fill="url(#cbg)" stroke="#333" stroke-width="0.6"/>
<text x="193" y="342.6" text-anchor="middle" class="ct">30</text>
<text x="229.78" y="342.6" text-anchor="middle" class="ct">48</text>
<text x="264.71" y="342.6" text-anchor="middle" class="ct">75</text>
<text x="300.84" y="342.6" text-anchor="middle" class="ct">119</text>
<text x="337.04" y="342.6" text-anchor="middle" class="ct">189</text>
<text x="373.2" y="342.6" text-anchor="middle" class="ct">300</text>
<path d="M193 334.4v2.2 M229.78 334.4v2.2 M264.71 334.4v2.2 M300.84 334.4v2.2 M337.04 334.4v2.2 M373.2 334.4v2.2" stroke="#333" stroke-width="0.5" fill="none"/>
<text x="283.1" y="350.3" text-anchor="middle" class="cl">Resistivity (Ωm)</text>
</svg></body></html>
